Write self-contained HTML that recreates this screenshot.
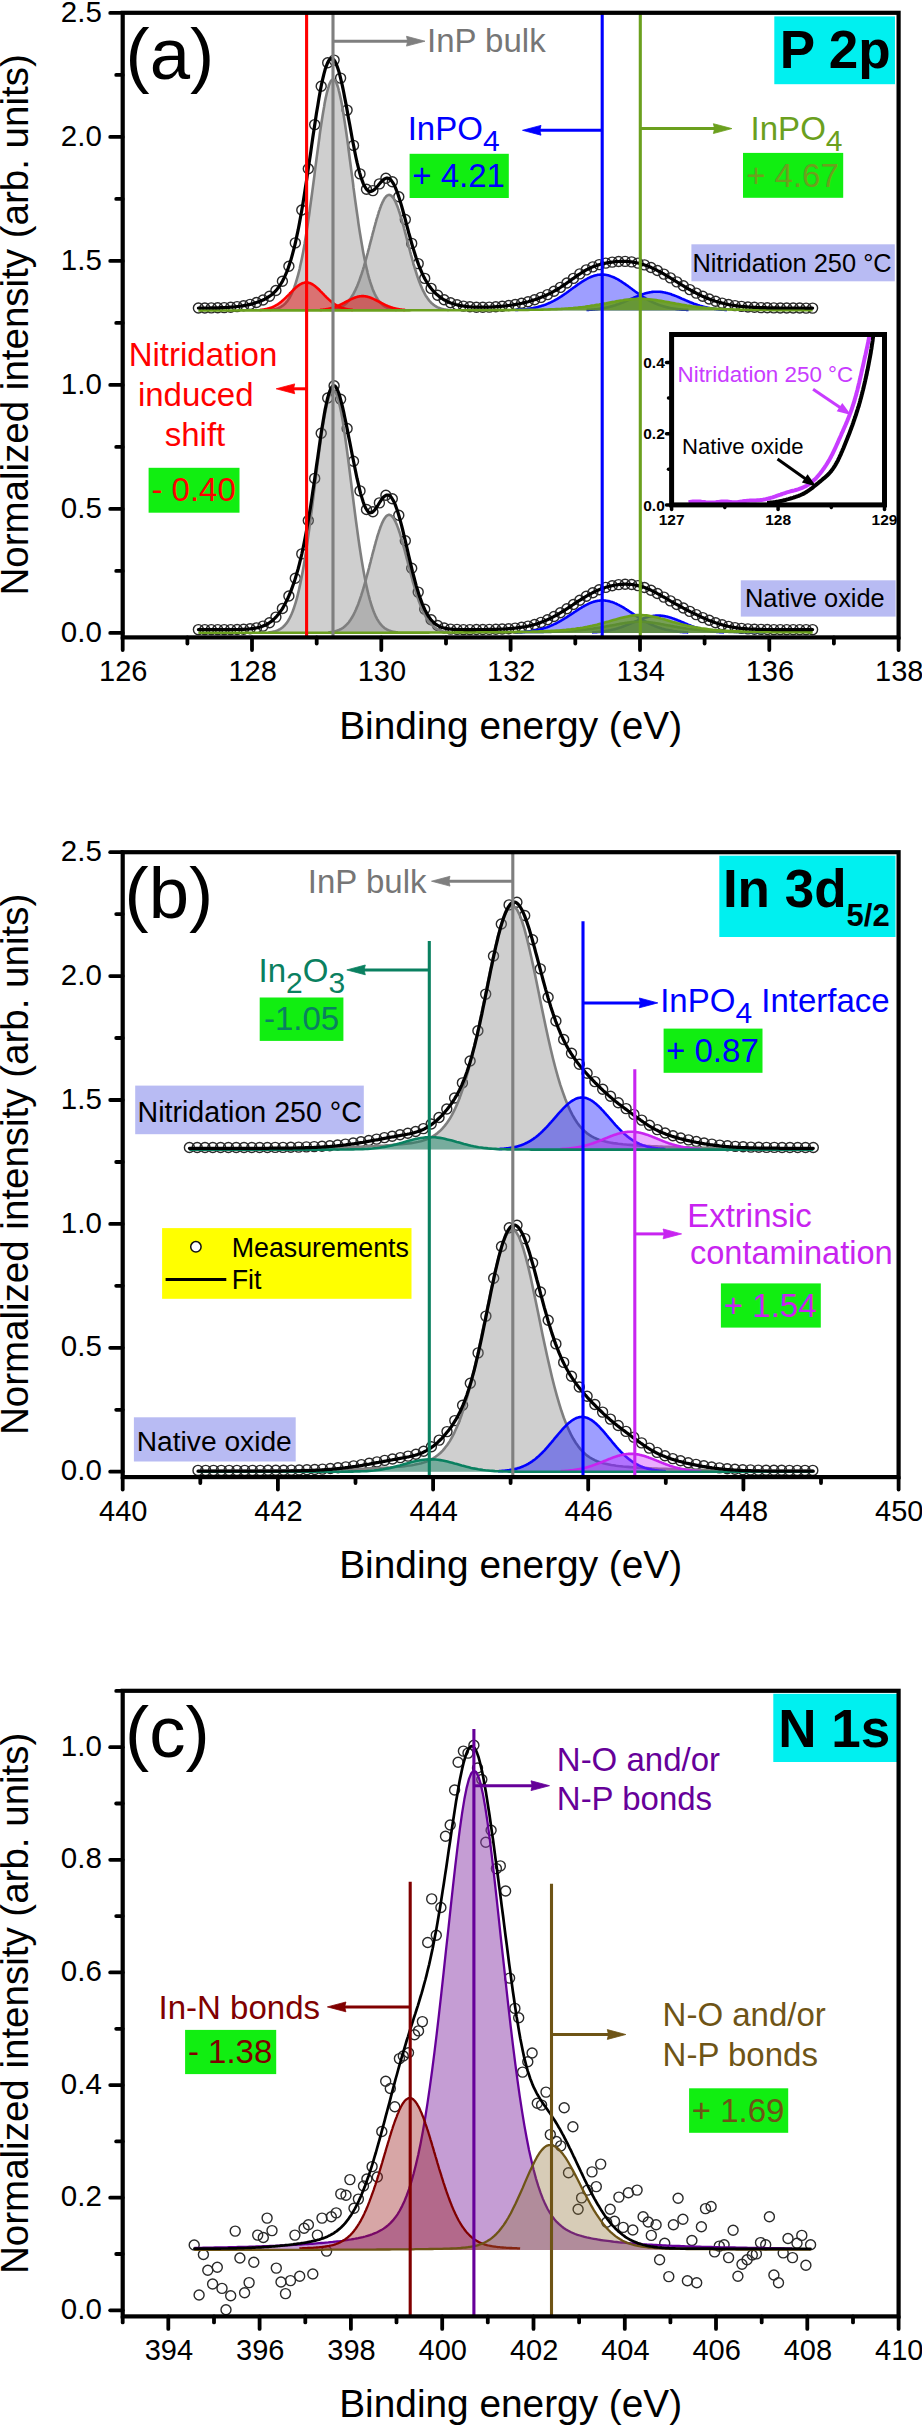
<!DOCTYPE html>
<html><head><meta charset="utf-8"><style>
html,body{margin:0;padding:0;background:#fff;}
svg{display:block;}
text{font-family:"Liberation Sans",sans-serif;}
.tk{stroke:#000;stroke-width:3.8;stroke-linecap:round;}
.fr{fill:none;stroke:#000;stroke-width:4.2;}
.tl{font-size:29px;fill:#000;}
.at{font-size:38.8px;fill:#000;}
.dp{fill:none;stroke:#2a2a2a;stroke-width:1.4;}
</style></head><body>
<svg width="922" height="2425" viewBox="0 0 922 2425">
<rect width="922" height="2425" fill="#fff"/>

<circle cx="198.4" cy="308.0" r="5.0" class="dp"/>
<circle cx="204.8" cy="308.0" r="5.0" class="dp"/>
<circle cx="211.3" cy="307.9" r="5.0" class="dp"/>
<circle cx="217.7" cy="307.8" r="5.0" class="dp"/>
<circle cx="224.2" cy="307.6" r="5.0" class="dp"/>
<circle cx="230.7" cy="307.2" r="5.0" class="dp"/>
<circle cx="237.1" cy="306.6" r="5.0" class="dp"/>
<circle cx="243.6" cy="305.7" r="5.0" class="dp"/>
<circle cx="250.1" cy="304.4" r="5.0" class="dp"/>
<circle cx="256.5" cy="302.5" r="5.0" class="dp"/>
<circle cx="263.0" cy="300.0" r="5.0" class="dp"/>
<circle cx="269.5" cy="296.3" r="5.0" class="dp"/>
<circle cx="275.9" cy="290.5" r="5.0" class="dp"/>
<circle cx="282.4" cy="281.3" r="5.0" class="dp"/>
<circle cx="288.9" cy="266.2" r="5.0" class="dp"/>
<circle cx="295.3" cy="242.9" r="5.0" class="dp"/>
<circle cx="301.8" cy="210.0" r="5.0" class="dp"/>
<circle cx="308.3" cy="168.8" r="5.0" class="dp"/>
<circle cx="314.7" cy="124.6" r="5.0" class="dp"/>
<circle cx="321.2" cy="86.2" r="5.0" class="dp"/>
<circle cx="327.7" cy="62.7" r="5.0" class="dp"/>
<circle cx="334.1" cy="60.1" r="5.0" class="dp"/>
<circle cx="340.6" cy="78.1" r="5.0" class="dp"/>
<circle cx="347.1" cy="110.1" r="5.0" class="dp"/>
<circle cx="353.5" cy="145.4" r="5.0" class="dp"/>
<circle cx="360.0" cy="173.9" r="5.0" class="dp"/>
<circle cx="366.5" cy="189.2" r="5.0" class="dp"/>
<circle cx="372.9" cy="190.6" r="5.0" class="dp"/>
<circle cx="379.4" cy="183.9" r="5.0" class="dp"/>
<circle cx="385.9" cy="178.3" r="5.0" class="dp"/>
<circle cx="392.3" cy="181.8" r="5.0" class="dp"/>
<circle cx="398.8" cy="196.8" r="5.0" class="dp"/>
<circle cx="405.3" cy="219.5" r="5.0" class="dp"/>
<circle cx="411.7" cy="243.4" r="5.0" class="dp"/>
<circle cx="418.2" cy="263.6" r="5.0" class="dp"/>
<circle cx="424.7" cy="278.4" r="5.0" class="dp"/>
<circle cx="431.1" cy="288.4" r="5.0" class="dp"/>
<circle cx="437.6" cy="295.2" r="5.0" class="dp"/>
<circle cx="444.1" cy="299.7" r="5.0" class="dp"/>
<circle cx="450.5" cy="302.8" r="5.0" class="dp"/>
<circle cx="457.0" cy="304.8" r="5.0" class="dp"/>
<circle cx="463.4" cy="306.1" r="5.0" class="dp"/>
<circle cx="469.9" cy="306.8" r="5.0" class="dp"/>
<circle cx="476.4" cy="307.2" r="5.0" class="dp"/>
<circle cx="482.8" cy="307.2" r="5.0" class="dp"/>
<circle cx="489.3" cy="307.1" r="5.0" class="dp"/>
<circle cx="495.8" cy="306.7" r="5.0" class="dp"/>
<circle cx="502.2" cy="306.2" r="5.0" class="dp"/>
<circle cx="508.7" cy="305.5" r="5.0" class="dp"/>
<circle cx="515.2" cy="304.5" r="5.0" class="dp"/>
<circle cx="521.6" cy="303.3" r="5.0" class="dp"/>
<circle cx="528.1" cy="301.7" r="5.0" class="dp"/>
<circle cx="534.6" cy="299.8" r="5.0" class="dp"/>
<circle cx="541.0" cy="297.4" r="5.0" class="dp"/>
<circle cx="547.5" cy="294.6" r="5.0" class="dp"/>
<circle cx="554.0" cy="291.3" r="5.0" class="dp"/>
<circle cx="560.4" cy="287.4" r="5.0" class="dp"/>
<circle cx="566.9" cy="283.0" r="5.0" class="dp"/>
<circle cx="573.4" cy="278.4" r="5.0" class="dp"/>
<circle cx="579.8" cy="273.9" r="5.0" class="dp"/>
<circle cx="586.3" cy="269.9" r="5.0" class="dp"/>
<circle cx="592.8" cy="266.9" r="5.0" class="dp"/>
<circle cx="599.2" cy="264.6" r="5.0" class="dp"/>
<circle cx="605.7" cy="263.1" r="5.0" class="dp"/>
<circle cx="612.2" cy="262.1" r="5.0" class="dp"/>
<circle cx="618.6" cy="261.5" r="5.0" class="dp"/>
<circle cx="625.1" cy="261.4" r="5.0" class="dp"/>
<circle cx="631.6" cy="261.9" r="5.0" class="dp"/>
<circle cx="638.0" cy="263.1" r="5.0" class="dp"/>
<circle cx="644.5" cy="264.9" r="5.0" class="dp"/>
<circle cx="651.0" cy="267.5" r="5.0" class="dp"/>
<circle cx="657.4" cy="270.5" r="5.0" class="dp"/>
<circle cx="663.9" cy="274.1" r="5.0" class="dp"/>
<circle cx="670.4" cy="277.9" r="5.0" class="dp"/>
<circle cx="676.8" cy="281.9" r="5.0" class="dp"/>
<circle cx="683.3" cy="285.8" r="5.0" class="dp"/>
<circle cx="689.8" cy="289.6" r="5.0" class="dp"/>
<circle cx="696.2" cy="293.1" r="5.0" class="dp"/>
<circle cx="702.7" cy="296.3" r="5.0" class="dp"/>
<circle cx="709.2" cy="299.0" r="5.0" class="dp"/>
<circle cx="715.6" cy="301.2" r="5.0" class="dp"/>
<circle cx="722.1" cy="303.1" r="5.0" class="dp"/>
<circle cx="728.5" cy="304.5" r="5.0" class="dp"/>
<circle cx="735.0" cy="305.6" r="5.0" class="dp"/>
<circle cx="741.5" cy="306.4" r="5.0" class="dp"/>
<circle cx="747.9" cy="307.0" r="5.0" class="dp"/>
<circle cx="754.4" cy="307.3" r="5.0" class="dp"/>
<circle cx="760.9" cy="307.6" r="5.0" class="dp"/>
<circle cx="767.3" cy="307.8" r="5.0" class="dp"/>
<circle cx="773.8" cy="307.9" r="5.0" class="dp"/>
<circle cx="780.3" cy="308.0" r="5.0" class="dp"/>
<circle cx="786.7" cy="308.0" r="5.0" class="dp"/>
<circle cx="793.2" cy="308.0" r="5.0" class="dp"/>
<circle cx="799.7" cy="308.0" r="5.0" class="dp"/>
<circle cx="806.1" cy="308.1" r="5.0" class="dp"/>
<circle cx="812.6" cy="308.1" r="5.0" class="dp"/>
<circle cx="198.4" cy="629.6" r="5.0" class="dp"/>
<circle cx="204.8" cy="629.6" r="5.0" class="dp"/>
<circle cx="211.3" cy="629.6" r="5.0" class="dp"/>
<circle cx="217.7" cy="629.6" r="5.0" class="dp"/>
<circle cx="224.2" cy="629.6" r="5.0" class="dp"/>
<circle cx="230.7" cy="629.6" r="5.0" class="dp"/>
<circle cx="237.1" cy="629.5" r="5.0" class="dp"/>
<circle cx="243.6" cy="629.3" r="5.0" class="dp"/>
<circle cx="250.1" cy="628.8" r="5.0" class="dp"/>
<circle cx="256.5" cy="627.9" r="5.0" class="dp"/>
<circle cx="263.0" cy="626.1" r="5.0" class="dp"/>
<circle cx="269.5" cy="622.7" r="5.0" class="dp"/>
<circle cx="275.9" cy="617.1" r="5.0" class="dp"/>
<circle cx="282.4" cy="608.5" r="5.0" class="dp"/>
<circle cx="288.9" cy="596.0" r="5.0" class="dp"/>
<circle cx="295.3" cy="578.3" r="5.0" class="dp"/>
<circle cx="301.8" cy="553.9" r="5.0" class="dp"/>
<circle cx="308.3" cy="520.5" r="5.0" class="dp"/>
<circle cx="314.7" cy="478.4" r="5.0" class="dp"/>
<circle cx="321.2" cy="433.3" r="5.0" class="dp"/>
<circle cx="327.7" cy="398.0" r="5.0" class="dp"/>
<circle cx="334.1" cy="385.7" r="5.0" class="dp"/>
<circle cx="340.6" cy="399.3" r="5.0" class="dp"/>
<circle cx="347.1" cy="428.5" r="5.0" class="dp"/>
<circle cx="353.5" cy="461.3" r="5.0" class="dp"/>
<circle cx="360.0" cy="490.9" r="5.0" class="dp"/>
<circle cx="366.5" cy="509.5" r="5.0" class="dp"/>
<circle cx="372.9" cy="511.8" r="5.0" class="dp"/>
<circle cx="379.4" cy="502.9" r="5.0" class="dp"/>
<circle cx="385.9" cy="495.3" r="5.0" class="dp"/>
<circle cx="392.3" cy="498.8" r="5.0" class="dp"/>
<circle cx="398.8" cy="515.3" r="5.0" class="dp"/>
<circle cx="405.3" cy="540.8" r="5.0" class="dp"/>
<circle cx="411.7" cy="568.3" r="5.0" class="dp"/>
<circle cx="418.2" cy="592.1" r="5.0" class="dp"/>
<circle cx="424.7" cy="609.3" r="5.0" class="dp"/>
<circle cx="431.1" cy="619.8" r="5.0" class="dp"/>
<circle cx="437.6" cy="625.5" r="5.0" class="dp"/>
<circle cx="444.1" cy="628.0" r="5.0" class="dp"/>
<circle cx="450.5" cy="629.1" r="5.0" class="dp"/>
<circle cx="457.0" cy="629.4" r="5.0" class="dp"/>
<circle cx="463.4" cy="629.6" r="5.0" class="dp"/>
<circle cx="469.9" cy="629.6" r="5.0" class="dp"/>
<circle cx="476.4" cy="629.5" r="5.0" class="dp"/>
<circle cx="482.8" cy="629.5" r="5.0" class="dp"/>
<circle cx="489.3" cy="629.4" r="5.0" class="dp"/>
<circle cx="495.8" cy="629.3" r="5.0" class="dp"/>
<circle cx="502.2" cy="629.0" r="5.0" class="dp"/>
<circle cx="508.7" cy="628.7" r="5.0" class="dp"/>
<circle cx="515.2" cy="628.1" r="5.0" class="dp"/>
<circle cx="521.6" cy="627.3" r="5.0" class="dp"/>
<circle cx="528.1" cy="626.1" r="5.0" class="dp"/>
<circle cx="534.6" cy="624.5" r="5.0" class="dp"/>
<circle cx="541.0" cy="622.4" r="5.0" class="dp"/>
<circle cx="547.5" cy="619.7" r="5.0" class="dp"/>
<circle cx="554.0" cy="616.5" r="5.0" class="dp"/>
<circle cx="560.4" cy="612.8" r="5.0" class="dp"/>
<circle cx="566.9" cy="608.7" r="5.0" class="dp"/>
<circle cx="573.4" cy="604.5" r="5.0" class="dp"/>
<circle cx="579.8" cy="600.2" r="5.0" class="dp"/>
<circle cx="586.3" cy="596.2" r="5.0" class="dp"/>
<circle cx="592.8" cy="592.7" r="5.0" class="dp"/>
<circle cx="599.2" cy="589.7" r="5.0" class="dp"/>
<circle cx="605.7" cy="587.4" r="5.0" class="dp"/>
<circle cx="612.2" cy="585.7" r="5.0" class="dp"/>
<circle cx="618.6" cy="584.6" r="5.0" class="dp"/>
<circle cx="625.1" cy="584.2" r="5.0" class="dp"/>
<circle cx="631.6" cy="584.5" r="5.0" class="dp"/>
<circle cx="638.0" cy="585.6" r="5.0" class="dp"/>
<circle cx="644.5" cy="587.5" r="5.0" class="dp"/>
<circle cx="651.0" cy="590.2" r="5.0" class="dp"/>
<circle cx="657.4" cy="593.5" r="5.0" class="dp"/>
<circle cx="663.9" cy="597.1" r="5.0" class="dp"/>
<circle cx="670.4" cy="600.9" r="5.0" class="dp"/>
<circle cx="676.8" cy="604.5" r="5.0" class="dp"/>
<circle cx="683.3" cy="608.0" r="5.0" class="dp"/>
<circle cx="689.8" cy="611.4" r="5.0" class="dp"/>
<circle cx="696.2" cy="614.6" r="5.0" class="dp"/>
<circle cx="702.7" cy="617.6" r="5.0" class="dp"/>
<circle cx="709.2" cy="620.3" r="5.0" class="dp"/>
<circle cx="715.6" cy="622.8" r="5.0" class="dp"/>
<circle cx="722.1" cy="624.8" r="5.0" class="dp"/>
<circle cx="728.5" cy="626.4" r="5.0" class="dp"/>
<circle cx="735.0" cy="627.6" r="5.0" class="dp"/>
<circle cx="741.5" cy="628.4" r="5.0" class="dp"/>
<circle cx="747.9" cy="628.9" r="5.0" class="dp"/>
<circle cx="754.4" cy="629.2" r="5.0" class="dp"/>
<circle cx="760.9" cy="629.4" r="5.0" class="dp"/>
<circle cx="767.3" cy="629.5" r="5.0" class="dp"/>
<circle cx="773.8" cy="629.6" r="5.0" class="dp"/>
<circle cx="780.3" cy="629.6" r="5.0" class="dp"/>
<circle cx="786.7" cy="629.6" r="5.0" class="dp"/>
<circle cx="793.2" cy="629.6" r="5.0" class="dp"/>
<circle cx="799.7" cy="629.6" r="5.0" class="dp"/>
<circle cx="806.1" cy="629.6" r="5.0" class="dp"/>
<circle cx="812.6" cy="629.6" r="5.0" class="dp"/>
<path d="M269.8,310.5 L269.8,310.0 270.3,309.9 270.8,309.9 271.2,309.8 271.7,309.8 272.2,309.7 272.7,309.6 273.2,309.5 273.7,309.4 274.2,309.3 274.7,309.2 275.2,309.1 275.7,309.0 276.1,308.9 276.6,308.7 277.1,308.6 277.6,308.4 278.1,308.2 278.6,308.0 279.1,307.8 279.6,307.6 280.1,307.3 280.6,307.1 281.0,306.8 281.5,306.5 282.0,306.2 282.5,305.8 283.0,305.5 283.5,305.1 284.0,304.7 284.5,304.2 285.0,303.8 285.5,303.3 285.9,302.7 286.4,302.2 286.9,301.6 287.4,301.0 287.9,300.3 288.4,299.6 288.9,298.8 289.4,298.0 289.9,297.2 290.3,296.3 290.8,295.4 291.3,294.4 291.8,293.4 292.3,292.3 292.8,291.2 293.3,290.0 293.8,288.7 294.3,287.4 294.8,286.0 295.2,284.6 295.7,283.1 296.2,281.5 296.7,279.9 297.2,278.2 297.7,276.4 298.2,274.6 298.7,272.7 299.2,270.7 299.7,268.7 300.1,266.5 300.6,264.3 301.1,262.1 301.6,259.7 302.1,257.3 302.6,254.8 303.1,252.2 303.6,249.5 304.1,246.8 304.6,244.0 305.0,241.1 305.5,238.2 306.0,235.2 306.5,232.1 307.0,228.9 307.5,225.7 308.0,222.5 308.5,219.1 309.0,215.7 309.5,212.3 309.9,208.8 310.4,205.2 310.9,201.6 311.4,198.0 311.9,194.3 312.4,190.6 312.9,186.9 313.4,183.2 313.9,179.4 314.4,175.6 314.8,171.8 315.3,168.1 315.8,164.3 316.3,160.5 316.8,156.7 317.3,153.0 317.8,149.3 318.3,145.6 318.8,141.9 319.3,138.3 319.7,134.8 320.2,131.3 320.7,127.9 321.2,124.5 321.7,121.3 322.2,118.1 322.7,115.0 323.2,112.0 323.7,109.1 324.2,106.3 324.6,103.6 325.1,101.0 325.6,98.5 326.1,96.2 326.6,94.0 327.1,92.0 327.6,90.1 328.1,88.3 328.6,86.7 329.0,85.2 329.5,83.9 330.0,82.8 330.5,81.8 331.0,81.0 331.5,80.3 332.0,79.8 332.5,79.5 333.0,79.4 333.5,79.4 333.9,79.6 334.4,79.9 334.9,80.5 335.4,81.1 335.9,82.0 336.4,83.0 336.9,84.2 337.4,85.5 337.9,87.0 338.4,88.7 338.8,90.5 339.3,92.4 339.8,94.5 340.3,96.7 340.8,99.0 341.3,101.5 341.8,104.1 342.3,106.8 342.8,109.6 343.3,112.6 343.7,115.6 344.2,118.7 344.7,121.9 345.2,125.2 345.7,128.6 346.2,132.0 346.7,135.5 347.2,139.1 347.7,142.7 348.2,146.3 348.6,150.0 349.1,153.7 349.6,157.5 350.1,161.3 350.6,165.0 351.1,168.8 351.6,172.6 352.1,176.4 352.6,180.2 353.1,183.9 353.5,187.7 354.0,191.4 354.5,195.1 355.0,198.8 355.5,202.4 356.0,206.0 356.5,209.5 357.0,213.0 357.5,216.4 358.0,219.8 358.4,223.1 358.9,226.4 359.4,229.6 359.9,232.7 360.4,235.8 360.9,238.8 361.4,241.7 361.9,244.6 362.4,247.4 362.8,250.1 363.3,252.7 363.8,255.3 364.3,257.8 364.8,260.2 365.3,262.5 365.8,264.8 366.3,267.0 366.8,269.1 367.3,271.1 367.7,273.1 368.2,275.0 368.7,276.8 369.2,278.6 369.7,280.2 370.2,281.9 370.7,283.4 371.2,284.9 371.7,286.3 372.2,287.7 372.6,289.0 373.1,290.2 373.6,291.4 374.1,292.5 374.6,293.6 375.1,294.6 375.6,295.6 376.1,296.5 376.6,297.4 377.1,298.2 377.5,299.0 378.0,299.7 378.5,300.4 379.0,301.1 379.5,301.7 380.0,302.3 380.5,302.9 381.0,303.4 381.5,303.9 382.0,304.3 382.4,304.8 382.9,305.2 383.4,305.6 383.9,305.9 384.4,306.3 384.9,306.6 385.4,306.9 385.9,307.1 386.4,307.4 386.9,307.6 387.3,307.9 387.8,308.1 388.3,308.3 388.8,308.4 389.3,308.6 389.8,308.7 390.3,308.9 390.8,309.0 391.3,309.1 391.8,309.3 392.2,309.4 392.7,309.5 393.2,309.5 393.7,309.6 394.2,309.7 394.7,309.8 395.2,309.8 395.7,309.9 396.2,310.0 396.7,310.0 L396.7,310.5 Z" fill="rgba(128,128,128,0.38)" stroke="none"/>
<polyline points="269.8,310.0 270.3,309.9 270.8,309.9 271.2,309.8 271.7,309.8 272.2,309.7 272.7,309.6 273.2,309.5 273.7,309.4 274.2,309.3 274.7,309.2 275.2,309.1 275.7,309.0 276.1,308.9 276.6,308.7 277.1,308.6 277.6,308.4 278.1,308.2 278.6,308.0 279.1,307.8 279.6,307.6 280.1,307.3 280.6,307.1 281.0,306.8 281.5,306.5 282.0,306.2 282.5,305.8 283.0,305.5 283.5,305.1 284.0,304.7 284.5,304.2 285.0,303.8 285.5,303.3 285.9,302.7 286.4,302.2 286.9,301.6 287.4,301.0 287.9,300.3 288.4,299.6 288.9,298.8 289.4,298.0 289.9,297.2 290.3,296.3 290.8,295.4 291.3,294.4 291.8,293.4 292.3,292.3 292.8,291.2 293.3,290.0 293.8,288.7 294.3,287.4 294.8,286.0 295.2,284.6 295.7,283.1 296.2,281.5 296.7,279.9 297.2,278.2 297.7,276.4 298.2,274.6 298.7,272.7 299.2,270.7 299.7,268.7 300.1,266.5 300.6,264.3 301.1,262.1 301.6,259.7 302.1,257.3 302.6,254.8 303.1,252.2 303.6,249.5 304.1,246.8 304.6,244.0 305.0,241.1 305.5,238.2 306.0,235.2 306.5,232.1 307.0,228.9 307.5,225.7 308.0,222.5 308.5,219.1 309.0,215.7 309.5,212.3 309.9,208.8 310.4,205.2 310.9,201.6 311.4,198.0 311.9,194.3 312.4,190.6 312.9,186.9 313.4,183.2 313.9,179.4 314.4,175.6 314.8,171.8 315.3,168.1 315.8,164.3 316.3,160.5 316.8,156.7 317.3,153.0 317.8,149.3 318.3,145.6 318.8,141.9 319.3,138.3 319.7,134.8 320.2,131.3 320.7,127.9 321.2,124.5 321.7,121.3 322.2,118.1 322.7,115.0 323.2,112.0 323.7,109.1 324.2,106.3 324.6,103.6 325.1,101.0 325.6,98.5 326.1,96.2 326.6,94.0 327.1,92.0 327.6,90.1 328.1,88.3 328.6,86.7 329.0,85.2 329.5,83.9 330.0,82.8 330.5,81.8 331.0,81.0 331.5,80.3 332.0,79.8 332.5,79.5 333.0,79.4 333.5,79.4 333.9,79.6 334.4,79.9 334.9,80.5 335.4,81.1 335.9,82.0 336.4,83.0 336.9,84.2 337.4,85.5 337.9,87.0 338.4,88.7 338.8,90.5 339.3,92.4 339.8,94.5 340.3,96.7 340.8,99.0 341.3,101.5 341.8,104.1 342.3,106.8 342.8,109.6 343.3,112.6 343.7,115.6 344.2,118.7 344.7,121.9 345.2,125.2 345.7,128.6 346.2,132.0 346.7,135.5 347.2,139.1 347.7,142.7 348.2,146.3 348.6,150.0 349.1,153.7 349.6,157.5 350.1,161.3 350.6,165.0 351.1,168.8 351.6,172.6 352.1,176.4 352.6,180.2 353.1,183.9 353.5,187.7 354.0,191.4 354.5,195.1 355.0,198.8 355.5,202.4 356.0,206.0 356.5,209.5 357.0,213.0 357.5,216.4 358.0,219.8 358.4,223.1 358.9,226.4 359.4,229.6 359.9,232.7 360.4,235.8 360.9,238.8 361.4,241.7 361.9,244.6 362.4,247.4 362.8,250.1 363.3,252.7 363.8,255.3 364.3,257.8 364.8,260.2 365.3,262.5 365.8,264.8 366.3,267.0 366.8,269.1 367.3,271.1 367.7,273.1 368.2,275.0 368.7,276.8 369.2,278.6 369.7,280.2 370.2,281.9 370.7,283.4 371.2,284.9 371.7,286.3 372.2,287.7 372.6,289.0 373.1,290.2 373.6,291.4 374.1,292.5 374.6,293.6 375.1,294.6 375.6,295.6 376.1,296.5 376.6,297.4 377.1,298.2 377.5,299.0 378.0,299.7 378.5,300.4 379.0,301.1 379.5,301.7 380.0,302.3 380.5,302.9 381.0,303.4 381.5,303.9 382.0,304.3 382.4,304.8 382.9,305.2 383.4,305.6 383.9,305.9 384.4,306.3 384.9,306.6 385.4,306.9 385.9,307.1 386.4,307.4 386.9,307.6 387.3,307.9 387.8,308.1 388.3,308.3 388.8,308.4 389.3,308.6 389.8,308.7 390.3,308.9 390.8,309.0 391.3,309.1 391.8,309.3 392.2,309.4 392.7,309.5 393.2,309.5 393.7,309.6 394.2,309.7 394.7,309.8 395.2,309.8 395.7,309.9 396.2,310.0 396.7,310.0" fill="none" stroke="#7f7f7f" stroke-width="2.6" stroke-linejoin="round"/>
<path d="M329.4,310.5 L329.4,310.0 329.8,309.9 330.3,309.9 330.8,309.9 331.2,309.8 331.7,309.7 332.1,309.7 332.6,309.6 333.1,309.5 333.5,309.4 334.0,309.4 334.4,309.3 334.9,309.2 335.4,309.1 335.8,309.0 336.3,308.8 336.8,308.7 337.2,308.6 337.7,308.4 338.1,308.3 338.6,308.1 339.1,307.9 339.5,307.8 340.0,307.6 340.4,307.4 340.9,307.1 341.4,306.9 341.8,306.6 342.3,306.4 342.8,306.1 343.2,305.8 343.7,305.5 344.1,305.2 344.6,304.8 345.1,304.5 345.5,304.1 346.0,303.7 346.4,303.3 346.9,302.8 347.4,302.3 347.8,301.8 348.3,301.3 348.8,300.8 349.2,300.2 349.7,299.6 350.1,299.0 350.6,298.4 351.1,297.7 351.5,297.0 352.0,296.3 352.4,295.5 352.9,294.8 353.4,293.9 353.8,293.1 354.3,292.2 354.7,291.3 355.2,290.4 355.7,289.4 356.1,288.4 356.6,287.3 357.1,286.3 357.5,285.2 358.0,284.0 358.4,282.9 358.9,281.6 359.4,280.4 359.8,279.1 360.3,277.8 360.7,276.5 361.2,275.1 361.7,273.7 362.1,272.3 362.6,270.8 363.1,269.3 363.5,267.8 364.0,266.3 364.4,264.7 364.9,263.1 365.4,261.5 365.8,259.8 366.3,258.2 366.7,256.5 367.2,254.8 367.7,253.0 368.1,251.3 368.6,249.6 369.1,247.8 369.5,246.0 370.0,244.2 370.4,242.5 370.9,240.7 371.4,238.9 371.8,237.1 372.3,235.3 372.7,233.6 373.2,231.8 373.7,230.1 374.1,228.3 374.6,226.6 375.1,224.9 375.5,223.2 376.0,221.6 376.4,219.9 376.9,218.3 377.4,216.8 377.8,215.3 378.3,213.8 378.7,212.3 379.2,210.9 379.7,209.6 380.1,208.2 380.6,207.0 381.0,205.8 381.5,204.6 382.0,203.5 382.4,202.5 382.9,201.5 383.4,200.6 383.8,199.7 384.3,198.9 384.7,198.2 385.2,197.6 385.7,197.0 386.1,196.5 386.6,196.0 387.0,195.7 387.5,195.4 388.0,195.2 388.4,195.0 388.9,194.9 389.4,194.9 389.8,195.0 390.3,195.2 390.7,195.4 391.2,195.7 391.7,196.1 392.1,196.5 392.6,197.1 393.0,197.6 393.5,198.3 394.0,199.0 394.4,199.8 394.9,200.7 395.4,201.6 395.8,202.6 396.3,203.7 396.7,204.8 397.2,205.9 397.7,207.2 398.1,208.4 398.6,209.7 399.0,211.1 399.5,212.5 400.0,214.0 400.4,215.5 400.9,217.0 401.4,218.6 401.8,220.2 402.3,221.8 402.7,223.4 403.2,225.1 403.7,226.8 404.1,228.6 404.6,230.3 405.0,232.0 405.5,233.8 406.0,235.6 406.4,237.4 406.9,239.1 407.3,240.9 407.8,242.7 408.3,244.5 408.7,246.3 409.2,248.0 409.7,249.8 410.1,251.5 410.6,253.3 411.0,255.0 411.5,256.7 412.0,258.4 412.4,260.0 412.9,261.7 413.3,263.3 413.8,264.9 414.3,266.5 414.7,268.0 415.2,269.5 415.7,271.0 416.1,272.5 416.6,273.9 417.0,275.3 417.5,276.7 418.0,278.0 418.4,279.3 418.9,280.6 419.3,281.8 419.8,283.0 420.3,284.2 420.7,285.3 421.2,286.4 421.7,287.5 422.1,288.5 422.6,289.5 423.0,290.5 423.5,291.4 424.0,292.3 424.4,293.2 424.9,294.1 425.3,294.9 425.8,295.7 426.3,296.4 426.7,297.1 427.2,297.8 427.7,298.5 428.1,299.1 428.6,299.7 429.0,300.3 429.5,300.9 430.0,301.4 430.4,301.9 430.9,302.4 431.3,302.9 431.8,303.3 432.3,303.7 432.7,304.1 433.2,304.5 433.6,304.9 434.1,305.2 434.6,305.5 435.0,305.9 435.5,306.1 436.0,306.4 436.4,306.7 436.9,306.9 437.3,307.2 437.8,307.4 438.3,307.6 438.7,307.8 439.2,308.0 439.6,308.1 440.1,308.3 440.6,308.5 441.0,308.6 441.5,308.7 442.0,308.9 442.4,309.0 442.9,309.1 443.3,309.2 443.8,309.3 444.3,309.4 444.7,309.5 445.2,309.5 445.6,309.6 446.1,309.7 446.6,309.7 447.0,309.8 447.5,309.9 448.0,309.9 448.4,310.0 448.9,310.0 L448.9,310.5 Z" fill="rgba(128,128,128,0.38)" stroke="none"/>
<polyline points="329.4,310.0 329.8,309.9 330.3,309.9 330.8,309.9 331.2,309.8 331.7,309.7 332.1,309.7 332.6,309.6 333.1,309.5 333.5,309.4 334.0,309.4 334.4,309.3 334.9,309.2 335.4,309.1 335.8,309.0 336.3,308.8 336.8,308.7 337.2,308.6 337.7,308.4 338.1,308.3 338.6,308.1 339.1,307.9 339.5,307.8 340.0,307.6 340.4,307.4 340.9,307.1 341.4,306.9 341.8,306.6 342.3,306.4 342.8,306.1 343.2,305.8 343.7,305.5 344.1,305.2 344.6,304.8 345.1,304.5 345.5,304.1 346.0,303.7 346.4,303.3 346.9,302.8 347.4,302.3 347.8,301.8 348.3,301.3 348.8,300.8 349.2,300.2 349.7,299.6 350.1,299.0 350.6,298.4 351.1,297.7 351.5,297.0 352.0,296.3 352.4,295.5 352.9,294.8 353.4,293.9 353.8,293.1 354.3,292.2 354.7,291.3 355.2,290.4 355.7,289.4 356.1,288.4 356.6,287.3 357.1,286.3 357.5,285.2 358.0,284.0 358.4,282.9 358.9,281.6 359.4,280.4 359.8,279.1 360.3,277.8 360.7,276.5 361.2,275.1 361.7,273.7 362.1,272.3 362.6,270.8 363.1,269.3 363.5,267.8 364.0,266.3 364.4,264.7 364.9,263.1 365.4,261.5 365.8,259.8 366.3,258.2 366.7,256.5 367.2,254.8 367.7,253.0 368.1,251.3 368.6,249.6 369.1,247.8 369.5,246.0 370.0,244.2 370.4,242.5 370.9,240.7 371.4,238.9 371.8,237.1 372.3,235.3 372.7,233.6 373.2,231.8 373.7,230.1 374.1,228.3 374.6,226.6 375.1,224.9 375.5,223.2 376.0,221.6 376.4,219.9 376.9,218.3 377.4,216.8 377.8,215.3 378.3,213.8 378.7,212.3 379.2,210.9 379.7,209.6 380.1,208.2 380.6,207.0 381.0,205.8 381.5,204.6 382.0,203.5 382.4,202.5 382.9,201.5 383.4,200.6 383.8,199.7 384.3,198.9 384.7,198.2 385.2,197.6 385.7,197.0 386.1,196.5 386.6,196.0 387.0,195.7 387.5,195.4 388.0,195.2 388.4,195.0 388.9,194.9 389.4,194.9 389.8,195.0 390.3,195.2 390.7,195.4 391.2,195.7 391.7,196.1 392.1,196.5 392.6,197.1 393.0,197.6 393.5,198.3 394.0,199.0 394.4,199.8 394.9,200.7 395.4,201.6 395.8,202.6 396.3,203.7 396.7,204.8 397.2,205.9 397.7,207.2 398.1,208.4 398.6,209.7 399.0,211.1 399.5,212.5 400.0,214.0 400.4,215.5 400.9,217.0 401.4,218.6 401.8,220.2 402.3,221.8 402.7,223.4 403.2,225.1 403.7,226.8 404.1,228.6 404.6,230.3 405.0,232.0 405.5,233.8 406.0,235.6 406.4,237.4 406.9,239.1 407.3,240.9 407.8,242.7 408.3,244.5 408.7,246.3 409.2,248.0 409.7,249.8 410.1,251.5 410.6,253.3 411.0,255.0 411.5,256.7 412.0,258.4 412.4,260.0 412.9,261.7 413.3,263.3 413.8,264.9 414.3,266.5 414.7,268.0 415.2,269.5 415.7,271.0 416.1,272.5 416.6,273.9 417.0,275.3 417.5,276.7 418.0,278.0 418.4,279.3 418.9,280.6 419.3,281.8 419.8,283.0 420.3,284.2 420.7,285.3 421.2,286.4 421.7,287.5 422.1,288.5 422.6,289.5 423.0,290.5 423.5,291.4 424.0,292.3 424.4,293.2 424.9,294.1 425.3,294.9 425.8,295.7 426.3,296.4 426.7,297.1 427.2,297.8 427.7,298.5 428.1,299.1 428.6,299.7 429.0,300.3 429.5,300.9 430.0,301.4 430.4,301.9 430.9,302.4 431.3,302.9 431.8,303.3 432.3,303.7 432.7,304.1 433.2,304.5 433.6,304.9 434.1,305.2 434.6,305.5 435.0,305.9 435.5,306.1 436.0,306.4 436.4,306.7 436.9,306.9 437.3,307.2 437.8,307.4 438.3,307.6 438.7,307.8 439.2,308.0 439.6,308.1 440.1,308.3 440.6,308.5 441.0,308.6 441.5,308.7 442.0,308.9 442.4,309.0 442.9,309.1 443.3,309.2 443.8,309.3 444.3,309.4 444.7,309.5 445.2,309.5 445.6,309.6 446.1,309.7 446.6,309.7 447.0,309.8 447.5,309.9 448.0,309.9 448.4,310.0 448.9,310.0" fill="none" stroke="#7f7f7f" stroke-width="2.6" stroke-linejoin="round"/>
<path d="M259.6,310.5 L259.6,310.0 260.0,310.0 260.4,309.9 260.7,309.9 261.1,309.9 261.4,309.8 261.8,309.8 262.2,309.7 262.5,309.7 262.9,309.6 263.2,309.6 263.6,309.5 264.0,309.5 264.3,309.4 264.7,309.4 265.0,309.3 265.4,309.2 265.8,309.1 266.1,309.1 266.5,309.0 266.8,308.9 267.2,308.8 267.6,308.7 267.9,308.6 268.3,308.6 268.7,308.4 269.0,308.3 269.4,308.2 269.7,308.1 270.1,308.0 270.5,307.9 270.8,307.8 271.2,307.6 271.5,307.5 271.9,307.3 272.3,307.2 272.6,307.0 273.0,306.9 273.3,306.7 273.7,306.6 274.1,306.4 274.4,306.2 274.8,306.0 275.1,305.8 275.5,305.6 275.9,305.4 276.2,305.2 276.6,305.0 276.9,304.8 277.3,304.6 277.7,304.3 278.0,304.1 278.4,303.8 278.7,303.6 279.1,303.3 279.5,303.1 279.8,302.8 280.2,302.5 280.6,302.3 280.9,302.0 281.3,301.7 281.6,301.4 282.0,301.1 282.4,300.8 282.7,300.5 283.1,300.2 283.4,299.8 283.8,299.5 284.2,299.2 284.5,298.8 284.9,298.5 285.2,298.2 285.6,297.8 286.0,297.5 286.3,297.1 286.7,296.7 287.0,296.4 287.4,296.0 287.8,295.7 288.1,295.3 288.5,294.9 288.8,294.5 289.2,294.2 289.6,293.8 289.9,293.4 290.3,293.1 290.6,292.7 291.0,292.3 291.4,291.9 291.7,291.6 292.1,291.2 292.5,290.8 292.8,290.5 293.2,290.1 293.5,289.8 293.9,289.4 294.3,289.1 294.6,288.7 295.0,288.4 295.3,288.1 295.7,287.7 296.1,287.4 296.4,287.1 296.8,286.8 297.1,286.5 297.5,286.2 297.9,285.9 298.2,285.7 298.6,285.4 298.9,285.2 299.3,284.9 299.7,284.7 300.0,284.5 300.4,284.2 300.7,284.0 301.1,283.9 301.5,283.7 301.8,283.5 302.2,283.3 302.5,283.2 302.9,283.1 303.3,283.0 303.6,282.9 304.0,282.8 304.3,282.7 304.7,282.6 305.1,282.6 305.4,282.5 305.8,282.5 306.2,282.5 306.5,282.5 306.9,282.5 307.2,282.5 307.6,282.6 308.0,282.6 308.3,282.7 308.7,282.8 309.0,282.9 309.4,283.0 309.8,283.1 310.1,283.2 310.5,283.4 310.8,283.5 311.2,283.7 311.6,283.9 311.9,284.0 312.3,284.2 312.6,284.5 313.0,284.7 313.4,284.9 313.7,285.2 314.1,285.4 314.4,285.7 314.8,286.0 315.2,286.2 315.5,286.5 315.9,286.8 316.2,287.1 316.6,287.4 317.0,287.8 317.3,288.1 317.7,288.4 318.1,288.7 318.4,289.1 318.8,289.4 319.1,289.8 319.5,290.1 319.9,290.5 320.2,290.9 320.6,291.2 320.9,291.6 321.3,292.0 321.7,292.3 322.0,292.7 322.4,293.1 322.7,293.4 323.1,293.8 323.5,294.2 323.8,294.5 324.2,294.9 324.5,295.3 324.9,295.7 325.3,296.0 325.6,296.4 326.0,296.7 326.3,297.1 326.7,297.5 327.1,297.8 327.4,298.2 327.8,298.5 328.1,298.8 328.5,299.2 328.9,299.5 329.2,299.8 329.6,300.2 330.0,300.5 330.3,300.8 330.7,301.1 331.0,301.4 331.4,301.7 331.8,302.0 332.1,302.3 332.5,302.5 332.8,302.8 333.2,303.1 333.6,303.3 333.9,303.6 334.3,303.9 334.6,304.1 335.0,304.3 335.4,304.6 335.7,304.8 336.1,305.0 336.4,305.2 336.8,305.4 337.2,305.6 337.5,305.8 337.9,306.0 338.2,306.2 338.6,306.4 339.0,306.6 339.3,306.7 339.7,306.9 340.0,307.0 340.4,307.2 340.8,307.3 341.1,307.5 341.5,307.6 341.8,307.8 342.2,307.9 342.6,308.0 342.9,308.1 343.3,308.2 343.7,308.3 344.0,308.5 344.4,308.6 344.7,308.6 345.1,308.7 345.5,308.8 345.8,308.9 346.2,309.0 346.5,309.1 346.9,309.1 347.3,309.2 347.6,309.3 348.0,309.4 348.3,309.4 348.7,309.5 349.1,309.5 349.4,309.6 349.8,309.6 350.1,309.7 350.5,309.7 350.9,309.8 351.2,309.8 351.6,309.9 351.9,309.9 352.3,309.9 352.7,310.0 353.0,310.0 L353.0,310.5 Z" fill="rgba(230,0,0,0.45)" stroke="none"/>
<polyline points="259.6,310.0 260.0,310.0 260.4,309.9 260.7,309.9 261.1,309.9 261.4,309.8 261.8,309.8 262.2,309.7 262.5,309.7 262.9,309.6 263.2,309.6 263.6,309.5 264.0,309.5 264.3,309.4 264.7,309.4 265.0,309.3 265.4,309.2 265.8,309.1 266.1,309.1 266.5,309.0 266.8,308.9 267.2,308.8 267.6,308.7 267.9,308.6 268.3,308.6 268.7,308.4 269.0,308.3 269.4,308.2 269.7,308.1 270.1,308.0 270.5,307.9 270.8,307.8 271.2,307.6 271.5,307.5 271.9,307.3 272.3,307.2 272.6,307.0 273.0,306.9 273.3,306.7 273.7,306.6 274.1,306.4 274.4,306.2 274.8,306.0 275.1,305.8 275.5,305.6 275.9,305.4 276.2,305.2 276.6,305.0 276.9,304.8 277.3,304.6 277.7,304.3 278.0,304.1 278.4,303.8 278.7,303.6 279.1,303.3 279.5,303.1 279.8,302.8 280.2,302.5 280.6,302.3 280.9,302.0 281.3,301.7 281.6,301.4 282.0,301.1 282.4,300.8 282.7,300.5 283.1,300.2 283.4,299.8 283.8,299.5 284.2,299.2 284.5,298.8 284.9,298.5 285.2,298.2 285.6,297.8 286.0,297.5 286.3,297.1 286.7,296.7 287.0,296.4 287.4,296.0 287.8,295.7 288.1,295.3 288.5,294.9 288.8,294.5 289.2,294.2 289.6,293.8 289.9,293.4 290.3,293.1 290.6,292.7 291.0,292.3 291.4,291.9 291.7,291.6 292.1,291.2 292.5,290.8 292.8,290.5 293.2,290.1 293.5,289.8 293.9,289.4 294.3,289.1 294.6,288.7 295.0,288.4 295.3,288.1 295.7,287.7 296.1,287.4 296.4,287.1 296.8,286.8 297.1,286.5 297.5,286.2 297.9,285.9 298.2,285.7 298.6,285.4 298.9,285.2 299.3,284.9 299.7,284.7 300.0,284.5 300.4,284.2 300.7,284.0 301.1,283.9 301.5,283.7 301.8,283.5 302.2,283.3 302.5,283.2 302.9,283.1 303.3,283.0 303.6,282.9 304.0,282.8 304.3,282.7 304.7,282.6 305.1,282.6 305.4,282.5 305.8,282.5 306.2,282.5 306.5,282.5 306.9,282.5 307.2,282.5 307.6,282.6 308.0,282.6 308.3,282.7 308.7,282.8 309.0,282.9 309.4,283.0 309.8,283.1 310.1,283.2 310.5,283.4 310.8,283.5 311.2,283.7 311.6,283.9 311.9,284.0 312.3,284.2 312.6,284.5 313.0,284.7 313.4,284.9 313.7,285.2 314.1,285.4 314.4,285.7 314.8,286.0 315.2,286.2 315.5,286.5 315.9,286.8 316.2,287.1 316.6,287.4 317.0,287.8 317.3,288.1 317.7,288.4 318.1,288.7 318.4,289.1 318.8,289.4 319.1,289.8 319.5,290.1 319.9,290.5 320.2,290.9 320.6,291.2 320.9,291.6 321.3,292.0 321.7,292.3 322.0,292.7 322.4,293.1 322.7,293.4 323.1,293.8 323.5,294.2 323.8,294.5 324.2,294.9 324.5,295.3 324.9,295.7 325.3,296.0 325.6,296.4 326.0,296.7 326.3,297.1 326.7,297.5 327.1,297.8 327.4,298.2 327.8,298.5 328.1,298.8 328.5,299.2 328.9,299.5 329.2,299.8 329.6,300.2 330.0,300.5 330.3,300.8 330.7,301.1 331.0,301.4 331.4,301.7 331.8,302.0 332.1,302.3 332.5,302.5 332.8,302.8 333.2,303.1 333.6,303.3 333.9,303.6 334.3,303.9 334.6,304.1 335.0,304.3 335.4,304.6 335.7,304.8 336.1,305.0 336.4,305.2 336.8,305.4 337.2,305.6 337.5,305.8 337.9,306.0 338.2,306.2 338.6,306.4 339.0,306.6 339.3,306.7 339.7,306.9 340.0,307.0 340.4,307.2 340.8,307.3 341.1,307.5 341.5,307.6 341.8,307.8 342.2,307.9 342.6,308.0 342.9,308.1 343.3,308.2 343.7,308.3 344.0,308.5 344.4,308.6 344.7,308.6 345.1,308.7 345.5,308.8 345.8,308.9 346.2,309.0 346.5,309.1 346.9,309.1 347.3,309.2 347.6,309.3 348.0,309.4 348.3,309.4 348.7,309.5 349.1,309.5 349.4,309.6 349.8,309.6 350.1,309.7 350.5,309.7 350.9,309.8 351.2,309.8 351.6,309.9 351.9,309.9 352.3,309.9 352.7,310.0 353.0,310.0" fill="none" stroke="#ff0000" stroke-width="2.6" stroke-linejoin="round"/>
<path d="M319.8,310.5 L319.8,310.0 320.2,310.0 320.5,309.9 320.8,309.9 321.2,309.9 321.5,309.9 321.8,309.8 322.2,309.8 322.5,309.8 322.8,309.7 323.1,309.7 323.5,309.6 323.8,309.6 324.1,309.6 324.5,309.5 324.8,309.5 325.1,309.4 325.5,309.4 325.8,309.3 326.1,309.3 326.4,309.2 326.8,309.1 327.1,309.1 327.4,309.0 327.8,309.0 328.1,308.9 328.4,308.8 328.8,308.8 329.1,308.7 329.4,308.6 329.7,308.5 330.1,308.4 330.4,308.4 330.7,308.3 331.1,308.2 331.4,308.1 331.7,308.0 332.0,307.9 332.4,307.8 332.7,307.7 333.0,307.6 333.4,307.5 333.7,307.4 334.0,307.3 334.4,307.2 334.7,307.1 335.0,307.0 335.3,306.8 335.7,306.7 336.0,306.6 336.3,306.5 336.7,306.3 337.0,306.2 337.3,306.1 337.7,305.9 338.0,305.8 338.3,305.6 338.6,305.5 339.0,305.3 339.3,305.2 339.6,305.0 340.0,304.9 340.3,304.7 340.6,304.6 341.0,304.4 341.3,304.3 341.6,304.1 341.9,303.9 342.3,303.8 342.6,303.6 342.9,303.4 343.3,303.3 343.6,303.1 343.9,302.9 344.3,302.8 344.6,302.6 344.9,302.4 345.2,302.2 345.6,302.1 345.9,301.9 346.2,301.7 346.6,301.5 346.9,301.4 347.2,301.2 347.5,301.0 347.9,300.8 348.2,300.7 348.5,300.5 348.9,300.3 349.2,300.2 349.5,300.0 349.9,299.8 350.2,299.7 350.5,299.5 350.8,299.3 351.2,299.2 351.5,299.0 351.8,298.9 352.2,298.7 352.5,298.6 352.8,298.4 353.2,298.3 353.5,298.2 353.8,298.0 354.1,297.9 354.5,297.8 354.8,297.6 355.1,297.5 355.5,297.4 355.8,297.3 356.1,297.2 356.5,297.1 356.8,297.0 357.1,296.9 357.4,296.8 357.8,296.7 358.1,296.6 358.4,296.6 358.8,296.5 359.1,296.4 359.4,296.4 359.7,296.3 360.1,296.3 360.4,296.2 360.7,296.2 361.1,296.2 361.4,296.2 361.7,296.1 362.1,296.1 362.4,296.1 362.7,296.1 363.0,296.1 363.4,296.1 363.7,296.1 364.0,296.2 364.4,296.2 364.7,296.2 365.0,296.3 365.4,296.3 365.7,296.4 366.0,296.4 366.3,296.5 366.7,296.6 367.0,296.6 367.3,296.7 367.7,296.8 368.0,296.9 368.3,297.0 368.7,297.1 369.0,297.2 369.3,297.3 369.6,297.4 370.0,297.5 370.3,297.6 370.6,297.7 371.0,297.9 371.3,298.0 371.6,298.1 371.9,298.3 372.3,298.4 372.6,298.5 372.9,298.7 373.3,298.8 373.6,299.0 373.9,299.2 374.3,299.3 374.6,299.5 374.9,299.6 375.2,299.8 375.6,300.0 375.9,300.1 376.2,300.3 376.6,300.5 376.9,300.6 377.2,300.8 377.6,301.0 377.9,301.2 378.2,301.3 378.5,301.5 378.9,301.7 379.2,301.9 379.5,302.0 379.9,302.2 380.2,302.4 380.5,302.5 380.9,302.7 381.2,302.9 381.5,303.1 381.8,303.2 382.2,303.4 382.5,303.6 382.8,303.7 383.2,303.9 383.5,304.1 383.8,304.2 384.1,304.4 384.5,304.6 384.8,304.7 385.1,304.9 385.5,305.0 385.8,305.2 386.1,305.3 386.5,305.5 386.8,305.6 387.1,305.8 387.4,305.9 387.8,306.0 388.1,306.2 388.4,306.3 388.8,306.4 389.1,306.6 389.4,306.7 389.8,306.8 390.1,306.9 390.4,307.0 390.7,307.2 391.1,307.3 391.4,307.4 391.7,307.5 392.1,307.6 392.4,307.7 392.7,307.8 393.1,307.9 393.4,308.0 393.7,308.1 394.0,308.2 394.4,308.3 394.7,308.3 395.0,308.4 395.4,308.5 395.7,308.6 396.0,308.7 396.3,308.7 396.7,308.8 397.0,308.9 397.3,308.9 397.7,309.0 398.0,309.1 398.3,309.1 398.7,309.2 399.0,309.2 399.3,309.3 399.6,309.4 400.0,309.4 400.3,309.5 400.6,309.5 401.0,309.5 401.3,309.6 401.6,309.6 402.0,309.7 402.3,309.7 402.6,309.7 402.9,309.8 403.3,309.8 403.6,309.9 403.9,309.9 404.3,309.9 404.6,309.9 404.9,310.0 405.3,310.0 L405.3,310.5 Z" fill="rgba(230,0,0,0.45)" stroke="none"/>
<polyline points="319.8,310.0 320.2,310.0 320.5,309.9 320.8,309.9 321.2,309.9 321.5,309.9 321.8,309.8 322.2,309.8 322.5,309.8 322.8,309.7 323.1,309.7 323.5,309.6 323.8,309.6 324.1,309.6 324.5,309.5 324.8,309.5 325.1,309.4 325.5,309.4 325.8,309.3 326.1,309.3 326.4,309.2 326.8,309.1 327.1,309.1 327.4,309.0 327.8,309.0 328.1,308.9 328.4,308.8 328.8,308.8 329.1,308.7 329.4,308.6 329.7,308.5 330.1,308.4 330.4,308.4 330.7,308.3 331.1,308.2 331.4,308.1 331.7,308.0 332.0,307.9 332.4,307.8 332.7,307.7 333.0,307.6 333.4,307.5 333.7,307.4 334.0,307.3 334.4,307.2 334.7,307.1 335.0,307.0 335.3,306.8 335.7,306.7 336.0,306.6 336.3,306.5 336.7,306.3 337.0,306.2 337.3,306.1 337.7,305.9 338.0,305.8 338.3,305.6 338.6,305.5 339.0,305.3 339.3,305.2 339.6,305.0 340.0,304.9 340.3,304.7 340.6,304.6 341.0,304.4 341.3,304.3 341.6,304.1 341.9,303.9 342.3,303.8 342.6,303.6 342.9,303.4 343.3,303.3 343.6,303.1 343.9,302.9 344.3,302.8 344.6,302.6 344.9,302.4 345.2,302.2 345.6,302.1 345.9,301.9 346.2,301.7 346.6,301.5 346.9,301.4 347.2,301.2 347.5,301.0 347.9,300.8 348.2,300.7 348.5,300.5 348.9,300.3 349.2,300.2 349.5,300.0 349.9,299.8 350.2,299.7 350.5,299.5 350.8,299.3 351.2,299.2 351.5,299.0 351.8,298.9 352.2,298.7 352.5,298.6 352.8,298.4 353.2,298.3 353.5,298.2 353.8,298.0 354.1,297.9 354.5,297.8 354.8,297.6 355.1,297.5 355.5,297.4 355.8,297.3 356.1,297.2 356.5,297.1 356.8,297.0 357.1,296.9 357.4,296.8 357.8,296.7 358.1,296.6 358.4,296.6 358.8,296.5 359.1,296.4 359.4,296.4 359.7,296.3 360.1,296.3 360.4,296.2 360.7,296.2 361.1,296.2 361.4,296.2 361.7,296.1 362.1,296.1 362.4,296.1 362.7,296.1 363.0,296.1 363.4,296.1 363.7,296.1 364.0,296.2 364.4,296.2 364.7,296.2 365.0,296.3 365.4,296.3 365.7,296.4 366.0,296.4 366.3,296.5 366.7,296.6 367.0,296.6 367.3,296.7 367.7,296.8 368.0,296.9 368.3,297.0 368.7,297.1 369.0,297.2 369.3,297.3 369.6,297.4 370.0,297.5 370.3,297.6 370.6,297.7 371.0,297.9 371.3,298.0 371.6,298.1 371.9,298.3 372.3,298.4 372.6,298.5 372.9,298.7 373.3,298.8 373.6,299.0 373.9,299.2 374.3,299.3 374.6,299.5 374.9,299.6 375.2,299.8 375.6,300.0 375.9,300.1 376.2,300.3 376.6,300.5 376.9,300.6 377.2,300.8 377.6,301.0 377.9,301.2 378.2,301.3 378.5,301.5 378.9,301.7 379.2,301.9 379.5,302.0 379.9,302.2 380.2,302.4 380.5,302.5 380.9,302.7 381.2,302.9 381.5,303.1 381.8,303.2 382.2,303.4 382.5,303.6 382.8,303.7 383.2,303.9 383.5,304.1 383.8,304.2 384.1,304.4 384.5,304.6 384.8,304.7 385.1,304.9 385.5,305.0 385.8,305.2 386.1,305.3 386.5,305.5 386.8,305.6 387.1,305.8 387.4,305.9 387.8,306.0 388.1,306.2 388.4,306.3 388.8,306.4 389.1,306.6 389.4,306.7 389.8,306.8 390.1,306.9 390.4,307.0 390.7,307.2 391.1,307.3 391.4,307.4 391.7,307.5 392.1,307.6 392.4,307.7 392.7,307.8 393.1,307.9 393.4,308.0 393.7,308.1 394.0,308.2 394.4,308.3 394.7,308.3 395.0,308.4 395.4,308.5 395.7,308.6 396.0,308.7 396.3,308.7 396.7,308.8 397.0,308.9 397.3,308.9 397.7,309.0 398.0,309.1 398.3,309.1 398.7,309.2 399.0,309.2 399.3,309.3 399.6,309.4 400.0,309.4 400.3,309.5 400.6,309.5 401.0,309.5 401.3,309.6 401.6,309.6 402.0,309.7 402.3,309.7 402.6,309.7 402.9,309.8 403.3,309.8 403.6,309.9 403.9,309.9 404.3,309.9 404.6,309.9 404.9,310.0 405.3,310.0" fill="none" stroke="#ff0000" stroke-width="2.6" stroke-linejoin="round"/>
<path d="M515.1,310.5 L515.1,310.0 515.7,310.0 516.4,309.9 517.1,309.9 517.8,309.9 518.4,309.8 519.1,309.8 519.8,309.7 520.4,309.7 521.1,309.6 521.8,309.6 522.4,309.5 523.1,309.4 523.8,309.4 524.5,309.3 525.1,309.2 525.8,309.2 526.5,309.1 527.1,309.0 527.8,308.9 528.5,308.8 529.1,308.7 529.8,308.6 530.5,308.5 531.1,308.4 531.8,308.3 532.5,308.2 533.2,308.0 533.8,307.9 534.5,307.8 535.2,307.6 535.8,307.5 536.5,307.3 537.2,307.2 537.8,307.0 538.5,306.8 539.2,306.6 539.9,306.4 540.5,306.3 541.2,306.1 541.9,305.8 542.5,305.6 543.2,305.4 543.9,305.2 544.5,304.9 545.2,304.7 545.9,304.4 546.5,304.2 547.2,303.9 547.9,303.6 548.6,303.3 549.2,303.0 549.9,302.7 550.6,302.4 551.2,302.1 551.9,301.8 552.6,301.4 553.2,301.1 553.9,300.7 554.6,300.4 555.3,300.0 555.9,299.6 556.6,299.3 557.3,298.9 557.9,298.5 558.6,298.1 559.3,297.7 559.9,297.2 560.6,296.8 561.3,296.4 561.9,295.9 562.6,295.5 563.3,295.0 564.0,294.6 564.6,294.1 565.3,293.7 566.0,293.2 566.6,292.7 567.3,292.2 568.0,291.8 568.6,291.3 569.3,290.8 570.0,290.3 570.7,289.8 571.3,289.3 572.0,288.8 572.7,288.3 573.3,287.8 574.0,287.3 574.7,286.9 575.3,286.4 576.0,285.9 576.7,285.4 577.3,284.9 578.0,284.4 578.7,284.0 579.4,283.5 580.0,283.1 580.7,282.6 581.4,282.2 582.0,281.7 582.7,281.3 583.4,280.9 584.0,280.5 584.7,280.1 585.4,279.7 586.1,279.3 586.7,278.9 587.4,278.6 588.1,278.2 588.7,277.9 589.4,277.6 590.1,277.3 590.7,277.0 591.4,276.7 592.1,276.4 592.7,276.2 593.4,276.0 594.1,275.7 594.8,275.5 595.4,275.4 596.1,275.2 596.8,275.1 597.4,274.9 598.1,274.8 598.8,274.7 599.4,274.7 600.1,274.6 600.8,274.6 601.5,274.5 602.1,274.5 602.8,274.6 603.5,274.6 604.1,274.6 604.8,274.7 605.5,274.8 606.1,274.9 606.8,275.0 607.5,275.2 608.1,275.3 608.8,275.5 609.5,275.7 610.2,275.9 610.8,276.2 611.5,276.4 612.2,276.7 612.8,276.9 613.5,277.2 614.2,277.5 614.8,277.8 615.5,278.2 616.2,278.5 616.9,278.9 617.5,279.2 618.2,279.6 618.9,280.0 619.5,280.4 620.2,280.8 620.9,281.2 621.5,281.7 622.2,282.1 622.9,282.6 623.5,283.0 624.2,283.5 624.9,283.9 625.6,284.4 626.2,284.9 626.9,285.3 627.6,285.8 628.2,286.3 628.9,286.8 629.6,287.3 630.2,287.8 630.9,288.3 631.6,288.8 632.3,289.3 632.9,289.8 633.6,290.2 634.3,290.7 634.9,291.2 635.6,291.7 636.3,292.2 636.9,292.7 637.6,293.1 638.3,293.6 638.9,294.1 639.6,294.5 640.3,295.0 641.0,295.4 641.6,295.9 642.3,296.3 643.0,296.8 643.6,297.2 644.3,297.6 645.0,298.0 645.6,298.4 646.3,298.8 647.0,299.2 647.7,299.6 648.3,300.0 649.0,300.4 649.7,300.7 650.3,301.1 651.0,301.4 651.7,301.7 652.3,302.1 653.0,302.4 653.7,302.7 654.3,303.0 655.0,303.3 655.7,303.6 656.4,303.9 657.0,304.1 657.7,304.4 658.4,304.7 659.0,304.9 659.7,305.1 660.4,305.4 661.0,305.6 661.7,305.8 662.4,306.0 663.1,306.2 663.7,306.4 664.4,306.6 665.1,306.8 665.7,307.0 666.4,307.1 667.1,307.3 667.7,307.5 668.4,307.6 669.1,307.8 669.7,307.9 670.4,308.0 671.1,308.2 671.8,308.3 672.4,308.4 673.1,308.5 673.8,308.6 674.4,308.7 675.1,308.8 675.8,308.9 676.4,309.0 677.1,309.1 677.8,309.1 678.5,309.2 679.1,309.3 679.8,309.4 680.5,309.4 681.1,309.5 681.8,309.6 682.5,309.6 683.1,309.7 683.8,309.7 684.5,309.8 685.1,309.8 685.8,309.8 686.5,309.9 687.2,309.9 687.8,310.0 688.5,310.0 L688.5,310.5 Z" fill="rgba(0,0,255,0.38)" stroke="none"/>
<polyline points="515.1,310.0 515.7,310.0 516.4,309.9 517.1,309.9 517.8,309.9 518.4,309.8 519.1,309.8 519.8,309.7 520.4,309.7 521.1,309.6 521.8,309.6 522.4,309.5 523.1,309.4 523.8,309.4 524.5,309.3 525.1,309.2 525.8,309.2 526.5,309.1 527.1,309.0 527.8,308.9 528.5,308.8 529.1,308.7 529.8,308.6 530.5,308.5 531.1,308.4 531.8,308.3 532.5,308.2 533.2,308.0 533.8,307.9 534.5,307.8 535.2,307.6 535.8,307.5 536.5,307.3 537.2,307.2 537.8,307.0 538.5,306.8 539.2,306.6 539.9,306.4 540.5,306.3 541.2,306.1 541.9,305.8 542.5,305.6 543.2,305.4 543.9,305.2 544.5,304.9 545.2,304.7 545.9,304.4 546.5,304.2 547.2,303.9 547.9,303.6 548.6,303.3 549.2,303.0 549.9,302.7 550.6,302.4 551.2,302.1 551.9,301.8 552.6,301.4 553.2,301.1 553.9,300.7 554.6,300.4 555.3,300.0 555.9,299.6 556.6,299.3 557.3,298.9 557.9,298.5 558.6,298.1 559.3,297.7 559.9,297.2 560.6,296.8 561.3,296.4 561.9,295.9 562.6,295.5 563.3,295.0 564.0,294.6 564.6,294.1 565.3,293.7 566.0,293.2 566.6,292.7 567.3,292.2 568.0,291.8 568.6,291.3 569.3,290.8 570.0,290.3 570.7,289.8 571.3,289.3 572.0,288.8 572.7,288.3 573.3,287.8 574.0,287.3 574.7,286.9 575.3,286.4 576.0,285.9 576.7,285.4 577.3,284.9 578.0,284.4 578.7,284.0 579.4,283.5 580.0,283.1 580.7,282.6 581.4,282.2 582.0,281.7 582.7,281.3 583.4,280.9 584.0,280.5 584.7,280.1 585.4,279.7 586.1,279.3 586.7,278.9 587.4,278.6 588.1,278.2 588.7,277.9 589.4,277.6 590.1,277.3 590.7,277.0 591.4,276.7 592.1,276.4 592.7,276.2 593.4,276.0 594.1,275.7 594.8,275.5 595.4,275.4 596.1,275.2 596.8,275.1 597.4,274.9 598.1,274.8 598.8,274.7 599.4,274.7 600.1,274.6 600.8,274.6 601.5,274.5 602.1,274.5 602.8,274.6 603.5,274.6 604.1,274.6 604.8,274.7 605.5,274.8 606.1,274.9 606.8,275.0 607.5,275.2 608.1,275.3 608.8,275.5 609.5,275.7 610.2,275.9 610.8,276.2 611.5,276.4 612.2,276.7 612.8,276.9 613.5,277.2 614.2,277.5 614.8,277.8 615.5,278.2 616.2,278.5 616.9,278.9 617.5,279.2 618.2,279.6 618.9,280.0 619.5,280.4 620.2,280.8 620.9,281.2 621.5,281.7 622.2,282.1 622.9,282.6 623.5,283.0 624.2,283.5 624.9,283.9 625.6,284.4 626.2,284.9 626.9,285.3 627.6,285.8 628.2,286.3 628.9,286.8 629.6,287.3 630.2,287.8 630.9,288.3 631.6,288.8 632.3,289.3 632.9,289.8 633.6,290.2 634.3,290.7 634.9,291.2 635.6,291.7 636.3,292.2 636.9,292.7 637.6,293.1 638.3,293.6 638.9,294.1 639.6,294.5 640.3,295.0 641.0,295.4 641.6,295.9 642.3,296.3 643.0,296.8 643.6,297.2 644.3,297.6 645.0,298.0 645.6,298.4 646.3,298.8 647.0,299.2 647.7,299.6 648.3,300.0 649.0,300.4 649.7,300.7 650.3,301.1 651.0,301.4 651.7,301.7 652.3,302.1 653.0,302.4 653.7,302.7 654.3,303.0 655.0,303.3 655.7,303.6 656.4,303.9 657.0,304.1 657.7,304.4 658.4,304.7 659.0,304.9 659.7,305.1 660.4,305.4 661.0,305.6 661.7,305.8 662.4,306.0 663.1,306.2 663.7,306.4 664.4,306.6 665.1,306.8 665.7,307.0 666.4,307.1 667.1,307.3 667.7,307.5 668.4,307.6 669.1,307.8 669.7,307.9 670.4,308.0 671.1,308.2 671.8,308.3 672.4,308.4 673.1,308.5 673.8,308.6 674.4,308.7 675.1,308.8 675.8,308.9 676.4,309.0 677.1,309.1 677.8,309.1 678.5,309.2 679.1,309.3 679.8,309.4 680.5,309.4 681.1,309.5 681.8,309.6 682.5,309.6 683.1,309.7 683.8,309.7 684.5,309.8 685.1,309.8 685.8,309.8 686.5,309.9 687.2,309.9 687.8,310.0 688.5,310.0" fill="none" stroke="#0000ff" stroke-width="2.6" stroke-linejoin="round"/>
<path d="M586.5,310.5 L586.5,310.0 587.0,310.0 587.6,309.9 588.1,309.9 588.7,309.9 589.2,309.8 589.8,309.8 590.3,309.8 590.8,309.7 591.4,309.7 591.9,309.6 592.5,309.6 593.0,309.5 593.6,309.5 594.1,309.4 594.6,309.4 595.2,309.3 595.7,309.3 596.3,309.2 596.8,309.2 597.4,309.1 597.9,309.0 598.4,309.0 599.0,308.9 599.5,308.8 600.1,308.7 600.6,308.6 601.2,308.6 601.7,308.5 602.2,308.4 602.8,308.3 603.3,308.2 603.9,308.1 604.4,308.0 605.0,307.9 605.5,307.8 606.0,307.7 606.6,307.5 607.1,307.4 607.7,307.3 608.2,307.2 608.8,307.0 609.3,306.9 609.8,306.8 610.4,306.6 610.9,306.5 611.5,306.3 612.0,306.2 612.5,306.0 613.1,305.9 613.6,305.7 614.2,305.5 614.7,305.4 615.3,305.2 615.8,305.0 616.3,304.8 616.9,304.6 617.4,304.5 618.0,304.3 618.5,304.1 619.1,303.9 619.6,303.7 620.1,303.5 620.7,303.3 621.2,303.1 621.8,302.8 622.3,302.6 622.9,302.4 623.4,302.2 623.9,302.0 624.5,301.7 625.0,301.5 625.6,301.3 626.1,301.1 626.7,300.8 627.2,300.6 627.7,300.4 628.3,300.1 628.8,299.9 629.4,299.6 629.9,299.4 630.5,299.2 631.0,298.9 631.5,298.7 632.1,298.5 632.6,298.2 633.2,298.0 633.7,297.8 634.3,297.5 634.8,297.3 635.3,297.1 635.9,296.8 636.4,296.6 637.0,296.4 637.5,296.2 638.1,295.9 638.6,295.7 639.1,295.5 639.7,295.3 640.2,295.1 640.8,294.9 641.3,294.7 641.9,294.5 642.4,294.3 642.9,294.1 643.5,293.9 644.0,293.8 644.6,293.6 645.1,293.4 645.7,293.3 646.2,293.1 646.7,293.0 647.3,292.9 647.8,292.7 648.4,292.6 648.9,292.5 649.4,292.4 650.0,292.3 650.5,292.2 651.1,292.1 651.6,292.0 652.2,291.9 652.7,291.9 653.2,291.8 653.8,291.8 654.3,291.7 654.9,291.7 655.4,291.7 656.0,291.7 656.5,291.7 657.0,291.7 657.6,291.7 658.1,291.7 658.7,291.7 659.2,291.7 659.8,291.8 660.3,291.8 660.8,291.9 661.4,291.9 661.9,292.0 662.5,292.1 663.0,292.2 663.6,292.3 664.1,292.4 664.6,292.5 665.2,292.6 665.7,292.7 666.3,292.9 666.8,293.0 667.4,293.1 667.9,293.3 668.4,293.4 669.0,293.6 669.5,293.8 670.1,293.9 670.6,294.1 671.2,294.3 671.7,294.5 672.2,294.7 672.8,294.9 673.3,295.1 673.9,295.3 674.4,295.5 675.0,295.7 675.5,295.9 676.0,296.1 676.6,296.4 677.1,296.6 677.7,296.8 678.2,297.1 678.8,297.3 679.3,297.5 679.8,297.7 680.4,298.0 680.9,298.2 681.5,298.5 682.0,298.7 682.6,298.9 683.1,299.2 683.6,299.4 684.2,299.6 684.7,299.9 685.3,300.1 685.8,300.4 686.3,300.6 686.9,300.8 687.4,301.1 688.0,301.3 688.5,301.5 689.1,301.7 689.6,302.0 690.1,302.2 690.7,302.4 691.2,302.6 691.8,302.8 692.3,303.1 692.9,303.3 693.4,303.5 693.9,303.7 694.5,303.9 695.0,304.1 695.6,304.3 696.1,304.5 696.7,304.6 697.2,304.8 697.7,305.0 698.3,305.2 698.8,305.4 699.4,305.5 699.9,305.7 700.5,305.9 701.0,306.0 701.5,306.2 702.1,306.3 702.6,306.5 703.2,306.6 703.7,306.8 704.3,306.9 704.8,307.0 705.3,307.2 705.9,307.3 706.4,307.4 707.0,307.5 707.5,307.7 708.1,307.8 708.6,307.9 709.1,308.0 709.7,308.1 710.2,308.2 710.8,308.3 711.3,308.4 711.9,308.5 712.4,308.6 712.9,308.6 713.5,308.7 714.0,308.8 714.6,308.9 715.1,309.0 715.7,309.0 716.2,309.1 716.7,309.2 717.3,309.2 717.8,309.3 718.4,309.3 718.9,309.4 719.5,309.4 720.0,309.5 720.5,309.5 721.1,309.6 721.6,309.6 722.2,309.7 722.7,309.7 723.2,309.8 723.8,309.8 724.3,309.8 724.9,309.9 725.4,309.9 726.0,309.9 726.5,310.0 727.0,310.0 L727.0,310.5 Z" fill="rgba(0,0,255,0.38)" stroke="none"/>
<polyline points="586.5,310.0 587.0,310.0 587.6,309.9 588.1,309.9 588.7,309.9 589.2,309.8 589.8,309.8 590.3,309.8 590.8,309.7 591.4,309.7 591.9,309.6 592.5,309.6 593.0,309.5 593.6,309.5 594.1,309.4 594.6,309.4 595.2,309.3 595.7,309.3 596.3,309.2 596.8,309.2 597.4,309.1 597.9,309.0 598.4,309.0 599.0,308.9 599.5,308.8 600.1,308.7 600.6,308.6 601.2,308.6 601.7,308.5 602.2,308.4 602.8,308.3 603.3,308.2 603.9,308.1 604.4,308.0 605.0,307.9 605.5,307.8 606.0,307.7 606.6,307.5 607.1,307.4 607.7,307.3 608.2,307.2 608.8,307.0 609.3,306.9 609.8,306.8 610.4,306.6 610.9,306.5 611.5,306.3 612.0,306.2 612.5,306.0 613.1,305.9 613.6,305.7 614.2,305.5 614.7,305.4 615.3,305.2 615.8,305.0 616.3,304.8 616.9,304.6 617.4,304.5 618.0,304.3 618.5,304.1 619.1,303.9 619.6,303.7 620.1,303.5 620.7,303.3 621.2,303.1 621.8,302.8 622.3,302.6 622.9,302.4 623.4,302.2 623.9,302.0 624.5,301.7 625.0,301.5 625.6,301.3 626.1,301.1 626.7,300.8 627.2,300.6 627.7,300.4 628.3,300.1 628.8,299.9 629.4,299.6 629.9,299.4 630.5,299.2 631.0,298.9 631.5,298.7 632.1,298.5 632.6,298.2 633.2,298.0 633.7,297.8 634.3,297.5 634.8,297.3 635.3,297.1 635.9,296.8 636.4,296.6 637.0,296.4 637.5,296.2 638.1,295.9 638.6,295.7 639.1,295.5 639.7,295.3 640.2,295.1 640.8,294.9 641.3,294.7 641.9,294.5 642.4,294.3 642.9,294.1 643.5,293.9 644.0,293.8 644.6,293.6 645.1,293.4 645.7,293.3 646.2,293.1 646.7,293.0 647.3,292.9 647.8,292.7 648.4,292.6 648.9,292.5 649.4,292.4 650.0,292.3 650.5,292.2 651.1,292.1 651.6,292.0 652.2,291.9 652.7,291.9 653.2,291.8 653.8,291.8 654.3,291.7 654.9,291.7 655.4,291.7 656.0,291.7 656.5,291.7 657.0,291.7 657.6,291.7 658.1,291.7 658.7,291.7 659.2,291.7 659.8,291.8 660.3,291.8 660.8,291.9 661.4,291.9 661.9,292.0 662.5,292.1 663.0,292.2 663.6,292.3 664.1,292.4 664.6,292.5 665.2,292.6 665.7,292.7 666.3,292.9 666.8,293.0 667.4,293.1 667.9,293.3 668.4,293.4 669.0,293.6 669.5,293.8 670.1,293.9 670.6,294.1 671.2,294.3 671.7,294.5 672.2,294.7 672.8,294.9 673.3,295.1 673.9,295.3 674.4,295.5 675.0,295.7 675.5,295.9 676.0,296.1 676.6,296.4 677.1,296.6 677.7,296.8 678.2,297.1 678.8,297.3 679.3,297.5 679.8,297.7 680.4,298.0 680.9,298.2 681.5,298.5 682.0,298.7 682.6,298.9 683.1,299.2 683.6,299.4 684.2,299.6 684.7,299.9 685.3,300.1 685.8,300.4 686.3,300.6 686.9,300.8 687.4,301.1 688.0,301.3 688.5,301.5 689.1,301.7 689.6,302.0 690.1,302.2 690.7,302.4 691.2,302.6 691.8,302.8 692.3,303.1 692.9,303.3 693.4,303.5 693.9,303.7 694.5,303.9 695.0,304.1 695.6,304.3 696.1,304.5 696.7,304.6 697.2,304.8 697.7,305.0 698.3,305.2 698.8,305.4 699.4,305.5 699.9,305.7 700.5,305.9 701.0,306.0 701.5,306.2 702.1,306.3 702.6,306.5 703.2,306.6 703.7,306.8 704.3,306.9 704.8,307.0 705.3,307.2 705.9,307.3 706.4,307.4 707.0,307.5 707.5,307.7 708.1,307.8 708.6,307.9 709.1,308.0 709.7,308.1 710.2,308.2 710.8,308.3 711.3,308.4 711.9,308.5 712.4,308.6 712.9,308.6 713.5,308.7 714.0,308.8 714.6,308.9 715.1,309.0 715.7,309.0 716.2,309.1 716.7,309.2 717.3,309.2 717.8,309.3 718.4,309.3 718.9,309.4 719.5,309.4 720.0,309.5 720.5,309.5 721.1,309.6 721.6,309.6 722.2,309.7 722.7,309.7 723.2,309.8 723.8,309.8 724.3,309.8 724.9,309.9 725.4,309.9 726.0,309.9 726.5,310.0 727.0,310.0" fill="none" stroke="#0000ff" stroke-width="2.6" stroke-linejoin="round"/>
<path d="M198.4,310.5 L198.4,310.5 200.7,310.5 203.1,310.5 205.5,310.5 207.8,310.5 210.2,310.5 212.6,310.5 215.0,310.5 217.3,310.5 219.7,310.5 222.1,310.5 224.4,310.5 226.8,310.5 229.2,310.5 231.6,310.5 233.9,310.5 236.3,310.5 238.7,310.4 241.0,310.4 243.4,310.4 245.8,310.4 248.2,310.4 250.5,310.4 252.9,310.4 255.3,310.4 257.6,310.4 260.0,310.4 262.4,310.4 264.8,310.4 267.1,310.4 269.5,310.4 271.9,310.4 274.2,310.4 276.6,310.4 279.0,310.4 281.4,310.4 283.7,310.4 286.1,310.4 288.5,310.4 290.8,310.4 293.2,310.4 295.6,310.4 298.0,310.4 300.3,310.4 302.7,310.4 305.1,310.4 307.4,310.4 309.8,310.4 312.2,310.4 314.6,310.4 316.9,310.4 319.3,310.4 321.7,310.4 324.0,310.4 326.4,310.4 328.8,310.4 331.2,310.4 333.5,310.4 335.9,310.4 338.3,310.4 340.6,310.4 343.0,310.4 345.4,310.4 347.8,310.4 350.1,310.4 352.5,310.4 354.9,310.4 357.2,310.4 359.6,310.4 362.0,310.4 364.4,310.4 366.7,310.4 369.1,310.4 371.5,310.4 373.9,310.4 376.2,310.4 378.6,310.4 381.0,310.4 383.3,310.4 385.7,310.4 388.1,310.4 390.5,310.4 392.8,310.4 395.2,310.4 397.6,310.4 399.9,310.4 402.3,310.4 404.7,310.4 407.1,310.4 409.4,310.4 411.8,310.3 414.2,310.3 416.5,310.3 418.9,310.3 421.3,310.3 423.7,310.3 426.0,310.3 428.4,310.3 430.8,310.3 433.1,310.3 435.5,310.3 437.9,310.3 440.3,310.3 442.6,310.3 445.0,310.3 447.4,310.3 449.7,310.3 452.1,310.3 454.5,310.3 456.9,310.3 459.2,310.3 461.6,310.3 464.0,310.2 466.3,310.2 468.7,310.2 471.1,310.2 473.5,310.2 475.8,310.2 478.2,310.2 480.6,310.2 482.9,310.2 485.3,310.2 487.7,310.2 490.1,310.2 492.4,310.1 494.8,310.1 497.2,310.1 499.5,310.1 501.9,310.1 504.3,310.1 506.7,310.1 509.0,310.1 511.4,310.0 513.8,310.0 516.1,310.0 518.5,310.0 520.9,310.0 523.3,309.9 525.6,309.9 528.0,309.9 530.4,309.8 532.8,309.8 535.1,309.8 537.5,309.7 539.9,309.7 542.2,309.6 544.6,309.5 547.0,309.5 549.4,309.4 551.7,309.3 554.1,309.2 556.5,309.1 558.8,309.0 561.2,308.9 563.6,308.7 566.0,308.5 568.3,308.4 570.7,308.2 573.1,308.0 575.4,307.7 577.8,307.5 580.2,307.2 582.6,307.0 584.9,306.7 587.3,306.3 589.7,306.0 592.0,305.6 594.4,305.3 596.8,304.9 599.2,304.5 601.5,304.0 603.9,303.6 606.3,303.2 608.6,302.7 611.0,302.3 613.4,301.9 615.8,301.4 618.1,301.0 620.5,300.6 622.9,300.3 625.2,299.9 627.6,299.6 630.0,299.4 632.4,299.1 634.7,299.0 637.1,298.9 639.5,298.8 641.8,298.9 644.2,298.9 646.6,299.1 649.0,299.3 651.3,299.5 653.7,299.8 656.1,300.1 658.4,300.5 660.8,300.9 663.2,301.3 665.6,301.7 667.9,302.1 670.3,302.6 672.7,303.0 675.0,303.4 677.4,303.9 679.8,304.3 682.2,304.7 684.5,305.1 686.9,305.5 689.3,305.8 691.7,306.2 694.0,306.5 696.4,306.8 698.8,307.1 701.1,307.4 703.5,307.6 705.9,307.9 708.3,308.1 710.6,308.3 713.0,308.5 715.4,308.6 717.7,308.8 720.1,308.9 722.5,309.1 724.9,309.2 727.2,309.3 729.6,309.4 732.0,309.4 734.3,309.5 736.7,309.6 739.1,309.6 741.5,309.7 743.8,309.7 746.2,309.8 748.6,309.8 750.9,309.9 753.3,309.9 755.7,309.9 758.1,309.9 760.4,310.0 762.8,310.0 765.2,310.0 767.5,310.0 769.9,310.0 772.3,310.1 774.7,310.1 777.0,310.1 779.4,310.1 781.8,310.1 784.1,310.1 786.5,310.1 788.9,310.2 791.3,310.2 793.6,310.2 796.0,310.2 798.4,310.2 800.7,310.2 803.1,310.2 805.5,310.2 807.9,310.2 810.2,310.2 812.6,310.2 L812.6,310.5 Z" fill="rgba(104,160,22,0.86)" stroke="none"/>
<polyline points="198.4,310.5 200.7,310.5 203.1,310.5 205.5,310.5 207.8,310.5 210.2,310.5 212.6,310.5 215.0,310.5 217.3,310.5 219.7,310.5 222.1,310.5 224.4,310.5 226.8,310.5 229.2,310.5 231.6,310.5 233.9,310.5 236.3,310.5 238.7,310.4 241.0,310.4 243.4,310.4 245.8,310.4 248.2,310.4 250.5,310.4 252.9,310.4 255.3,310.4 257.6,310.4 260.0,310.4 262.4,310.4 264.8,310.4 267.1,310.4 269.5,310.4 271.9,310.4 274.2,310.4 276.6,310.4 279.0,310.4 281.4,310.4 283.7,310.4 286.1,310.4 288.5,310.4 290.8,310.4 293.2,310.4 295.6,310.4 298.0,310.4 300.3,310.4 302.7,310.4 305.1,310.4 307.4,310.4 309.8,310.4 312.2,310.4 314.6,310.4 316.9,310.4 319.3,310.4 321.7,310.4 324.0,310.4 326.4,310.4 328.8,310.4 331.2,310.4 333.5,310.4 335.9,310.4 338.3,310.4 340.6,310.4 343.0,310.4 345.4,310.4 347.8,310.4 350.1,310.4 352.5,310.4 354.9,310.4 357.2,310.4 359.6,310.4 362.0,310.4 364.4,310.4 366.7,310.4 369.1,310.4 371.5,310.4 373.9,310.4 376.2,310.4 378.6,310.4 381.0,310.4 383.3,310.4 385.7,310.4 388.1,310.4 390.5,310.4 392.8,310.4 395.2,310.4 397.6,310.4 399.9,310.4 402.3,310.4 404.7,310.4 407.1,310.4 409.4,310.4 411.8,310.3 414.2,310.3 416.5,310.3 418.9,310.3 421.3,310.3 423.7,310.3 426.0,310.3 428.4,310.3 430.8,310.3 433.1,310.3 435.5,310.3 437.9,310.3 440.3,310.3 442.6,310.3 445.0,310.3 447.4,310.3 449.7,310.3 452.1,310.3 454.5,310.3 456.9,310.3 459.2,310.3 461.6,310.3 464.0,310.2 466.3,310.2 468.7,310.2 471.1,310.2 473.5,310.2 475.8,310.2 478.2,310.2 480.6,310.2 482.9,310.2 485.3,310.2 487.7,310.2 490.1,310.2 492.4,310.1 494.8,310.1 497.2,310.1 499.5,310.1 501.9,310.1 504.3,310.1 506.7,310.1 509.0,310.1 511.4,310.0 513.8,310.0 516.1,310.0 518.5,310.0 520.9,310.0 523.3,309.9 525.6,309.9 528.0,309.9 530.4,309.8 532.8,309.8 535.1,309.8 537.5,309.7 539.9,309.7 542.2,309.6 544.6,309.5 547.0,309.5 549.4,309.4 551.7,309.3 554.1,309.2 556.5,309.1 558.8,309.0 561.2,308.9 563.6,308.7 566.0,308.5 568.3,308.4 570.7,308.2 573.1,308.0 575.4,307.7 577.8,307.5 580.2,307.2 582.6,307.0 584.9,306.7 587.3,306.3 589.7,306.0 592.0,305.6 594.4,305.3 596.8,304.9 599.2,304.5 601.5,304.0 603.9,303.6 606.3,303.2 608.6,302.7 611.0,302.3 613.4,301.9 615.8,301.4 618.1,301.0 620.5,300.6 622.9,300.3 625.2,299.9 627.6,299.6 630.0,299.4 632.4,299.1 634.7,299.0 637.1,298.9 639.5,298.8 641.8,298.9 644.2,298.9 646.6,299.1 649.0,299.3 651.3,299.5 653.7,299.8 656.1,300.1 658.4,300.5 660.8,300.9 663.2,301.3 665.6,301.7 667.9,302.1 670.3,302.6 672.7,303.0 675.0,303.4 677.4,303.9 679.8,304.3 682.2,304.7 684.5,305.1 686.9,305.5 689.3,305.8 691.7,306.2 694.0,306.5 696.4,306.8 698.8,307.1 701.1,307.4 703.5,307.6 705.9,307.9 708.3,308.1 710.6,308.3 713.0,308.5 715.4,308.6 717.7,308.8 720.1,308.9 722.5,309.1 724.9,309.2 727.2,309.3 729.6,309.4 732.0,309.4 734.3,309.5 736.7,309.6 739.1,309.6 741.5,309.7 743.8,309.7 746.2,309.8 748.6,309.8 750.9,309.9 753.3,309.9 755.7,309.9 758.1,309.9 760.4,310.0 762.8,310.0 765.2,310.0 767.5,310.0 769.9,310.0 772.3,310.1 774.7,310.1 777.0,310.1 779.4,310.1 781.8,310.1 784.1,310.1 786.5,310.1 788.9,310.2 791.3,310.2 793.6,310.2 796.0,310.2 798.4,310.2 800.7,310.2 803.1,310.2 805.5,310.2 807.9,310.2 810.2,310.2 812.6,310.2" fill="none" stroke="#6ba01e" stroke-width="2.6" stroke-linejoin="round"/>
<path d="M268.5,632.9 L268.5,632.4 269.0,632.3 269.5,632.3 270.0,632.2 270.5,632.2 271.0,632.1 271.5,632.0 272.0,631.9 272.5,631.8 273.0,631.7 273.5,631.6 274.0,631.5 274.5,631.4 275.0,631.3 275.5,631.1 276.0,630.9 276.5,630.8 277.0,630.6 277.5,630.4 278.0,630.2 278.5,630.0 279.0,629.7 279.5,629.4 280.0,629.2 280.5,628.9 281.0,628.5 281.5,628.2 282.0,627.8 282.5,627.4 283.0,627.0 283.5,626.5 284.0,626.1 284.5,625.5 285.0,625.0 285.5,624.4 286.0,623.8 286.5,623.2 287.0,622.5 287.5,621.7 288.0,621.0 288.5,620.1 289.0,619.3 289.5,618.4 290.0,617.4 290.5,616.4 291.0,615.3 291.5,614.2 292.0,613.0 292.5,611.8 293.0,610.5 293.5,609.1 294.0,607.7 294.5,606.2 295.0,604.7 295.5,603.1 296.0,601.4 296.5,599.6 297.0,597.8 297.5,595.9 298.0,593.9 298.5,591.8 299.0,589.7 299.5,587.4 300.0,585.2 300.5,582.8 301.0,580.3 301.5,577.8 302.0,575.2 302.5,572.5 303.0,569.7 303.5,566.9 304.0,563.9 304.5,560.9 305.0,557.8 305.5,554.7 306.0,551.5 306.5,548.2 307.0,544.8 307.5,541.3 308.0,537.9 308.5,534.3 309.0,530.7 309.5,527.0 310.0,523.3 310.5,519.5 311.0,515.7 311.5,511.8 312.0,508.0 312.5,504.0 313.0,500.1 313.5,496.1 314.0,492.2 314.5,488.2 315.0,484.2 315.5,480.2 316.0,476.2 316.5,472.3 317.0,468.3 317.5,464.4 318.0,460.5 318.5,456.7 319.0,452.9 319.5,449.1 320.0,445.5 320.5,441.9 321.0,438.3 321.5,434.9 322.0,431.5 322.5,428.2 323.0,425.0 323.5,422.0 324.0,419.0 324.5,416.2 325.0,413.5 325.5,410.9 326.0,408.4 326.5,406.1 327.0,403.9 327.5,401.9 328.0,400.1 328.5,398.4 329.0,396.8 329.5,395.4 330.0,394.2 330.5,393.2 331.0,392.3 331.5,391.6 332.0,391.1 332.5,390.8 333.0,390.6 333.5,390.6 334.0,390.8 334.5,391.2 335.0,391.8 335.5,392.5 336.0,393.4 336.5,394.5 337.0,395.7 337.5,397.1 338.0,398.7 338.5,400.4 339.0,402.3 339.5,404.4 340.0,406.6 340.5,408.9 341.0,411.4 341.5,414.0 342.0,416.7 342.5,419.6 343.0,422.6 343.4,425.7 343.9,428.9 344.4,432.2 344.9,435.5 345.4,439.0 345.9,442.6 346.4,446.2 346.9,449.9 347.4,453.6 347.9,457.4 348.4,461.3 348.9,465.2 349.4,469.1 349.9,473.0 350.4,477.0 350.9,481.0 351.4,485.0 351.9,489.0 352.4,493.0 352.9,496.9 353.4,500.9 353.9,504.8 354.4,508.7 354.9,512.6 355.4,516.5 355.9,520.3 356.4,524.0 356.9,527.7 357.4,531.4 357.9,535.0 358.4,538.6 358.9,542.0 359.4,545.5 359.9,548.8 360.4,552.1 360.9,555.3 361.4,558.5 361.9,561.5 362.4,564.5 362.9,567.4 363.4,570.3 363.9,573.0 364.4,575.7 364.9,578.3 365.4,580.8 365.9,583.3 366.4,585.6 366.9,587.9 367.4,590.1 367.9,592.2 368.4,594.3 368.9,596.2 369.4,598.1 369.9,600.0 370.4,601.7 370.9,603.4 371.4,605.0 371.9,606.5 372.4,608.0 372.9,609.4 373.4,610.8 373.9,612.1 374.4,613.3 374.9,614.4 375.4,615.6 375.9,616.6 376.4,617.6 376.9,618.6 377.4,619.5 377.9,620.3 378.4,621.1 378.9,621.9 379.4,622.6 379.9,623.3 380.4,623.9 380.9,624.5 381.4,625.1 381.9,625.7 382.4,626.2 382.9,626.6 383.4,627.1 383.9,627.5 384.4,627.9 384.9,628.3 385.4,628.6 385.9,628.9 386.4,629.2 386.9,629.5 387.4,629.8 387.9,630.0 388.4,630.2 388.9,630.4 389.4,630.6 389.9,630.8 390.4,631.0 390.9,631.1 391.4,631.3 391.9,631.4 392.4,631.5 392.9,631.7 393.4,631.8 393.9,631.9 394.4,631.9 394.9,632.0 395.4,632.1 395.9,632.2 396.4,632.2 396.9,632.3 397.4,632.4 397.9,632.4 L397.9,632.9 Z" fill="rgba(128,128,128,0.38)" stroke="none"/>
<polyline points="268.5,632.4 269.0,632.3 269.5,632.3 270.0,632.2 270.5,632.2 271.0,632.1 271.5,632.0 272.0,631.9 272.5,631.8 273.0,631.7 273.5,631.6 274.0,631.5 274.5,631.4 275.0,631.3 275.5,631.1 276.0,630.9 276.5,630.8 277.0,630.6 277.5,630.4 278.0,630.2 278.5,630.0 279.0,629.7 279.5,629.4 280.0,629.2 280.5,628.9 281.0,628.5 281.5,628.2 282.0,627.8 282.5,627.4 283.0,627.0 283.5,626.5 284.0,626.1 284.5,625.5 285.0,625.0 285.5,624.4 286.0,623.8 286.5,623.2 287.0,622.5 287.5,621.7 288.0,621.0 288.5,620.1 289.0,619.3 289.5,618.4 290.0,617.4 290.5,616.4 291.0,615.3 291.5,614.2 292.0,613.0 292.5,611.8 293.0,610.5 293.5,609.1 294.0,607.7 294.5,606.2 295.0,604.7 295.5,603.1 296.0,601.4 296.5,599.6 297.0,597.8 297.5,595.9 298.0,593.9 298.5,591.8 299.0,589.7 299.5,587.4 300.0,585.2 300.5,582.8 301.0,580.3 301.5,577.8 302.0,575.2 302.5,572.5 303.0,569.7 303.5,566.9 304.0,563.9 304.5,560.9 305.0,557.8 305.5,554.7 306.0,551.5 306.5,548.2 307.0,544.8 307.5,541.3 308.0,537.9 308.5,534.3 309.0,530.7 309.5,527.0 310.0,523.3 310.5,519.5 311.0,515.7 311.5,511.8 312.0,508.0 312.5,504.0 313.0,500.1 313.5,496.1 314.0,492.2 314.5,488.2 315.0,484.2 315.5,480.2 316.0,476.2 316.5,472.3 317.0,468.3 317.5,464.4 318.0,460.5 318.5,456.7 319.0,452.9 319.5,449.1 320.0,445.5 320.5,441.9 321.0,438.3 321.5,434.9 322.0,431.5 322.5,428.2 323.0,425.0 323.5,422.0 324.0,419.0 324.5,416.2 325.0,413.5 325.5,410.9 326.0,408.4 326.5,406.1 327.0,403.9 327.5,401.9 328.0,400.1 328.5,398.4 329.0,396.8 329.5,395.4 330.0,394.2 330.5,393.2 331.0,392.3 331.5,391.6 332.0,391.1 332.5,390.8 333.0,390.6 333.5,390.6 334.0,390.8 334.5,391.2 335.0,391.8 335.5,392.5 336.0,393.4 336.5,394.5 337.0,395.7 337.5,397.1 338.0,398.7 338.5,400.4 339.0,402.3 339.5,404.4 340.0,406.6 340.5,408.9 341.0,411.4 341.5,414.0 342.0,416.7 342.5,419.6 343.0,422.6 343.4,425.7 343.9,428.9 344.4,432.2 344.9,435.5 345.4,439.0 345.9,442.6 346.4,446.2 346.9,449.9 347.4,453.6 347.9,457.4 348.4,461.3 348.9,465.2 349.4,469.1 349.9,473.0 350.4,477.0 350.9,481.0 351.4,485.0 351.9,489.0 352.4,493.0 352.9,496.9 353.4,500.9 353.9,504.8 354.4,508.7 354.9,512.6 355.4,516.5 355.9,520.3 356.4,524.0 356.9,527.7 357.4,531.4 357.9,535.0 358.4,538.6 358.9,542.0 359.4,545.5 359.9,548.8 360.4,552.1 360.9,555.3 361.4,558.5 361.9,561.5 362.4,564.5 362.9,567.4 363.4,570.3 363.9,573.0 364.4,575.7 364.9,578.3 365.4,580.8 365.9,583.3 366.4,585.6 366.9,587.9 367.4,590.1 367.9,592.2 368.4,594.3 368.9,596.2 369.4,598.1 369.9,600.0 370.4,601.7 370.9,603.4 371.4,605.0 371.9,606.5 372.4,608.0 372.9,609.4 373.4,610.8 373.9,612.1 374.4,613.3 374.9,614.4 375.4,615.6 375.9,616.6 376.4,617.6 376.9,618.6 377.4,619.5 377.9,620.3 378.4,621.1 378.9,621.9 379.4,622.6 379.9,623.3 380.4,623.9 380.9,624.5 381.4,625.1 381.9,625.7 382.4,626.2 382.9,626.6 383.4,627.1 383.9,627.5 384.4,627.9 384.9,628.3 385.4,628.6 385.9,628.9 386.4,629.2 386.9,629.5 387.4,629.8 387.9,630.0 388.4,630.2 388.9,630.4 389.4,630.6 389.9,630.8 390.4,631.0 390.9,631.1 391.4,631.3 391.9,631.4 392.4,631.5 392.9,631.7 393.4,631.8 393.9,631.9 394.4,631.9 394.9,632.0 395.4,632.1 395.9,632.2 396.4,632.2 396.9,632.3 397.4,632.4 397.9,632.4" fill="none" stroke="#7f7f7f" stroke-width="2.6" stroke-linejoin="round"/>
<path d="M328.3,632.9 L328.3,632.4 328.8,632.4 329.2,632.3 329.7,632.3 330.2,632.2 330.6,632.1 331.1,632.1 331.6,632.0 332.1,631.9 332.5,631.9 333.0,631.8 333.5,631.7 333.9,631.6 334.4,631.5 334.9,631.4 335.3,631.2 335.8,631.1 336.3,631.0 336.8,630.8 337.2,630.7 337.7,630.5 338.2,630.3 338.6,630.2 339.1,630.0 339.6,629.7 340.0,629.5 340.5,629.3 341.0,629.0 341.4,628.8 341.9,628.5 342.4,628.2 342.9,627.9 343.3,627.6 343.8,627.2 344.3,626.8 344.7,626.4 345.2,626.0 345.7,625.6 346.1,625.2 346.6,624.7 347.1,624.2 347.6,623.7 348.0,623.1 348.5,622.6 349.0,622.0 349.4,621.3 349.9,620.7 350.4,620.0 350.8,619.3 351.3,618.6 351.8,617.8 352.3,617.0 352.7,616.2 353.2,615.3 353.7,614.4 354.1,613.5 354.6,612.5 355.1,611.5 355.5,610.5 356.0,609.5 356.5,608.4 356.9,607.2 357.4,606.1 357.9,604.9 358.4,603.7 358.8,602.4 359.3,601.1 359.8,599.8 360.2,598.4 360.7,597.0 361.2,595.6 361.6,594.1 362.1,592.6 362.6,591.1 363.1,589.5 363.5,588.0 364.0,586.4 364.5,584.7 364.9,583.1 365.4,581.4 365.9,579.7 366.3,577.9 366.8,576.2 367.3,574.4 367.8,572.7 368.2,570.9 368.7,569.1 369.2,567.3 369.6,565.4 370.1,563.6 370.6,561.8 371.0,560.0 371.5,558.1 372.0,556.3 372.4,554.5 372.9,552.7 373.4,550.9 373.9,549.1 374.3,547.4 374.8,545.6 375.3,543.9 375.7,542.2 376.2,540.5 376.7,538.9 377.1,537.3 377.6,535.7 378.1,534.2 378.6,532.7 379.0,531.3 379.5,529.9 380.0,528.5 380.4,527.2 380.9,526.0 381.4,524.8 381.8,523.7 382.3,522.6 382.8,521.6 383.3,520.7 383.7,519.8 384.2,519.0 384.7,518.2 385.1,517.6 385.6,517.0 386.1,516.4 386.5,516.0 387.0,515.6 387.5,515.3 387.9,515.1 388.4,514.9 388.9,514.9 389.4,514.9 389.8,514.9 390.3,515.1 390.8,515.3 391.2,515.7 391.7,516.0 392.2,516.5 392.6,517.0 393.1,517.6 393.6,518.3 394.1,519.1 394.5,519.9 395.0,520.8 395.5,521.7 395.9,522.7 396.4,523.8 396.9,525.0 397.3,526.1 397.8,527.4 398.3,528.7 398.8,530.1 399.2,531.5 399.7,532.9 400.2,534.4 400.6,535.9 401.1,537.5 401.6,539.1 402.0,540.8 402.5,542.4 403.0,544.1 403.4,545.8 403.9,547.6 404.4,549.4 404.9,551.1 405.3,552.9 405.8,554.7 406.3,556.6 406.7,558.4 407.2,560.2 407.7,562.0 408.1,563.9 408.6,565.7 409.1,567.5 409.6,569.3 410.0,571.1 410.5,572.9 411.0,574.7 411.4,576.4 411.9,578.2 412.4,579.9 412.8,581.6 413.3,583.3 413.8,584.9 414.3,586.6 414.7,588.2 415.2,589.7 415.7,591.3 416.1,592.8 416.6,594.3 417.1,595.8 417.5,597.2 418.0,598.6 418.5,599.9 418.9,601.3 419.4,602.6 419.9,603.8 420.4,605.1 420.8,606.2 421.3,607.4 421.8,608.5 422.2,609.6 422.7,610.7 423.2,611.7 423.6,612.7 424.1,613.6 424.6,614.5 425.1,615.4 425.5,616.3 426.0,617.1 426.5,617.9 426.9,618.7 427.4,619.4 427.9,620.1 428.3,620.8 428.8,621.4 429.3,622.0 429.8,622.6 430.2,623.2 430.7,623.7 431.2,624.3 431.6,624.8 432.1,625.2 432.6,625.7 433.0,626.1 433.5,626.5 434.0,626.9 434.5,627.2 434.9,627.6 435.4,627.9 435.9,628.2 436.3,628.5 436.8,628.8 437.3,629.1 437.7,629.3 438.2,629.6 438.7,629.8 439.1,630.0 439.6,630.2 440.1,630.4 440.6,630.5 441.0,630.7 441.5,630.9 442.0,631.0 442.4,631.1 442.9,631.3 443.4,631.4 443.8,631.5 444.3,631.6 444.8,631.7 445.3,631.8 445.7,631.9 446.2,631.9 446.7,632.0 447.1,632.1 447.6,632.1 448.1,632.2 448.5,632.3 449.0,632.3 449.5,632.4 450.0,632.4 L450.0,632.9 Z" fill="rgba(128,128,128,0.38)" stroke="none"/>
<polyline points="328.3,632.4 328.8,632.4 329.2,632.3 329.7,632.3 330.2,632.2 330.6,632.1 331.1,632.1 331.6,632.0 332.1,631.9 332.5,631.9 333.0,631.8 333.5,631.7 333.9,631.6 334.4,631.5 334.9,631.4 335.3,631.2 335.8,631.1 336.3,631.0 336.8,630.8 337.2,630.7 337.7,630.5 338.2,630.3 338.6,630.2 339.1,630.0 339.6,629.7 340.0,629.5 340.5,629.3 341.0,629.0 341.4,628.8 341.9,628.5 342.4,628.2 342.9,627.9 343.3,627.6 343.8,627.2 344.3,626.8 344.7,626.4 345.2,626.0 345.7,625.6 346.1,625.2 346.6,624.7 347.1,624.2 347.6,623.7 348.0,623.1 348.5,622.6 349.0,622.0 349.4,621.3 349.9,620.7 350.4,620.0 350.8,619.3 351.3,618.6 351.8,617.8 352.3,617.0 352.7,616.2 353.2,615.3 353.7,614.4 354.1,613.5 354.6,612.5 355.1,611.5 355.5,610.5 356.0,609.5 356.5,608.4 356.9,607.2 357.4,606.1 357.9,604.9 358.4,603.7 358.8,602.4 359.3,601.1 359.8,599.8 360.2,598.4 360.7,597.0 361.2,595.6 361.6,594.1 362.1,592.6 362.6,591.1 363.1,589.5 363.5,588.0 364.0,586.4 364.5,584.7 364.9,583.1 365.4,581.4 365.9,579.7 366.3,577.9 366.8,576.2 367.3,574.4 367.8,572.7 368.2,570.9 368.7,569.1 369.2,567.3 369.6,565.4 370.1,563.6 370.6,561.8 371.0,560.0 371.5,558.1 372.0,556.3 372.4,554.5 372.9,552.7 373.4,550.9 373.9,549.1 374.3,547.4 374.8,545.6 375.3,543.9 375.7,542.2 376.2,540.5 376.7,538.9 377.1,537.3 377.6,535.7 378.1,534.2 378.6,532.7 379.0,531.3 379.5,529.9 380.0,528.5 380.4,527.2 380.9,526.0 381.4,524.8 381.8,523.7 382.3,522.6 382.8,521.6 383.3,520.7 383.7,519.8 384.2,519.0 384.7,518.2 385.1,517.6 385.6,517.0 386.1,516.4 386.5,516.0 387.0,515.6 387.5,515.3 387.9,515.1 388.4,514.9 388.9,514.9 389.4,514.9 389.8,514.9 390.3,515.1 390.8,515.3 391.2,515.7 391.7,516.0 392.2,516.5 392.6,517.0 393.1,517.6 393.6,518.3 394.1,519.1 394.5,519.9 395.0,520.8 395.5,521.7 395.9,522.7 396.4,523.8 396.9,525.0 397.3,526.1 397.8,527.4 398.3,528.7 398.8,530.1 399.2,531.5 399.7,532.9 400.2,534.4 400.6,535.9 401.1,537.5 401.6,539.1 402.0,540.8 402.5,542.4 403.0,544.1 403.4,545.8 403.9,547.6 404.4,549.4 404.9,551.1 405.3,552.9 405.8,554.7 406.3,556.6 406.7,558.4 407.2,560.2 407.7,562.0 408.1,563.9 408.6,565.7 409.1,567.5 409.6,569.3 410.0,571.1 410.5,572.9 411.0,574.7 411.4,576.4 411.9,578.2 412.4,579.9 412.8,581.6 413.3,583.3 413.8,584.9 414.3,586.6 414.7,588.2 415.2,589.7 415.7,591.3 416.1,592.8 416.6,594.3 417.1,595.8 417.5,597.2 418.0,598.6 418.5,599.9 418.9,601.3 419.4,602.6 419.9,603.8 420.4,605.1 420.8,606.2 421.3,607.4 421.8,608.5 422.2,609.6 422.7,610.7 423.2,611.7 423.6,612.7 424.1,613.6 424.6,614.5 425.1,615.4 425.5,616.3 426.0,617.1 426.5,617.9 426.9,618.7 427.4,619.4 427.9,620.1 428.3,620.8 428.8,621.4 429.3,622.0 429.8,622.6 430.2,623.2 430.7,623.7 431.2,624.3 431.6,624.8 432.1,625.2 432.6,625.7 433.0,626.1 433.5,626.5 434.0,626.9 434.5,627.2 434.9,627.6 435.4,627.9 435.9,628.2 436.3,628.5 436.8,628.8 437.3,629.1 437.7,629.3 438.2,629.6 438.7,629.8 439.1,630.0 439.6,630.2 440.1,630.4 440.6,630.5 441.0,630.7 441.5,630.9 442.0,631.0 442.4,631.1 442.9,631.3 443.4,631.4 443.8,631.5 444.3,631.6 444.8,631.7 445.3,631.8 445.7,631.9 446.2,631.9 446.7,632.0 447.1,632.1 447.6,632.1 448.1,632.2 448.5,632.3 449.0,632.3 449.5,632.4 450.0,632.4" fill="none" stroke="#7f7f7f" stroke-width="2.6" stroke-linejoin="round"/>
<path d="M516.8,632.9 L516.8,632.4 517.4,632.4 518.1,632.3 518.8,632.3 519.4,632.3 520.1,632.2 520.7,632.2 521.4,632.1 522.1,632.1 522.7,632.0 523.4,632.0 524.0,631.9 524.7,631.9 525.4,631.8 526.0,631.7 526.7,631.7 527.4,631.6 528.0,631.5 528.7,631.4 529.3,631.3 530.0,631.3 530.7,631.2 531.3,631.1 532.0,631.0 532.7,630.9 533.3,630.8 534.0,630.6 534.6,630.5 535.3,630.4 536.0,630.3 536.6,630.1 537.3,630.0 537.9,629.9 538.6,629.7 539.3,629.5 539.9,629.4 540.6,629.2 541.3,629.0 541.9,628.9 542.6,628.7 543.2,628.5 543.9,628.3 544.6,628.1 545.2,627.9 545.9,627.6 546.6,627.4 547.2,627.2 547.9,626.9 548.5,626.7 549.2,626.4 549.9,626.2 550.5,625.9 551.2,625.6 551.8,625.3 552.5,625.0 553.2,624.7 553.8,624.4 554.5,624.1 555.2,623.8 555.8,623.5 556.5,623.1 557.1,622.8 557.8,622.4 558.5,622.1 559.1,621.7 559.8,621.4 560.4,621.0 561.1,620.6 561.8,620.2 562.4,619.8 563.1,619.4 563.8,619.0 564.4,618.6 565.1,618.2 565.7,617.8 566.4,617.4 567.1,617.0 567.7,616.5 568.4,616.1 569.1,615.7 569.7,615.2 570.4,614.8 571.0,614.4 571.7,613.9 572.4,613.5 573.0,613.1 573.7,612.6 574.3,612.2 575.0,611.7 575.7,611.3 576.3,610.9 577.0,610.4 577.7,610.0 578.3,609.6 579.0,609.2 579.6,608.7 580.3,608.3 581.0,607.9 581.6,607.5 582.3,607.1 583.0,606.7 583.6,606.4 584.3,606.0 584.9,605.6 585.6,605.3 586.3,604.9 586.9,604.6 587.6,604.3 588.2,603.9 588.9,603.6 589.6,603.3 590.2,603.1 590.9,602.8 591.6,602.5 592.2,602.3 592.9,602.1 593.5,601.8 594.2,601.6 594.9,601.5 595.5,601.3 596.2,601.1 596.9,601.0 597.5,600.9 598.2,600.8 598.8,600.7 599.5,600.6 600.2,600.5 600.8,600.5 601.5,600.4 602.1,600.4 602.8,600.4 603.5,600.4 604.1,600.5 604.8,600.5 605.5,600.6 606.1,600.7 606.8,600.8 607.4,600.9 608.1,601.0 608.8,601.1 609.4,601.3 610.1,601.5 610.8,601.7 611.4,601.9 612.1,602.1 612.7,602.3 613.4,602.5 614.1,602.8 614.7,603.1 615.4,603.4 616.0,603.6 616.7,604.0 617.4,604.3 618.0,604.6 618.7,604.9 619.4,605.3 620.0,605.6 620.7,606.0 621.3,606.4 622.0,606.7 622.7,607.1 623.3,607.5 624.0,607.9 624.6,608.3 625.3,608.8 626.0,609.2 626.6,609.6 627.3,610.0 628.0,610.4 628.6,610.9 629.3,611.3 629.9,611.8 630.6,612.2 631.3,612.6 631.9,613.1 632.6,613.5 633.3,613.9 633.9,614.4 634.6,614.8 635.2,615.3 635.9,615.7 636.6,616.1 637.2,616.6 637.9,617.0 638.5,617.4 639.2,617.8 639.9,618.2 640.5,618.6 641.2,619.1 641.9,619.5 642.5,619.9 643.2,620.2 643.8,620.6 644.5,621.0 645.2,621.4 645.8,621.7 646.5,622.1 647.2,622.5 647.8,622.8 648.5,623.2 649.1,623.5 649.8,623.8 650.5,624.1 651.1,624.4 651.8,624.8 652.4,625.1 653.1,625.3 653.8,625.6 654.4,625.9 655.1,626.2 655.8,626.4 656.4,626.7 657.1,626.9 657.7,627.2 658.4,627.4 659.1,627.6 659.7,627.9 660.4,628.1 661.1,628.3 661.7,628.5 662.4,628.7 663.0,628.9 663.7,629.0 664.4,629.2 665.0,629.4 665.7,629.6 666.3,629.7 667.0,629.9 667.7,630.0 668.3,630.1 669.0,630.3 669.7,630.4 670.3,630.5 671.0,630.6 671.6,630.8 672.3,630.9 673.0,631.0 673.6,631.1 674.3,631.2 674.9,631.3 675.6,631.3 676.3,631.4 676.9,631.5 677.6,631.6 678.3,631.7 678.9,631.7 679.6,631.8 680.2,631.9 680.9,631.9 681.6,632.0 682.2,632.0 682.9,632.1 683.6,632.1 684.2,632.2 684.9,632.2 685.5,632.3 686.2,632.3 686.9,632.3 687.5,632.4 688.2,632.4 L688.2,632.9 Z" fill="rgba(0,0,255,0.38)" stroke="none"/>
<polyline points="516.8,632.4 517.4,632.4 518.1,632.3 518.8,632.3 519.4,632.3 520.1,632.2 520.7,632.2 521.4,632.1 522.1,632.1 522.7,632.0 523.4,632.0 524.0,631.9 524.7,631.9 525.4,631.8 526.0,631.7 526.7,631.7 527.4,631.6 528.0,631.5 528.7,631.4 529.3,631.3 530.0,631.3 530.7,631.2 531.3,631.1 532.0,631.0 532.7,630.9 533.3,630.8 534.0,630.6 534.6,630.5 535.3,630.4 536.0,630.3 536.6,630.1 537.3,630.0 537.9,629.9 538.6,629.7 539.3,629.5 539.9,629.4 540.6,629.2 541.3,629.0 541.9,628.9 542.6,628.7 543.2,628.5 543.9,628.3 544.6,628.1 545.2,627.9 545.9,627.6 546.6,627.4 547.2,627.2 547.9,626.9 548.5,626.7 549.2,626.4 549.9,626.2 550.5,625.9 551.2,625.6 551.8,625.3 552.5,625.0 553.2,624.7 553.8,624.4 554.5,624.1 555.2,623.8 555.8,623.5 556.5,623.1 557.1,622.8 557.8,622.4 558.5,622.1 559.1,621.7 559.8,621.4 560.4,621.0 561.1,620.6 561.8,620.2 562.4,619.8 563.1,619.4 563.8,619.0 564.4,618.6 565.1,618.2 565.7,617.8 566.4,617.4 567.1,617.0 567.7,616.5 568.4,616.1 569.1,615.7 569.7,615.2 570.4,614.8 571.0,614.4 571.7,613.9 572.4,613.5 573.0,613.1 573.7,612.6 574.3,612.2 575.0,611.7 575.7,611.3 576.3,610.9 577.0,610.4 577.7,610.0 578.3,609.6 579.0,609.2 579.6,608.7 580.3,608.3 581.0,607.9 581.6,607.5 582.3,607.1 583.0,606.7 583.6,606.4 584.3,606.0 584.9,605.6 585.6,605.3 586.3,604.9 586.9,604.6 587.6,604.3 588.2,603.9 588.9,603.6 589.6,603.3 590.2,603.1 590.9,602.8 591.6,602.5 592.2,602.3 592.9,602.1 593.5,601.8 594.2,601.6 594.9,601.5 595.5,601.3 596.2,601.1 596.9,601.0 597.5,600.9 598.2,600.8 598.8,600.7 599.5,600.6 600.2,600.5 600.8,600.5 601.5,600.4 602.1,600.4 602.8,600.4 603.5,600.4 604.1,600.5 604.8,600.5 605.5,600.6 606.1,600.7 606.8,600.8 607.4,600.9 608.1,601.0 608.8,601.1 609.4,601.3 610.1,601.5 610.8,601.7 611.4,601.9 612.1,602.1 612.7,602.3 613.4,602.5 614.1,602.8 614.7,603.1 615.4,603.4 616.0,603.6 616.7,604.0 617.4,604.3 618.0,604.6 618.7,604.9 619.4,605.3 620.0,605.6 620.7,606.0 621.3,606.4 622.0,606.7 622.7,607.1 623.3,607.5 624.0,607.9 624.6,608.3 625.3,608.8 626.0,609.2 626.6,609.6 627.3,610.0 628.0,610.4 628.6,610.9 629.3,611.3 629.9,611.8 630.6,612.2 631.3,612.6 631.9,613.1 632.6,613.5 633.3,613.9 633.9,614.4 634.6,614.8 635.2,615.3 635.9,615.7 636.6,616.1 637.2,616.6 637.9,617.0 638.5,617.4 639.2,617.8 639.9,618.2 640.5,618.6 641.2,619.1 641.9,619.5 642.5,619.9 643.2,620.2 643.8,620.6 644.5,621.0 645.2,621.4 645.8,621.7 646.5,622.1 647.2,622.5 647.8,622.8 648.5,623.2 649.1,623.5 649.8,623.8 650.5,624.1 651.1,624.4 651.8,624.8 652.4,625.1 653.1,625.3 653.8,625.6 654.4,625.9 655.1,626.2 655.8,626.4 656.4,626.7 657.1,626.9 657.7,627.2 658.4,627.4 659.1,627.6 659.7,627.9 660.4,628.1 661.1,628.3 661.7,628.5 662.4,628.7 663.0,628.9 663.7,629.0 664.4,629.2 665.0,629.4 665.7,629.6 666.3,629.7 667.0,629.9 667.7,630.0 668.3,630.1 669.0,630.3 669.7,630.4 670.3,630.5 671.0,630.6 671.6,630.8 672.3,630.9 673.0,631.0 673.6,631.1 674.3,631.2 674.9,631.3 675.6,631.3 676.3,631.4 676.9,631.5 677.6,631.6 678.3,631.7 678.9,631.7 679.6,631.8 680.2,631.9 680.9,631.9 681.6,632.0 682.2,632.0 682.9,632.1 683.6,632.1 684.2,632.2 684.9,632.2 685.5,632.3 686.2,632.3 686.9,632.3 687.5,632.4 688.2,632.4" fill="none" stroke="#0000ff" stroke-width="2.6" stroke-linejoin="round"/>
<path d="M592.2,632.9 L592.2,632.4 592.7,632.4 593.2,632.3 593.7,632.3 594.2,632.3 594.7,632.3 595.2,632.2 595.7,632.2 596.3,632.1 596.8,632.1 597.3,632.1 597.8,632.0 598.3,632.0 598.8,631.9 599.3,631.9 599.8,631.8 600.3,631.8 600.8,631.7 601.3,631.7 601.8,631.6 602.4,631.5 602.9,631.5 603.4,631.4 603.9,631.3 604.4,631.3 604.9,631.2 605.4,631.1 605.9,631.0 606.4,630.9 606.9,630.9 607.4,630.8 607.9,630.7 608.4,630.6 609.0,630.5 609.5,630.4 610.0,630.3 610.5,630.2 611.0,630.1 611.5,630.0 612.0,629.8 612.5,629.7 613.0,629.6 613.5,629.5 614.0,629.4 614.5,629.2 615.1,629.1 615.6,628.9 616.1,628.8 616.6,628.7 617.1,628.5 617.6,628.4 618.1,628.2 618.6,628.0 619.1,627.9 619.6,627.7 620.1,627.6 620.6,627.4 621.2,627.2 621.7,627.0 622.2,626.9 622.7,626.7 623.2,626.5 623.7,626.3 624.2,626.1 624.7,625.9 625.2,625.7 625.7,625.5 626.2,625.3 626.7,625.1 627.3,624.9 627.8,624.7 628.3,624.5 628.8,624.3 629.3,624.1 629.8,623.9 630.3,623.7 630.8,623.5 631.3,623.2 631.8,623.0 632.3,622.8 632.8,622.6 633.4,622.4 633.9,622.2 634.4,621.9 634.9,621.7 635.4,621.5 635.9,621.3 636.4,621.1 636.9,620.9 637.4,620.7 637.9,620.4 638.4,620.2 638.9,620.0 639.5,619.8 640.0,619.6 640.5,619.4 641.0,619.2 641.5,619.0 642.0,618.9 642.5,618.7 643.0,618.5 643.5,618.3 644.0,618.1 644.5,618.0 645.0,617.8 645.6,617.6 646.1,617.5 646.6,617.3 647.1,617.2 647.6,617.0 648.1,616.9 648.6,616.8 649.1,616.6 649.6,616.5 650.1,616.4 650.6,616.3 651.1,616.2 651.7,616.1 652.2,616.0 652.7,616.0 653.2,615.9 653.7,615.8 654.2,615.8 654.7,615.7 655.2,615.7 655.7,615.6 656.2,615.6 656.7,615.6 657.2,615.5 657.7,615.5 658.3,615.5 658.8,615.5 659.3,615.6 659.8,615.6 660.3,615.6 660.8,615.6 661.3,615.7 661.8,615.7 662.3,615.8 662.8,615.9 663.3,615.9 663.8,616.0 664.4,616.1 664.9,616.2 665.4,616.3 665.9,616.4 666.4,616.5 666.9,616.6 667.4,616.7 667.9,616.9 668.4,617.0 668.9,617.1 669.4,617.3 669.9,617.4 670.5,617.6 671.0,617.7 671.5,617.9 672.0,618.1 672.5,618.3 673.0,618.4 673.5,618.6 674.0,618.8 674.5,619.0 675.0,619.2 675.5,619.4 676.0,619.6 676.6,619.8 677.1,620.0 677.6,620.2 678.1,620.4 678.6,620.6 679.1,620.8 679.6,621.0 680.1,621.2 680.6,621.5 681.1,621.7 681.6,621.9 682.1,622.1 682.7,622.3 683.2,622.5 683.7,622.7 684.2,623.0 684.7,623.2 685.2,623.4 685.7,623.6 686.2,623.8 686.7,624.0 687.2,624.2 687.7,624.5 688.2,624.7 688.8,624.9 689.3,625.1 689.8,625.3 690.3,625.5 690.8,625.7 691.3,625.9 691.8,626.1 692.3,626.3 692.8,626.4 693.3,626.6 693.8,626.8 694.3,627.0 694.9,627.2 695.4,627.3 695.9,627.5 696.4,627.7 696.9,627.8 697.4,628.0 697.9,628.2 698.4,628.3 698.9,628.5 699.4,628.6 699.9,628.8 700.4,628.9 701.0,629.0 701.5,629.2 702.0,629.3 702.5,629.4 703.0,629.6 703.5,629.7 704.0,629.8 704.5,629.9 705.0,630.0 705.5,630.2 706.0,630.3 706.5,630.4 707.1,630.5 707.6,630.6 708.1,630.7 708.6,630.7 709.1,630.8 709.6,630.9 710.1,631.0 710.6,631.1 711.1,631.2 711.6,631.2 712.1,631.3 712.6,631.4 713.1,631.5 713.7,631.5 714.2,631.6 714.7,631.6 715.2,631.7 715.7,631.8 716.2,631.8 716.7,631.9 717.2,631.9 717.7,632.0 718.2,632.0 718.7,632.0 719.2,632.1 719.8,632.1 720.3,632.2 720.8,632.2 721.3,632.2 721.8,632.3 722.3,632.3 722.8,632.3 723.3,632.4 723.8,632.4 L723.8,632.9 Z" fill="rgba(0,0,255,0.38)" stroke="none"/>
<polyline points="592.2,632.4 592.7,632.4 593.2,632.3 593.7,632.3 594.2,632.3 594.7,632.3 595.2,632.2 595.7,632.2 596.3,632.1 596.8,632.1 597.3,632.1 597.8,632.0 598.3,632.0 598.8,631.9 599.3,631.9 599.8,631.8 600.3,631.8 600.8,631.7 601.3,631.7 601.8,631.6 602.4,631.5 602.9,631.5 603.4,631.4 603.9,631.3 604.4,631.3 604.9,631.2 605.4,631.1 605.9,631.0 606.4,630.9 606.9,630.9 607.4,630.8 607.9,630.7 608.4,630.6 609.0,630.5 609.5,630.4 610.0,630.3 610.5,630.2 611.0,630.1 611.5,630.0 612.0,629.8 612.5,629.7 613.0,629.6 613.5,629.5 614.0,629.4 614.5,629.2 615.1,629.1 615.6,628.9 616.1,628.8 616.6,628.7 617.1,628.5 617.6,628.4 618.1,628.2 618.6,628.0 619.1,627.9 619.6,627.7 620.1,627.6 620.6,627.4 621.2,627.2 621.7,627.0 622.2,626.9 622.7,626.7 623.2,626.5 623.7,626.3 624.2,626.1 624.7,625.9 625.2,625.7 625.7,625.5 626.2,625.3 626.7,625.1 627.3,624.9 627.8,624.7 628.3,624.5 628.8,624.3 629.3,624.1 629.8,623.9 630.3,623.7 630.8,623.5 631.3,623.2 631.8,623.0 632.3,622.8 632.8,622.6 633.4,622.4 633.9,622.2 634.4,621.9 634.9,621.7 635.4,621.5 635.9,621.3 636.4,621.1 636.9,620.9 637.4,620.7 637.9,620.4 638.4,620.2 638.9,620.0 639.5,619.8 640.0,619.6 640.5,619.4 641.0,619.2 641.5,619.0 642.0,618.9 642.5,618.7 643.0,618.5 643.5,618.3 644.0,618.1 644.5,618.0 645.0,617.8 645.6,617.6 646.1,617.5 646.6,617.3 647.1,617.2 647.6,617.0 648.1,616.9 648.6,616.8 649.1,616.6 649.6,616.5 650.1,616.4 650.6,616.3 651.1,616.2 651.7,616.1 652.2,616.0 652.7,616.0 653.2,615.9 653.7,615.8 654.2,615.8 654.7,615.7 655.2,615.7 655.7,615.6 656.2,615.6 656.7,615.6 657.2,615.5 657.7,615.5 658.3,615.5 658.8,615.5 659.3,615.6 659.8,615.6 660.3,615.6 660.8,615.6 661.3,615.7 661.8,615.7 662.3,615.8 662.8,615.9 663.3,615.9 663.8,616.0 664.4,616.1 664.9,616.2 665.4,616.3 665.9,616.4 666.4,616.5 666.9,616.6 667.4,616.7 667.9,616.9 668.4,617.0 668.9,617.1 669.4,617.3 669.9,617.4 670.5,617.6 671.0,617.7 671.5,617.9 672.0,618.1 672.5,618.3 673.0,618.4 673.5,618.6 674.0,618.8 674.5,619.0 675.0,619.2 675.5,619.4 676.0,619.6 676.6,619.8 677.1,620.0 677.6,620.2 678.1,620.4 678.6,620.6 679.1,620.8 679.6,621.0 680.1,621.2 680.6,621.5 681.1,621.7 681.6,621.9 682.1,622.1 682.7,622.3 683.2,622.5 683.7,622.7 684.2,623.0 684.7,623.2 685.2,623.4 685.7,623.6 686.2,623.8 686.7,624.0 687.2,624.2 687.7,624.5 688.2,624.7 688.8,624.9 689.3,625.1 689.8,625.3 690.3,625.5 690.8,625.7 691.3,625.9 691.8,626.1 692.3,626.3 692.8,626.4 693.3,626.6 693.8,626.8 694.3,627.0 694.9,627.2 695.4,627.3 695.9,627.5 696.4,627.7 696.9,627.8 697.4,628.0 697.9,628.2 698.4,628.3 698.9,628.5 699.4,628.6 699.9,628.8 700.4,628.9 701.0,629.0 701.5,629.2 702.0,629.3 702.5,629.4 703.0,629.6 703.5,629.7 704.0,629.8 704.5,629.9 705.0,630.0 705.5,630.2 706.0,630.3 706.5,630.4 707.1,630.5 707.6,630.6 708.1,630.7 708.6,630.7 709.1,630.8 709.6,630.9 710.1,631.0 710.6,631.1 711.1,631.2 711.6,631.2 712.1,631.3 712.6,631.4 713.1,631.5 713.7,631.5 714.2,631.6 714.7,631.6 715.2,631.7 715.7,631.8 716.2,631.8 716.7,631.9 717.2,631.9 717.7,632.0 718.2,632.0 718.7,632.0 719.2,632.1 719.8,632.1 720.3,632.2 720.8,632.2 721.3,632.2 721.8,632.3 722.3,632.3 722.8,632.3 723.3,632.4 723.8,632.4" fill="none" stroke="#0000ff" stroke-width="2.6" stroke-linejoin="round"/>
<path d="M515.2,632.9 L515.2,632.4 516.2,632.4 517.2,632.4 518.1,632.4 519.1,632.4 520.0,632.4 521.0,632.4 522.0,632.3 522.9,632.3 523.9,632.3 524.9,632.3 525.8,632.3 526.8,632.3 527.8,632.3 528.7,632.3 529.7,632.3 530.6,632.3 531.6,632.2 532.6,632.2 533.5,632.2 534.5,632.2 535.5,632.2 536.4,632.2 537.4,632.2 538.3,632.1 539.3,632.1 540.3,632.1 541.2,632.1 542.2,632.1 543.2,632.1 544.1,632.0 545.1,632.0 546.1,632.0 547.0,632.0 548.0,631.9 548.9,631.9 549.9,631.9 550.9,631.9 551.8,631.8 552.8,631.8 553.8,631.8 554.7,631.7 555.7,631.7 556.6,631.7 557.6,631.6 558.6,631.6 559.5,631.6 560.5,631.5 561.5,631.5 562.4,631.4 563.4,631.4 564.4,631.3 565.3,631.3 566.3,631.2 567.2,631.2 568.2,631.1 569.2,631.1 570.1,631.0 571.1,630.9 572.1,630.9 573.0,630.8 574.0,630.7 574.9,630.6 575.9,630.6 576.9,630.5 577.8,630.4 578.8,630.3 579.8,630.2 580.7,630.1 581.7,630.0 582.6,629.9 583.6,629.8 584.6,629.7 585.5,629.6 586.5,629.5 587.5,629.4 588.4,629.2 589.4,629.1 590.4,629.0 591.3,628.9 592.3,628.7 593.2,628.6 594.2,628.4 595.2,628.3 596.1,628.1 597.1,628.0 598.1,627.8 599.0,627.7 600.0,627.5 600.9,627.4 601.9,627.2 602.9,627.0 603.8,626.9 604.8,626.7 605.8,626.5 606.7,626.3 607.7,626.1 608.7,626.0 609.6,625.8 610.6,625.6 611.5,625.4 612.5,625.2 613.5,625.1 614.4,624.9 615.4,624.7 616.4,624.5 617.3,624.3 618.3,624.2 619.2,624.0 620.2,623.8 621.2,623.6 622.1,623.5 623.1,623.3 624.1,623.2 625.0,623.0 626.0,622.9 627.0,622.7 627.9,622.6 628.9,622.5 629.8,622.4 630.8,622.2 631.8,622.1 632.7,622.1 633.7,622.0 634.7,621.9 635.6,621.9 636.6,621.8 637.5,621.8 638.5,621.8 639.5,621.7 640.4,621.7 641.4,621.8 642.4,621.8 643.3,621.8 644.3,621.9 645.3,621.9 646.2,622.0 647.2,622.1 648.1,622.1 649.1,622.2 650.1,622.4 651.0,622.5 652.0,622.6 653.0,622.7 653.9,622.9 654.9,623.0 655.8,623.2 656.8,623.3 657.8,623.5 658.7,623.6 659.7,623.8 660.7,624.0 661.6,624.2 662.6,624.3 663.6,624.5 664.5,624.7 665.5,624.9 666.4,625.1 667.4,625.2 668.4,625.4 669.3,625.6 670.3,625.8 671.3,626.0 672.2,626.1 673.2,626.3 674.1,626.5 675.1,626.7 676.1,626.8 677.0,627.0 678.0,627.2 679.0,627.4 679.9,627.5 680.9,627.7 681.9,627.8 682.8,628.0 683.8,628.1 684.7,628.3 685.7,628.4 686.7,628.6 687.6,628.7 688.6,628.9 689.6,629.0 690.5,629.1 691.5,629.2 692.4,629.4 693.4,629.5 694.4,629.6 695.3,629.7 696.3,629.8 697.3,629.9 698.2,630.0 699.2,630.1 700.2,630.2 701.1,630.3 702.1,630.4 703.0,630.5 704.0,630.6 705.0,630.6 705.9,630.7 706.9,630.8 707.9,630.9 708.8,630.9 709.8,631.0 710.7,631.1 711.7,631.1 712.7,631.2 713.6,631.2 714.6,631.3 715.6,631.3 716.5,631.4 717.5,631.4 718.5,631.5 719.4,631.5 720.4,631.6 721.3,631.6 722.3,631.6 723.3,631.7 724.2,631.7 725.2,631.7 726.2,631.8 727.1,631.8 728.1,631.8 729.0,631.9 730.0,631.9 731.0,631.9 731.9,631.9 732.9,632.0 733.9,632.0 734.8,632.0 735.8,632.0 736.7,632.1 737.7,632.1 738.7,632.1 739.6,632.1 740.6,632.1 741.6,632.1 742.5,632.2 743.5,632.2 744.5,632.2 745.4,632.2 746.4,632.2 747.3,632.2 748.3,632.2 749.3,632.3 750.2,632.3 751.2,632.3 752.2,632.3 753.1,632.3 754.1,632.3 755.0,632.3 756.0,632.3 757.0,632.3 757.9,632.3 758.9,632.4 759.9,632.4 760.8,632.4 761.8,632.4 762.8,632.4 763.7,632.4 764.7,632.4 L764.7,632.9 Z" fill="rgba(50,80,120,0.45)" stroke="none"/>
<polyline points="515.2,632.4 516.2,632.4 517.2,632.4 518.1,632.4 519.1,632.4 520.0,632.4 521.0,632.4 522.0,632.3 522.9,632.3 523.9,632.3 524.9,632.3 525.8,632.3 526.8,632.3 527.8,632.3 528.7,632.3 529.7,632.3 530.6,632.3 531.6,632.2 532.6,632.2 533.5,632.2 534.5,632.2 535.5,632.2 536.4,632.2 537.4,632.2 538.3,632.1 539.3,632.1 540.3,632.1 541.2,632.1 542.2,632.1 543.2,632.1 544.1,632.0 545.1,632.0 546.1,632.0 547.0,632.0 548.0,631.9 548.9,631.9 549.9,631.9 550.9,631.9 551.8,631.8 552.8,631.8 553.8,631.8 554.7,631.7 555.7,631.7 556.6,631.7 557.6,631.6 558.6,631.6 559.5,631.6 560.5,631.5 561.5,631.5 562.4,631.4 563.4,631.4 564.4,631.3 565.3,631.3 566.3,631.2 567.2,631.2 568.2,631.1 569.2,631.1 570.1,631.0 571.1,630.9 572.1,630.9 573.0,630.8 574.0,630.7 574.9,630.6 575.9,630.6 576.9,630.5 577.8,630.4 578.8,630.3 579.8,630.2 580.7,630.1 581.7,630.0 582.6,629.9 583.6,629.8 584.6,629.7 585.5,629.6 586.5,629.5 587.5,629.4 588.4,629.2 589.4,629.1 590.4,629.0 591.3,628.9 592.3,628.7 593.2,628.6 594.2,628.4 595.2,628.3 596.1,628.1 597.1,628.0 598.1,627.8 599.0,627.7 600.0,627.5 600.9,627.4 601.9,627.2 602.9,627.0 603.8,626.9 604.8,626.7 605.8,626.5 606.7,626.3 607.7,626.1 608.7,626.0 609.6,625.8 610.6,625.6 611.5,625.4 612.5,625.2 613.5,625.1 614.4,624.9 615.4,624.7 616.4,624.5 617.3,624.3 618.3,624.2 619.2,624.0 620.2,623.8 621.2,623.6 622.1,623.5 623.1,623.3 624.1,623.2 625.0,623.0 626.0,622.9 627.0,622.7 627.9,622.6 628.9,622.5 629.8,622.4 630.8,622.2 631.8,622.1 632.7,622.1 633.7,622.0 634.7,621.9 635.6,621.9 636.6,621.8 637.5,621.8 638.5,621.8 639.5,621.7 640.4,621.7 641.4,621.8 642.4,621.8 643.3,621.8 644.3,621.9 645.3,621.9 646.2,622.0 647.2,622.1 648.1,622.1 649.1,622.2 650.1,622.4 651.0,622.5 652.0,622.6 653.0,622.7 653.9,622.9 654.9,623.0 655.8,623.2 656.8,623.3 657.8,623.5 658.7,623.6 659.7,623.8 660.7,624.0 661.6,624.2 662.6,624.3 663.6,624.5 664.5,624.7 665.5,624.9 666.4,625.1 667.4,625.2 668.4,625.4 669.3,625.6 670.3,625.8 671.3,626.0 672.2,626.1 673.2,626.3 674.1,626.5 675.1,626.7 676.1,626.8 677.0,627.0 678.0,627.2 679.0,627.4 679.9,627.5 680.9,627.7 681.9,627.8 682.8,628.0 683.8,628.1 684.7,628.3 685.7,628.4 686.7,628.6 687.6,628.7 688.6,628.9 689.6,629.0 690.5,629.1 691.5,629.2 692.4,629.4 693.4,629.5 694.4,629.6 695.3,629.7 696.3,629.8 697.3,629.9 698.2,630.0 699.2,630.1 700.2,630.2 701.1,630.3 702.1,630.4 703.0,630.5 704.0,630.6 705.0,630.6 705.9,630.7 706.9,630.8 707.9,630.9 708.8,630.9 709.8,631.0 710.7,631.1 711.7,631.1 712.7,631.2 713.6,631.2 714.6,631.3 715.6,631.3 716.5,631.4 717.5,631.4 718.5,631.5 719.4,631.5 720.4,631.6 721.3,631.6 722.3,631.6 723.3,631.7 724.2,631.7 725.2,631.7 726.2,631.8 727.1,631.8 728.1,631.8 729.0,631.9 730.0,631.9 731.0,631.9 731.9,631.9 732.9,632.0 733.9,632.0 734.8,632.0 735.8,632.0 736.7,632.1 737.7,632.1 738.7,632.1 739.6,632.1 740.6,632.1 741.6,632.1 742.5,632.2 743.5,632.2 744.5,632.2 745.4,632.2 746.4,632.2 747.3,632.2 748.3,632.2 749.3,632.3 750.2,632.3 751.2,632.3 752.2,632.3 753.1,632.3 754.1,632.3 755.0,632.3 756.0,632.3 757.0,632.3 757.9,632.3 758.9,632.4 759.9,632.4 760.8,632.4 761.8,632.4 762.8,632.4 763.7,632.4 764.7,632.4" fill="none" stroke="#3d5f78" stroke-width="2.6" stroke-linejoin="round"/>
<path d="M198.4,632.9 L198.4,632.8 200.7,632.8 203.1,632.8 205.5,632.8 207.8,632.8 210.2,632.8 212.6,632.8 215.0,632.8 217.3,632.8 219.7,632.8 222.1,632.8 224.4,632.8 226.8,632.8 229.2,632.8 231.6,632.8 233.9,632.8 236.3,632.8 238.7,632.8 241.0,632.8 243.4,632.8 245.8,632.8 248.2,632.8 250.5,632.8 252.9,632.8 255.3,632.8 257.6,632.8 260.0,632.8 262.4,632.8 264.8,632.8 267.1,632.8 269.5,632.8 271.9,632.8 274.2,632.8 276.6,632.8 279.0,632.8 281.4,632.8 283.7,632.8 286.1,632.8 288.5,632.8 290.8,632.8 293.2,632.8 295.6,632.8 298.0,632.8 300.3,632.8 302.7,632.8 305.1,632.8 307.4,632.8 309.8,632.8 312.2,632.8 314.6,632.8 316.9,632.7 319.3,632.7 321.7,632.7 324.0,632.7 326.4,632.7 328.8,632.7 331.2,632.7 333.5,632.7 335.9,632.7 338.3,632.7 340.6,632.7 343.0,632.7 345.4,632.7 347.8,632.7 350.1,632.7 352.5,632.7 354.9,632.7 357.2,632.7 359.6,632.7 362.0,632.7 364.4,632.7 366.7,632.7 369.1,632.7 371.5,632.7 373.9,632.7 376.2,632.7 378.6,632.7 381.0,632.7 383.3,632.7 385.7,632.7 388.1,632.7 390.5,632.6 392.8,632.6 395.2,632.6 397.6,632.6 399.9,632.6 402.3,632.6 404.7,632.6 407.1,632.6 409.4,632.6 411.8,632.6 414.2,632.6 416.5,632.6 418.9,632.6 421.3,632.6 423.7,632.6 426.0,632.6 428.4,632.6 430.8,632.5 433.1,632.5 435.5,632.5 437.9,632.5 440.3,632.5 442.6,632.5 445.0,632.5 447.4,632.5 449.7,632.5 452.1,632.5 454.5,632.5 456.9,632.4 459.2,632.4 461.6,632.4 464.0,632.4 466.3,632.4 468.7,632.4 471.1,632.4 473.5,632.4 475.8,632.3 478.2,632.3 480.6,632.3 482.9,632.3 485.3,632.3 487.7,632.3 490.1,632.2 492.4,632.2 494.8,632.2 497.2,632.2 499.5,632.1 501.9,632.1 504.3,632.1 506.7,632.1 509.0,632.0 511.4,632.0 513.8,632.0 516.1,631.9 518.5,631.9 520.9,631.9 523.3,631.8 525.6,631.8 528.0,631.7 530.4,631.7 532.8,631.6 535.1,631.6 537.5,631.5 539.9,631.4 542.2,631.3 544.6,631.2 547.0,631.1 549.4,631.0 551.7,630.9 554.1,630.8 556.5,630.6 558.8,630.5 561.2,630.3 563.6,630.1 566.0,629.9 568.3,629.6 570.7,629.4 573.1,629.1 575.4,628.8 577.8,628.4 580.2,628.1 582.6,627.7 584.9,627.2 587.3,626.8 589.7,626.3 592.0,625.8 594.4,625.2 596.8,624.7 599.2,624.1 601.5,623.5 603.9,622.8 606.3,622.1 608.6,621.5 611.0,620.8 613.4,620.1 615.8,619.4 618.1,618.7 620.5,618.1 622.9,617.5 625.2,616.9 627.6,616.4 630.0,615.9 632.4,615.6 634.7,615.3 637.1,615.1 639.5,615.0 641.8,615.1 644.2,615.2 646.6,615.4 649.0,615.8 651.3,616.2 653.7,616.7 656.1,617.2 658.4,617.8 660.8,618.5 663.2,619.1 665.6,619.8 667.9,620.5 670.3,621.2 672.7,621.9 675.0,622.5 677.4,623.2 679.8,623.8 682.2,624.4 684.5,625.0 686.9,625.6 689.3,626.1 691.7,626.6 694.0,627.1 696.4,627.5 698.8,627.9 701.1,628.3 703.5,628.6 705.9,628.9 708.3,629.2 710.6,629.5 713.0,629.8 715.4,630.0 717.7,630.2 720.1,630.4 722.5,630.6 724.9,630.7 727.2,630.8 729.6,631.0 732.0,631.1 734.3,631.2 736.7,631.3 739.1,631.4 741.5,631.5 743.8,631.5 746.2,631.6 748.6,631.7 750.9,631.7 753.3,631.8 755.7,631.8 758.1,631.8 760.4,631.9 762.8,631.9 765.2,632.0 767.5,632.0 769.9,632.0 772.3,632.1 774.7,632.1 777.0,632.1 779.4,632.1 781.8,632.2 784.1,632.2 786.5,632.2 788.9,632.2 791.3,632.2 793.6,632.3 796.0,632.3 798.4,632.3 800.7,632.3 803.1,632.3 805.5,632.3 807.9,632.4 810.2,632.4 812.6,632.4 L812.6,632.9 Z" fill="rgba(104,160,22,0.72)" stroke="none"/>
<polyline points="198.4,632.8 200.7,632.8 203.1,632.8 205.5,632.8 207.8,632.8 210.2,632.8 212.6,632.8 215.0,632.8 217.3,632.8 219.7,632.8 222.1,632.8 224.4,632.8 226.8,632.8 229.2,632.8 231.6,632.8 233.9,632.8 236.3,632.8 238.7,632.8 241.0,632.8 243.4,632.8 245.8,632.8 248.2,632.8 250.5,632.8 252.9,632.8 255.3,632.8 257.6,632.8 260.0,632.8 262.4,632.8 264.8,632.8 267.1,632.8 269.5,632.8 271.9,632.8 274.2,632.8 276.6,632.8 279.0,632.8 281.4,632.8 283.7,632.8 286.1,632.8 288.5,632.8 290.8,632.8 293.2,632.8 295.6,632.8 298.0,632.8 300.3,632.8 302.7,632.8 305.1,632.8 307.4,632.8 309.8,632.8 312.2,632.8 314.6,632.8 316.9,632.7 319.3,632.7 321.7,632.7 324.0,632.7 326.4,632.7 328.8,632.7 331.2,632.7 333.5,632.7 335.9,632.7 338.3,632.7 340.6,632.7 343.0,632.7 345.4,632.7 347.8,632.7 350.1,632.7 352.5,632.7 354.9,632.7 357.2,632.7 359.6,632.7 362.0,632.7 364.4,632.7 366.7,632.7 369.1,632.7 371.5,632.7 373.9,632.7 376.2,632.7 378.6,632.7 381.0,632.7 383.3,632.7 385.7,632.7 388.1,632.7 390.5,632.6 392.8,632.6 395.2,632.6 397.6,632.6 399.9,632.6 402.3,632.6 404.7,632.6 407.1,632.6 409.4,632.6 411.8,632.6 414.2,632.6 416.5,632.6 418.9,632.6 421.3,632.6 423.7,632.6 426.0,632.6 428.4,632.6 430.8,632.5 433.1,632.5 435.5,632.5 437.9,632.5 440.3,632.5 442.6,632.5 445.0,632.5 447.4,632.5 449.7,632.5 452.1,632.5 454.5,632.5 456.9,632.4 459.2,632.4 461.6,632.4 464.0,632.4 466.3,632.4 468.7,632.4 471.1,632.4 473.5,632.4 475.8,632.3 478.2,632.3 480.6,632.3 482.9,632.3 485.3,632.3 487.7,632.3 490.1,632.2 492.4,632.2 494.8,632.2 497.2,632.2 499.5,632.1 501.9,632.1 504.3,632.1 506.7,632.1 509.0,632.0 511.4,632.0 513.8,632.0 516.1,631.9 518.5,631.9 520.9,631.9 523.3,631.8 525.6,631.8 528.0,631.7 530.4,631.7 532.8,631.6 535.1,631.6 537.5,631.5 539.9,631.4 542.2,631.3 544.6,631.2 547.0,631.1 549.4,631.0 551.7,630.9 554.1,630.8 556.5,630.6 558.8,630.5 561.2,630.3 563.6,630.1 566.0,629.9 568.3,629.6 570.7,629.4 573.1,629.1 575.4,628.8 577.8,628.4 580.2,628.1 582.6,627.7 584.9,627.2 587.3,626.8 589.7,626.3 592.0,625.8 594.4,625.2 596.8,624.7 599.2,624.1 601.5,623.5 603.9,622.8 606.3,622.1 608.6,621.5 611.0,620.8 613.4,620.1 615.8,619.4 618.1,618.7 620.5,618.1 622.9,617.5 625.2,616.9 627.6,616.4 630.0,615.9 632.4,615.6 634.7,615.3 637.1,615.1 639.5,615.0 641.8,615.1 644.2,615.2 646.6,615.4 649.0,615.8 651.3,616.2 653.7,616.7 656.1,617.2 658.4,617.8 660.8,618.5 663.2,619.1 665.6,619.8 667.9,620.5 670.3,621.2 672.7,621.9 675.0,622.5 677.4,623.2 679.8,623.8 682.2,624.4 684.5,625.0 686.9,625.6 689.3,626.1 691.7,626.6 694.0,627.1 696.4,627.5 698.8,627.9 701.1,628.3 703.5,628.6 705.9,628.9 708.3,629.2 710.6,629.5 713.0,629.8 715.4,630.0 717.7,630.2 720.1,630.4 722.5,630.6 724.9,630.7 727.2,630.8 729.6,631.0 732.0,631.1 734.3,631.2 736.7,631.3 739.1,631.4 741.5,631.5 743.8,631.5 746.2,631.6 748.6,631.7 750.9,631.7 753.3,631.8 755.7,631.8 758.1,631.8 760.4,631.9 762.8,631.9 765.2,632.0 767.5,632.0 769.9,632.0 772.3,632.1 774.7,632.1 777.0,632.1 779.4,632.1 781.8,632.2 784.1,632.2 786.5,632.2 788.9,632.2 791.3,632.2 793.6,632.3 796.0,632.3 798.4,632.3 800.7,632.3 803.1,632.3 805.5,632.3 807.9,632.4 810.2,632.4 812.6,632.4" fill="none" stroke="#6ba01e" stroke-width="2.6" stroke-linejoin="round"/>
<polyline points="198.4,308.0 199.6,308.0 200.8,308.0 202.0,308.0 203.3,308.0 204.5,308.0 205.7,308.0 207.0,308.0 208.2,308.0 209.4,308.0 210.7,307.9 211.9,307.9 213.1,307.9 214.4,307.9 215.6,307.9 216.8,307.8 218.0,307.8 219.3,307.8 220.5,307.7 221.7,307.7 223.0,307.6 224.2,307.6 225.4,307.5 226.7,307.5 227.9,307.4 229.1,307.3 230.4,307.2 231.6,307.1 232.8,307.0 234.0,306.9 235.3,306.8 236.5,306.7 237.7,306.5 239.0,306.4 240.2,306.2 241.4,306.0 242.7,305.8 243.9,305.6 245.1,305.4 246.4,305.2 247.6,304.9 248.8,304.7 250.1,304.4 251.3,304.1 252.5,303.8 253.7,303.4 255.0,303.0 256.2,302.6 257.4,302.2 258.7,301.8 259.9,301.3 261.1,300.8 262.4,300.3 263.6,299.7 264.8,299.1 266.1,298.4 267.3,297.7 268.5,296.9 269.7,296.1 271.0,295.2 272.2,294.2 273.4,293.1 274.7,291.9 275.9,290.6 277.1,289.2 278.4,287.6 279.6,285.9 280.8,284.0 282.1,281.9 283.3,279.6 284.5,277.1 285.7,274.4 287.0,271.4 288.2,268.1 289.4,264.5 290.7,260.6 291.9,256.4 293.1,251.9 294.4,247.0 295.6,241.8 296.8,236.2 298.1,230.2 299.3,223.9 300.5,217.3 301.8,210.3 303.0,203.0 304.2,195.4 305.4,187.6 306.7,179.5 307.9,171.2 309.1,162.9 310.4,154.4 311.6,145.9 312.8,137.5 314.1,129.1 315.3,121.0 316.5,113.0 317.8,105.4 319.0,98.1 320.2,91.3 321.4,85.0 322.7,79.2 323.9,74.1 325.1,69.6 326.4,65.8 327.6,62.8 328.8,60.6 330.1,59.1 331.3,58.5 332.5,58.7 333.8,59.7 335.0,61.4 336.2,63.9 337.4,67.1 338.7,70.9 339.9,75.4 341.1,80.4 342.4,85.9 343.6,91.8 344.8,98.1 346.1,104.6 347.3,111.4 348.5,118.2 349.8,125.0 351.0,131.8 352.2,138.5 353.5,145.0 354.7,151.3 355.9,157.2 357.1,162.7 358.4,167.9 359.6,172.6 360.8,176.7 362.1,180.4 363.3,183.6 364.5,186.2 365.8,188.2 367.0,189.8 368.2,190.8 369.5,191.3 370.7,191.4 371.9,191.1 373.1,190.5 374.4,189.5 375.6,188.3 376.8,187.0 378.1,185.5 379.3,184.0 380.5,182.6 381.8,181.2 383.0,180.0 384.2,179.1 385.5,178.5 386.7,178.1 387.9,178.2 389.2,178.6 390.4,179.5 391.6,180.9 392.8,182.6 394.1,184.8 395.3,187.4 396.5,190.4 397.8,193.8 399.0,197.4 400.2,201.4 401.5,205.6 402.7,210.0 403.9,214.5 405.2,219.1 406.4,223.8 407.6,228.4 408.8,233.0 410.1,237.5 411.3,242.0 412.5,246.2 413.8,250.4 415.0,254.3 416.2,258.1 417.5,261.6 418.7,265.0 419.9,268.1 421.2,271.1 422.4,273.8 423.6,276.4 424.8,278.8 426.1,281.0 427.3,283.0 428.5,284.9 429.8,286.7 431.0,288.3 432.2,289.8 433.5,291.2 434.7,292.5 435.9,293.7 437.2,294.8 438.4,295.8 439.6,296.8 440.9,297.7 442.1,298.5 443.3,299.3 444.5,300.0 445.8,300.7 447.0,301.3 448.2,301.9 449.5,302.4 450.7,302.9 451.9,303.3 453.2,303.7 454.4,304.1 455.6,304.5 456.9,304.8 458.1,305.1 459.3,305.4 460.5,305.6 461.8,305.8 463.0,306.0 464.2,306.2 465.5,306.4 466.7,306.5 467.9,306.7 469.2,306.8 470.4,306.9 471.6,307.0 472.9,307.0 474.1,307.1 475.3,307.1 476.5,307.2 477.8,307.2 479.0,307.2 480.2,307.2 481.5,307.2 482.7,307.2 483.9,307.2 485.2,307.2 486.4,307.2 487.6,307.1 488.9,307.1 490.1,307.0 491.3,307.0 492.6,306.9 493.8,306.9 495.0,306.8 496.2,306.7 497.5,306.6 498.7,306.5 499.9,306.4 501.2,306.3 502.4,306.2 503.6,306.1 504.9,306.0 506.1,305.8 507.3,305.7 508.6,305.5 509.8,305.4 511.0,305.2 512.2,305.0 513.5,304.8 514.7,304.6 515.9,304.4 517.2,304.2 518.4,304.0 519.6,303.7 520.9,303.5 522.1,303.2 523.3,302.9 524.6,302.6 525.8,302.3 527.0,302.0 528.3,301.7 529.5,301.3 530.7,301.0 531.9,300.6 533.2,300.2 534.4,299.8 535.6,299.4 536.9,299.0 538.1,298.6 539.3,298.1 540.6,297.6 541.8,297.1 543.0,296.6 544.3,296.1 545.5,295.6 546.7,295.0 547.9,294.4 549.2,293.8 550.4,293.2 551.6,292.6 552.9,291.9 554.1,291.2 555.3,290.5 556.6,289.8 557.8,289.1 559.0,288.3 560.3,287.5 561.5,286.7 562.7,285.9 563.9,285.1 565.2,284.2 566.4,283.4 567.6,282.5 568.9,281.6 570.1,280.7 571.3,279.8 572.6,278.9 573.8,278.1 575.0,277.2 576.3,276.3 577.5,275.4 578.7,274.6 580.0,273.8 581.2,273.0 582.4,272.2 583.6,271.5 584.9,270.7 586.1,270.0 587.3,269.4 588.6,268.8 589.8,268.2 591.0,267.6 592.3,267.1 593.5,266.6 594.7,266.1 596.0,265.7 597.2,265.3 598.4,264.9 599.6,264.5 600.9,264.2 602.1,263.9 603.3,263.6 604.6,263.3 605.8,263.1 607.0,262.9 608.3,262.6 609.5,262.5 610.7,262.3 612.0,262.1 613.2,262.0 614.4,261.8 615.6,261.7 616.9,261.6 618.1,261.5 619.3,261.5 620.6,261.4 621.8,261.4 623.0,261.4 624.3,261.4 625.5,261.4 626.7,261.5 628.0,261.6 629.2,261.7 630.4,261.8 631.7,261.9 632.9,262.1 634.1,262.3 635.3,262.5 636.6,262.8 637.8,263.0 639.0,263.3 640.3,263.7 641.5,264.0 642.7,264.4 644.0,264.8 645.2,265.2 646.4,265.6 647.7,266.1 648.9,266.6 650.1,267.1 651.3,267.6 652.6,268.2 653.8,268.7 655.0,269.3 656.3,269.9 657.5,270.6 658.7,271.2 660.0,271.9 661.2,272.5 662.4,273.2 663.7,273.9 664.9,274.6 666.1,275.3 667.3,276.1 668.6,276.8 669.8,277.5 671.0,278.3 672.3,279.0 673.5,279.8 674.7,280.6 676.0,281.3 677.2,282.1 678.4,282.8 679.7,283.6 680.9,284.4 682.1,285.1 683.4,285.8 684.6,286.6 685.8,287.3 687.0,288.0 688.3,288.8 689.5,289.5 690.7,290.2 692.0,290.8 693.2,291.5 694.4,292.2 695.7,292.8 696.9,293.5 698.1,294.1 699.4,294.7 700.6,295.3 701.8,295.9 703.0,296.4 704.3,297.0 705.5,297.5 706.7,298.0 708.0,298.5 709.2,299.0 710.4,299.5 711.7,299.9 712.9,300.3 714.1,300.8 715.4,301.2 716.6,301.5 717.8,301.9 719.1,302.3 720.3,302.6 721.5,302.9 722.7,303.2 724.0,303.5 725.2,303.8 726.4,304.1 727.7,304.3 728.9,304.6 730.1,304.8 731.4,305.0 732.6,305.2 733.8,305.4 735.1,305.6 736.3,305.8 737.5,305.9 738.7,306.1 740.0,306.2 741.2,306.4 742.4,306.5 743.7,306.6 744.9,306.7 746.1,306.8 747.4,306.9 748.6,307.0 749.8,307.1 751.1,307.2 752.3,307.2 753.5,307.3 754.7,307.4 756.0,307.4 757.2,307.5 758.4,307.5 759.7,307.6 760.9,307.6 762.1,307.7 763.4,307.7 764.6,307.7 765.8,307.7 767.1,307.8 768.3,307.8 769.5,307.8 770.8,307.8 772.0,307.9 773.2,307.9 774.4,307.9 775.7,307.9 776.9,307.9 778.1,307.9 779.4,308.0 780.6,308.0 781.8,308.0 783.1,308.0 784.3,308.0 785.5,308.0 786.8,308.0 788.0,308.0 789.2,308.0 790.4,308.0 791.7,308.0 792.9,308.0 794.1,308.0 795.4,308.0 796.6,308.0 797.8,308.0 799.1,308.0 800.3,308.0 801.5,308.0 802.8,308.0 804.0,308.0 805.2,308.1 806.4,308.1 807.7,308.1 808.9,308.1 810.1,308.1 811.4,308.1 812.6,308.1" fill="none" stroke="#000" stroke-width="3.2" stroke-linejoin="round" stroke-linecap="round"/>
<polyline points="198.4,629.6 199.6,629.6 200.8,629.6 202.0,629.6 203.3,629.6 204.5,629.6 205.7,629.6 207.0,629.6 208.2,629.6 209.4,629.6 210.7,629.6 211.9,629.6 213.1,629.6 214.4,629.6 215.6,629.6 216.8,629.6 218.0,629.6 219.3,629.6 220.5,629.6 221.7,629.6 223.0,629.6 224.2,629.6 225.4,629.6 226.7,629.6 227.9,629.6 229.1,629.6 230.4,629.6 231.6,629.6 232.8,629.5 234.0,629.5 235.3,629.5 236.5,629.5 237.7,629.5 239.0,629.4 240.2,629.4 241.4,629.4 242.7,629.3 243.9,629.3 245.1,629.2 246.4,629.1 247.6,629.1 248.8,629.0 250.1,628.8 251.3,628.7 252.5,628.6 253.7,628.4 255.0,628.2 256.2,628.0 257.4,627.7 258.7,627.4 259.9,627.1 261.1,626.7 262.4,626.3 263.6,625.8 264.8,625.3 266.1,624.7 267.3,624.1 268.5,623.3 269.7,622.5 271.0,621.6 272.2,620.7 273.4,619.6 274.7,618.4 275.9,617.2 277.1,615.8 278.4,614.3 279.6,612.7 280.8,610.9 282.1,609.1 283.3,607.1 284.5,604.9 285.7,602.6 287.0,600.1 288.2,597.5 289.4,594.6 290.7,591.6 291.9,588.4 293.1,585.0 294.4,581.4 295.6,577.5 296.8,573.4 298.1,569.0 299.3,564.3 300.5,559.4 301.8,554.1 303.0,548.5 304.2,542.5 305.4,536.3 306.7,529.6 307.9,522.7 309.1,515.3 310.4,507.7 311.6,499.7 312.8,491.5 314.1,483.1 315.3,474.5 316.5,465.8 317.8,457.0 319.0,448.4 320.2,439.9 321.4,431.6 322.7,423.8 323.9,416.4 325.1,409.6 326.4,403.5 327.6,398.2 328.8,393.8 330.1,390.3 331.3,387.7 332.5,386.2 333.8,385.7 335.0,386.1 336.2,387.6 337.4,389.9 338.7,393.0 339.9,396.8 341.1,401.3 342.4,406.3 343.6,411.7 344.8,417.5 346.1,423.5 347.3,429.6 348.5,435.9 349.8,442.2 351.0,448.5 352.2,454.8 353.5,461.0 354.7,467.0 355.9,472.9 357.1,478.7 358.4,484.1 359.6,489.3 360.8,494.1 362.1,498.4 363.3,502.3 364.5,505.6 365.8,508.3 367.0,510.3 368.2,511.8 369.5,512.6 370.7,512.8 371.9,512.5 373.1,511.6 374.4,510.4 375.6,508.8 376.8,507.0 378.1,505.0 379.3,503.0 380.5,501.1 381.8,499.3 383.0,497.7 384.2,496.5 385.5,495.6 386.7,495.0 387.9,495.0 389.2,495.4 390.4,496.3 391.6,497.7 392.8,499.7 394.1,502.1 395.3,504.9 396.5,508.2 397.8,512.0 399.0,516.0 400.2,520.4 401.5,525.1 402.7,530.0 403.9,535.1 405.2,540.3 406.4,545.6 407.6,550.9 408.8,556.2 410.1,561.5 411.3,566.6 412.5,571.6 413.8,576.5 415.0,581.1 416.2,585.6 417.5,589.8 418.7,593.7 419.9,597.4 421.2,600.9 422.4,604.1 423.6,607.0 424.8,609.7 426.1,612.1 427.3,614.4 428.5,616.3 429.8,618.1 431.0,619.7 432.2,621.1 433.5,622.3 434.7,623.4 435.9,624.4 437.2,625.2 438.4,625.9 439.6,626.5 440.9,627.0 442.1,627.5 443.3,627.8 444.5,628.2 445.8,628.4 447.0,628.6 448.2,628.8 449.5,629.0 450.7,629.1 451.9,629.2 453.2,629.3 454.4,629.3 455.6,629.4 456.9,629.4 458.1,629.5 459.3,629.5 460.5,629.5 461.8,629.5 463.0,629.5 464.2,629.6 465.5,629.6 466.7,629.6 467.9,629.6 469.2,629.6 470.4,629.6 471.6,629.6 472.9,629.6 474.1,629.6 475.3,629.6 476.5,629.5 477.8,629.5 479.0,629.5 480.2,629.5 481.5,629.5 482.7,629.5 483.9,629.5 485.2,629.5 486.4,629.5 487.6,629.4 488.9,629.4 490.1,629.4 491.3,629.4 492.6,629.4 493.8,629.3 495.0,629.3 496.2,629.3 497.5,629.2 498.7,629.2 499.9,629.1 501.2,629.1 502.4,629.0 503.6,629.0 504.9,628.9 506.1,628.8 507.3,628.8 508.6,628.7 509.8,628.6 511.0,628.5 512.2,628.4 513.5,628.3 514.7,628.2 515.9,628.0 517.2,627.9 518.4,627.7 519.6,627.6 520.9,627.4 522.1,627.2 523.3,627.0 524.6,626.8 525.8,626.6 527.0,626.3 528.3,626.1 529.5,625.8 530.7,625.5 531.9,625.2 533.2,624.9 534.4,624.5 535.6,624.2 536.9,623.8 538.1,623.4 539.3,623.0 540.6,622.6 541.8,622.1 543.0,621.6 544.3,621.1 545.5,620.6 546.7,620.1 547.9,619.5 549.2,618.9 550.4,618.4 551.6,617.7 552.9,617.1 554.1,616.4 555.3,615.8 556.6,615.1 557.8,614.4 559.0,613.7 560.3,612.9 561.5,612.2 562.7,611.4 563.9,610.6 565.2,609.9 566.4,609.1 567.6,608.3 568.9,607.4 570.1,606.6 571.3,605.8 572.6,605.0 573.8,604.2 575.0,603.4 576.3,602.5 577.5,601.7 578.7,600.9 580.0,600.1 581.2,599.3 582.4,598.6 583.6,597.8 584.9,597.1 586.1,596.3 587.3,595.6 588.6,594.9 589.8,594.2 591.0,593.6 592.3,592.9 593.5,592.3 594.7,591.7 596.0,591.1 597.2,590.6 598.4,590.0 599.6,589.5 600.9,589.0 602.1,588.6 603.3,588.1 604.6,587.7 605.8,587.3 607.0,587.0 608.3,586.6 609.5,586.3 610.7,586.0 612.0,585.7 613.2,585.5 614.4,585.2 615.6,585.0 616.9,584.8 618.1,584.7 619.3,584.5 620.6,584.4 621.8,584.3 623.0,584.3 624.3,584.2 625.5,584.2 626.7,584.2 628.0,584.3 629.2,584.3 630.4,584.4 631.7,584.5 632.9,584.7 634.1,584.8 635.3,585.1 636.6,585.3 637.8,585.6 639.0,585.9 640.3,586.2 641.5,586.5 642.7,586.9 644.0,587.3 645.2,587.8 646.4,588.3 647.7,588.8 648.9,589.3 650.1,589.8 651.3,590.4 652.6,591.0 653.8,591.6 655.0,592.2 656.3,592.9 657.5,593.6 658.7,594.2 660.0,594.9 661.2,595.6 662.4,596.3 663.7,597.0 664.9,597.7 666.1,598.4 667.3,599.1 668.6,599.9 669.8,600.6 671.0,601.3 672.3,602.0 673.5,602.7 674.7,603.4 676.0,604.1 677.2,604.7 678.4,605.4 679.7,606.1 680.9,606.8 682.1,607.4 683.4,608.1 684.6,608.7 685.8,609.4 687.0,610.0 688.3,610.6 689.5,611.3 690.7,611.9 692.0,612.5 693.2,613.1 694.4,613.7 695.7,614.3 696.9,614.9 698.1,615.5 699.4,616.1 700.6,616.6 701.8,617.2 703.0,617.7 704.3,618.3 705.5,618.8 706.7,619.3 708.0,619.9 709.2,620.4 710.4,620.8 711.7,621.3 712.9,621.8 714.1,622.2 715.4,622.7 716.6,623.1 717.8,623.5 719.1,623.9 720.3,624.3 721.5,624.6 722.7,625.0 724.0,625.3 725.2,625.6 726.4,625.9 727.7,626.2 728.9,626.5 730.1,626.7 731.4,626.9 732.6,627.2 733.8,627.4 735.1,627.6 736.3,627.8 737.5,627.9 738.7,628.1 740.0,628.2 741.2,628.4 742.4,628.5 743.7,628.6 744.9,628.7 746.1,628.8 747.4,628.9 748.6,629.0 749.8,629.0 751.1,629.1 752.3,629.1 753.5,629.2 754.7,629.2 756.0,629.3 757.2,629.3 758.4,629.4 759.7,629.4 760.9,629.4 762.1,629.4 763.4,629.5 764.6,629.5 765.8,629.5 767.1,629.5 768.3,629.5 769.5,629.5 770.8,629.5 772.0,629.6 773.2,629.6 774.4,629.6 775.7,629.6 776.9,629.6 778.1,629.6 779.4,629.6 780.6,629.6 781.8,629.6 783.1,629.6 784.3,629.6 785.5,629.6 786.8,629.6 788.0,629.6 789.2,629.6 790.4,629.6 791.7,629.6 792.9,629.6 794.1,629.6 795.4,629.6 796.6,629.6 797.8,629.6 799.1,629.6 800.3,629.6 801.5,629.6 802.8,629.6 804.0,629.6 805.2,629.6 806.4,629.6 807.7,629.6 808.9,629.6 810.1,629.6 811.4,629.6 812.6,629.6" fill="none" stroke="#000" stroke-width="3.2" stroke-linejoin="round" stroke-linecap="round"/>
<line x1="306.6" y1="12.8" x2="306.6" y2="637.5" stroke="#ff0000" stroke-width="3.1"/>
<line x1="333.0" y1="12.8" x2="333.0" y2="637.5" stroke="#7f7f7f" stroke-width="3.1"/>
<line x1="602.2" y1="12.8" x2="602.2" y2="637.5" stroke="#0000ff" stroke-width="3.1"/>
<line x1="640.3" y1="12.8" x2="640.3" y2="637.5" stroke="#6ba01e" stroke-width="3.1"/>
<line x1="333.0" y1="41.2" x2="408.5" y2="41.2" stroke="#7f7f7f" stroke-width="3.0"/>
<path d="M425.0,41.2 L406.5,36.3 L407.7,41.2 L406.5,46.1 Z" fill="#7f7f7f" stroke="#7f7f7f" stroke-width="0.8" stroke-linejoin="round"/>
<line x1="602.0" y1="130.3" x2="539.0" y2="130.3" stroke="#0000ff" stroke-width="3.0"/>
<path d="M522.5,130.3 L541.0,125.4 L539.8,130.3 L541.0,135.2 Z" fill="#0000ff" stroke="#0000ff" stroke-width="0.8" stroke-linejoin="round"/>
<line x1="640.3" y1="128.6" x2="715.4" y2="128.6" stroke="#6ba01e" stroke-width="3.0"/>
<path d="M731.9,128.6 L713.4,123.7 L714.6,128.6 L713.4,133.5 Z" fill="#6ba01e" stroke="#6ba01e" stroke-width="0.8" stroke-linejoin="round"/>
<line x1="306.6" y1="388.8" x2="292.7" y2="388.8" stroke="#ff0000" stroke-width="3.0"/>
<path d="M276.2,388.8 L294.7,383.9 L293.5,388.8 L294.7,393.7 Z" fill="#ff0000" stroke="#ff0000" stroke-width="0.8" stroke-linejoin="round"/>
<text x="125.6" y="78.5" font-size="72.5" fill="#000" text-anchor="start">(a)</text>
<rect x="774.3" y="16.4" width="120.7" height="67.8" fill="#00f0f0"/>
<text x="779.7" y="68.4" font-size="53" fill="#000" text-anchor="start" font-weight="bold">P 2p</text>
<text x="427.0" y="52.2" font-size="33" fill="#767676" text-anchor="start">InP bulk</text>
<text x="407.7" y="139.5" font-size="33" fill="#0000ff" text-anchor="start">InPO<tspan font-size="30" dy="11">4</tspan></text>
<rect x="409.6" y="153.8" width="99.2" height="44.2" fill="#11ee11"/>
<text x="458.6" y="187.1" font-size="33" fill="#0000ff" text-anchor="middle">+ 4.21</text>
<text x="750.6" y="140.1" font-size="33" fill="#6ba01e" text-anchor="start">InPO<tspan font-size="30" dy="11">4</tspan></text>
<rect x="743.0" y="152.9" width="100.2" height="44.9" fill="#11ee11"/>
<text x="792.5" y="186.6" font-size="33" fill="#6ba01e" text-anchor="middle">+ 4.67</text>
<rect x="691.4" y="244.3" width="203.4" height="37.0" fill="#b8bbf3"/>
<text x="692.4" y="271.6" font-size="25.4" fill="#000" text-anchor="start">Nitridation 250 °C</text>
<text x="203.0" y="366.2" font-size="33" fill="#ff0000" text-anchor="middle">Nitridation</text>
<text x="195.7" y="405.7" font-size="33" fill="#ff0000" text-anchor="middle">induced</text>
<text x="195.0" y="446.0" font-size="33" fill="#ff0000" text-anchor="middle">shift</text>
<rect x="148.6" y="467.8" width="90.9" height="44.9" fill="#11ee11"/>
<text x="193.6" y="501.4" font-size="33" fill="#ff0000" text-anchor="middle">- 0.40</text>
<rect x="740.8" y="580.3" width="154.8" height="36.3" fill="#b8bbf3"/>
<text x="745.0" y="607.3" font-size="25.4" fill="#000" text-anchor="start">Native oxide</text>
<rect x="671.6" y="334.5" width="212.9" height="170.4" fill="#fff" stroke="none"/>
<polyline points="767.0,502.8 768.1,502.8 769.2,502.7 770.3,502.6 771.4,502.5 772.4,502.4 773.5,502.3 774.6,502.2 775.7,502.0 776.7,501.8 777.8,501.6 778.8,501.4 779.9,501.2 781.0,501.0 782.0,500.8 783.1,500.5 784.1,500.2 785.1,500.0 786.2,499.7 787.2,499.4 788.3,499.1 789.3,498.8 790.4,498.5 791.4,498.2 792.5,497.9 793.5,497.6 794.5,497.2 795.6,496.9 796.6,496.5 797.6,496.2 798.7,495.8 799.7,495.4 800.7,495.0 801.7,494.5 802.6,494.1 803.6,493.6 804.6,493.1 805.5,492.6 806.4,492.0 807.3,491.4 808.2,490.8 809.1,490.2 810.0,489.6 810.8,488.9 811.7,488.3 812.6,487.6 813.4,486.9 814.2,486.2 815.1,485.6 815.9,484.9 816.8,484.2 817.6,483.5 818.5,482.8 819.3,482.1 820.2,481.4 821.0,480.7 821.9,480.0 822.7,479.3 823.5,478.6 824.4,477.9 825.2,477.2 826.0,476.5 826.8,475.8 827.6,475.0 828.3,474.3 829.1,473.5 829.8,472.7 830.5,471.9 831.2,471.1 831.8,470.2 832.5,469.4 833.1,468.5 833.7,467.6 834.3,466.7 834.9,465.8 835.4,464.9 836.0,463.9 836.5,463.0 837.0,462.0 837.6,461.1 838.1,460.1 838.5,459.1 839.0,458.1 839.5,457.1 839.9,456.1 840.4,455.1 840.9,454.1 841.3,453.1 841.7,452.1 842.2,451.1 842.6,450.1 843.0,449.1 843.5,448.1 843.9,447.1 844.3,446.1 844.7,445.1 845.1,444.1 845.5,443.1 845.9,442.1 846.3,441.1 846.7,440.1 847.1,439.1 847.5,438.1 847.9,437.1 848.3,436.1 848.7,435.0 849.1,434.0 849.5,433.0 849.9,432.0 850.2,431.0 850.6,430.0 851.0,429.0 851.4,428.0 851.7,427.0 852.1,425.9 852.5,424.9 852.8,423.9 853.2,422.9 853.5,421.9 853.9,420.8 854.3,419.8 854.6,418.8 854.9,417.8 855.3,416.7 855.6,415.7 856.0,414.7 856.3,413.6 856.6,412.6 857.0,411.6 857.3,410.5 857.6,409.5 857.9,408.5 858.2,407.4 858.6,406.4 858.9,405.4 859.2,404.3 859.5,403.3 859.8,402.2 860.1,401.2 860.3,400.2 860.6,399.1 860.9,398.1 861.2,397.0 861.5,396.0 861.7,394.9 862.0,393.9 862.3,392.8 862.5,391.8 862.8,390.7 863.1,389.7 863.3,388.6 863.6,387.6 863.8,386.5 864.1,385.5 864.3,384.4 864.6,383.4 864.8,382.3 865.1,381.2 865.3,380.2 865.5,379.1 865.8,378.1 866.0,377.0 866.2,376.0 866.5,374.9 866.7,373.8 866.9,372.8 867.1,371.7 867.3,370.7 867.6,369.6 867.8,368.5 868.0,367.5 868.2,366.4 868.4,365.4 868.6,364.3 868.8,363.2 869.0,362.2 869.2,361.1 869.4,360.0 869.6,359.0 869.8,357.9 870.0,356.8 870.2,355.8 870.4,354.7 870.6,353.6 870.8,352.6 870.9,351.5 871.1,350.4 871.3,349.4 871.5,348.3 871.6,347.2 871.8,346.2 871.9,345.1 872.1,344.0 872.3,342.9 872.4,341.9 872.6,340.8 872.7,339.7 872.8,338.7 873.0,337.6 873.1,336.5" fill="none" stroke="#000" stroke-width="4" stroke-linejoin="round"/>
<polyline points="688.6,502.4 690.0,502.0 691.5,501.7 692.9,501.5 694.3,501.4 695.8,501.4 697.2,501.4 698.6,501.5 700.0,501.6 701.5,501.8 702.9,501.9 704.3,502.1 705.8,502.3 707.2,502.4 708.6,502.5 710.1,502.6 711.5,502.6 712.9,502.6 714.3,502.4 715.8,502.3 717.2,502.1 718.6,501.9 720.1,501.7 721.5,501.5 722.9,501.4 724.3,501.4 725.8,501.4 727.2,501.5 728.6,501.7 730.1,501.9 731.5,502.1 732.9,502.2 734.3,502.3 735.8,502.3 737.2,502.2 738.6,502.0 740.0,501.8 741.4,501.6 742.9,501.3 744.3,501.1 745.7,500.9 747.2,500.8 748.6,500.7 750.0,500.6 751.5,500.5 752.9,500.5 754.3,500.4 755.8,500.4 757.2,500.3 758.6,500.2 760.0,500.1 761.5,499.9 762.9,499.7 764.3,499.4 765.7,499.2 767.1,498.8 768.5,498.5 769.9,498.1 771.3,497.7 772.6,497.3 774.0,496.8 775.4,496.4 776.7,495.9 778.1,495.4 779.5,495.0 780.8,494.5 782.2,494.0 783.5,493.5 784.9,493.1 786.2,492.6 787.6,492.2 789.0,491.8 790.4,491.4 791.7,491.0 793.1,490.7 794.5,490.4 795.9,490.0 797.3,489.6 798.7,489.2 800.0,488.7 801.4,488.2 802.7,487.6 804.0,487.0 805.3,486.4 806.6,485.7 807.8,484.9 809.0,484.2 810.2,483.3 811.3,482.5 812.4,481.6 813.5,480.6 814.6,479.6 815.6,478.6 816.6,477.6 817.5,476.5 818.5,475.4 819.4,474.3 820.3,473.2 821.2,472.0 822.1,470.9 822.9,469.7 823.8,468.6 824.6,467.4 825.4,466.2 826.2,465.0 826.9,463.8 827.7,462.6 828.4,461.3 829.2,460.1 829.9,458.8 830.6,457.6 831.2,456.3 831.9,455.1 832.5,453.8 833.2,452.5 833.8,451.2 834.4,449.9 835.0,448.6 835.6,447.3 836.2,446.0 836.8,444.7 837.4,443.4 838.0,442.1 838.5,440.8 839.1,439.4 839.7,438.1 840.3,436.8 840.9,435.5 841.4,434.2 842.0,432.9 842.6,431.6 843.2,430.2 843.8,428.9 844.3,427.6 844.9,426.3 845.5,425.0 846.1,423.7 846.6,422.4 847.2,421.0 847.7,419.7 848.3,418.4 848.8,417.0 849.3,415.7 849.8,414.4 850.3,413.0 850.8,411.7 851.3,410.3 851.8,409.0 852.2,407.6 852.7,406.3 853.1,404.9 853.6,403.5 854.0,402.1 854.4,400.8 854.8,399.4 855.2,398.0 855.6,396.6 856.0,395.3 856.4,393.9 856.7,392.5 857.1,391.1 857.5,389.7 857.8,388.3 858.2,386.9 858.5,385.5 858.8,384.1 859.2,382.7 859.5,381.3 859.8,379.9 860.1,378.5 860.5,377.1 860.8,375.7 861.1,374.3 861.4,372.9 861.7,371.5 862.0,370.1 862.3,368.7 862.7,367.3 863.0,365.9 863.3,364.5 863.6,363.1 863.9,361.7 864.2,360.3 864.5,358.9 864.8,357.5 865.1,356.1 865.5,354.7 865.8,353.3 866.1,351.9 866.4,350.5 866.7,349.1 867.0,347.7 867.3,346.3 867.6,344.9 867.9,343.5 868.2,342.1 868.5,340.7 868.7,339.3 869.0,337.9 869.3,336.5" fill="none" stroke="#c83cff" stroke-width="4" stroke-linejoin="round"/>
<text x="677.5" y="381.7" font-size="22.4" fill="#c83cff" text-anchor="start">Nitridation 250 °C</text>
<text x="682.0" y="453.6" font-size="22.1" fill="#000" text-anchor="start">Native oxide</text>
<line x1="813.1" y1="389.2" x2="841.2" y2="408.3" stroke="#c83cff" stroke-width="3"/>
<path d="M851.1,415.0 L836.7,411.3 L842.3,403.0 Z" fill="#c83cff"/>
<line x1="777.5" y1="459.1" x2="806.4" y2="479.5" stroke="#000" stroke-width="3"/>
<path d="M816.2,486.4 L801.9,482.4 L807.6,474.2 Z" fill="#000"/>
<rect x="671.6" y="334.5" width="212.9" height="170.4" fill="none" stroke="#000" stroke-width="5"/>
<line x1="666.5" y1="504.9" x2="671.6" y2="504.9" stroke="#000" stroke-width="3.5" stroke-linecap="round"/>
<text x="664.8" y="510.5" font-size="15.5" fill="#000" text-anchor="end" font-weight="bold">0.0</text>
<line x1="666.5" y1="433.7" x2="671.6" y2="433.7" stroke="#000" stroke-width="3.5" stroke-linecap="round"/>
<text x="664.8" y="439.3" font-size="15.5" fill="#000" text-anchor="end" font-weight="bold">0.2</text>
<line x1="666.5" y1="362.5" x2="671.6" y2="362.5" stroke="#000" stroke-width="3.5" stroke-linecap="round"/>
<text x="664.8" y="368.1" font-size="15.5" fill="#000" text-anchor="end" font-weight="bold">0.4</text>
<line x1="668.5" y1="469.3" x2="671.6" y2="469.3" stroke="#000" stroke-width="3.5" stroke-linecap="round"/>
<line x1="668.5" y1="398.1" x2="671.6" y2="398.1" stroke="#000" stroke-width="3.5" stroke-linecap="round"/>
<line x1="671.6" y1="504.9" x2="671.6" y2="509.5" stroke="#000" stroke-width="3.5" stroke-linecap="round"/>
<text x="671.6" y="525.0" font-size="15.5" fill="#000" text-anchor="middle" font-weight="bold">127</text>
<line x1="778.1" y1="504.9" x2="778.1" y2="509.5" stroke="#000" stroke-width="3.5" stroke-linecap="round"/>
<text x="778.1" y="525.0" font-size="15.5" fill="#000" text-anchor="middle" font-weight="bold">128</text>
<line x1="884.5" y1="504.9" x2="884.5" y2="509.5" stroke="#000" stroke-width="3.5" stroke-linecap="round"/>
<text x="884.5" y="525.0" font-size="15.5" fill="#000" text-anchor="middle" font-weight="bold">129</text>
<line x1="724.8" y1="504.9" x2="724.8" y2="507.5" stroke="#000" stroke-width="3.5" stroke-linecap="round"/>
<line x1="831.3" y1="504.9" x2="831.3" y2="507.5" stroke="#000" stroke-width="3.5" stroke-linecap="round"/>
<line x1="116.2" y1="570.9" x2="122.7" y2="570.9" class="tk"/>
<line x1="116.2" y1="446.9" x2="122.7" y2="446.9" class="tk"/>
<line x1="116.2" y1="322.9" x2="122.7" y2="322.9" class="tk"/>
<line x1="116.2" y1="198.9" x2="122.7" y2="198.9" class="tk"/>
<line x1="116.2" y1="74.9" x2="122.7" y2="74.9" class="tk"/>
<line x1="110.2" y1="632.9" x2="122.7" y2="632.9" class="tk"/>
<text x="101.8" y="641.5" text-anchor="end" class="tl" style="font-size:29.5px">0.0</text>
<line x1="110.2" y1="508.9" x2="122.7" y2="508.9" class="tk"/>
<text x="101.8" y="517.5" text-anchor="end" class="tl" style="font-size:29.5px">0.5</text>
<line x1="110.2" y1="384.9" x2="122.7" y2="384.9" class="tk"/>
<text x="101.8" y="393.5" text-anchor="end" class="tl" style="font-size:29.5px">1.0</text>
<line x1="110.2" y1="260.9" x2="122.7" y2="260.9" class="tk"/>
<text x="101.8" y="269.5" text-anchor="end" class="tl" style="font-size:29.5px">1.5</text>
<line x1="110.2" y1="136.9" x2="122.7" y2="136.9" class="tk"/>
<text x="101.8" y="145.5" text-anchor="end" class="tl" style="font-size:29.5px">2.0</text>
<line x1="110.2" y1="12.9" x2="122.7" y2="12.9" class="tk"/>
<text x="101.8" y="21.5" text-anchor="end" class="tl" style="font-size:29.5px">2.5</text>
<line x1="187.4" y1="637.5" x2="187.4" y2="643.5" class="tk"/>
<line x1="316.7" y1="637.5" x2="316.7" y2="643.5" class="tk"/>
<line x1="446.0" y1="637.5" x2="446.0" y2="643.5" class="tk"/>
<line x1="575.3" y1="637.5" x2="575.3" y2="643.5" class="tk"/>
<line x1="704.6" y1="637.5" x2="704.6" y2="643.5" class="tk"/>
<line x1="833.9" y1="637.5" x2="833.9" y2="643.5" class="tk"/>
<line x1="122.7" y1="637.5" x2="122.7" y2="650.0" class="tk"/>
<text x="123.3" y="681.0" text-anchor="middle" class="tl">126</text>
<line x1="252.0" y1="637.5" x2="252.0" y2="650.0" class="tk"/>
<text x="252.6" y="681.0" text-anchor="middle" class="tl">128</text>
<line x1="381.3" y1="637.5" x2="381.3" y2="650.0" class="tk"/>
<text x="381.9" y="681.0" text-anchor="middle" class="tl">130</text>
<line x1="510.6" y1="637.5" x2="510.6" y2="650.0" class="tk"/>
<text x="511.2" y="681.0" text-anchor="middle" class="tl">132</text>
<line x1="640.0" y1="637.5" x2="640.0" y2="650.0" class="tk"/>
<text x="640.6" y="681.0" text-anchor="middle" class="tl">134</text>
<line x1="769.3" y1="637.5" x2="769.3" y2="650.0" class="tk"/>
<text x="769.9" y="681.0" text-anchor="middle" class="tl">136</text>
<line x1="898.6" y1="637.5" x2="898.6" y2="650.0" class="tk"/>
<text x="899.2" y="681.0" text-anchor="middle" class="tl">138</text>
<rect x="122.7" y="12.8" width="775.9" height="624.6" class="fr"/>
<text x="510.7" y="738.5" text-anchor="middle" class="at">Binding energy (eV)</text>
<text transform="translate(28.2,324.9) rotate(-90)" text-anchor="middle" class="at" font-size="38.5" style="font-size:38.5px">Normalized intensity (arb. units)</text>
<circle cx="189.4" cy="1147.5" r="5.0" class="dp"/>
<circle cx="197.2" cy="1147.5" r="5.0" class="dp"/>
<circle cx="205.0" cy="1147.5" r="5.0" class="dp"/>
<circle cx="212.8" cy="1147.5" r="5.0" class="dp"/>
<circle cx="220.6" cy="1147.5" r="5.0" class="dp"/>
<circle cx="228.4" cy="1147.5" r="5.0" class="dp"/>
<circle cx="236.2" cy="1147.5" r="5.0" class="dp"/>
<circle cx="244.0" cy="1147.5" r="5.0" class="dp"/>
<circle cx="251.8" cy="1147.5" r="5.0" class="dp"/>
<circle cx="259.6" cy="1147.5" r="5.0" class="dp"/>
<circle cx="267.4" cy="1147.5" r="5.0" class="dp"/>
<circle cx="275.2" cy="1147.4" r="5.0" class="dp"/>
<circle cx="283.0" cy="1147.4" r="5.0" class="dp"/>
<circle cx="290.8" cy="1147.3" r="5.0" class="dp"/>
<circle cx="298.6" cy="1147.1" r="5.0" class="dp"/>
<circle cx="306.4" cy="1146.9" r="5.0" class="dp"/>
<circle cx="314.2" cy="1146.6" r="5.0" class="dp"/>
<circle cx="322.0" cy="1146.2" r="5.0" class="dp"/>
<circle cx="329.8" cy="1145.7" r="5.0" class="dp"/>
<circle cx="337.6" cy="1145.0" r="5.0" class="dp"/>
<circle cx="345.4" cy="1144.1" r="5.0" class="dp"/>
<circle cx="353.2" cy="1143.0" r="5.0" class="dp"/>
<circle cx="361.0" cy="1141.8" r="5.0" class="dp"/>
<circle cx="368.8" cy="1140.5" r="5.0" class="dp"/>
<circle cx="376.6" cy="1139.1" r="5.0" class="dp"/>
<circle cx="384.4" cy="1137.6" r="5.0" class="dp"/>
<circle cx="392.2" cy="1136.2" r="5.0" class="dp"/>
<circle cx="400.0" cy="1134.8" r="5.0" class="dp"/>
<circle cx="407.8" cy="1133.3" r="5.0" class="dp"/>
<circle cx="415.6" cy="1131.5" r="5.0" class="dp"/>
<circle cx="423.4" cy="1128.6" r="5.0" class="dp"/>
<circle cx="431.2" cy="1124.0" r="5.0" class="dp"/>
<circle cx="439.0" cy="1117.5" r="5.0" class="dp"/>
<circle cx="446.8" cy="1109.0" r="5.0" class="dp"/>
<circle cx="454.6" cy="1098.0" r="5.0" class="dp"/>
<circle cx="462.4" cy="1082.9" r="5.0" class="dp"/>
<circle cx="470.1" cy="1061.0" r="5.0" class="dp"/>
<circle cx="477.9" cy="1030.8" r="5.0" class="dp"/>
<circle cx="485.7" cy="994.1" r="5.0" class="dp"/>
<circle cx="493.5" cy="956.0" r="5.0" class="dp"/>
<circle cx="501.3" cy="924.0" r="5.0" class="dp"/>
<circle cx="509.1" cy="904.9" r="5.0" class="dp"/>
<circle cx="516.9" cy="902.3" r="5.0" class="dp"/>
<circle cx="524.7" cy="915.5" r="5.0" class="dp"/>
<circle cx="532.5" cy="939.8" r="5.0" class="dp"/>
<circle cx="540.3" cy="968.9" r="5.0" class="dp"/>
<circle cx="548.1" cy="997.2" r="5.0" class="dp"/>
<circle cx="555.9" cy="1021.0" r="5.0" class="dp"/>
<circle cx="563.7" cy="1039.5" r="5.0" class="dp"/>
<circle cx="571.5" cy="1053.3" r="5.0" class="dp"/>
<circle cx="579.3" cy="1064.2" r="5.0" class="dp"/>
<circle cx="587.1" cy="1073.3" r="5.0" class="dp"/>
<circle cx="594.9" cy="1081.6" r="5.0" class="dp"/>
<circle cx="602.7" cy="1089.3" r="5.0" class="dp"/>
<circle cx="610.5" cy="1096.3" r="5.0" class="dp"/>
<circle cx="618.3" cy="1102.7" r="5.0" class="dp"/>
<circle cx="626.1" cy="1108.6" r="5.0" class="dp"/>
<circle cx="633.9" cy="1114.4" r="5.0" class="dp"/>
<circle cx="641.7" cy="1120.1" r="5.0" class="dp"/>
<circle cx="649.5" cy="1125.3" r="5.0" class="dp"/>
<circle cx="657.3" cy="1129.6" r="5.0" class="dp"/>
<circle cx="665.1" cy="1133.0" r="5.0" class="dp"/>
<circle cx="672.9" cy="1135.7" r="5.0" class="dp"/>
<circle cx="680.7" cy="1138.0" r="5.0" class="dp"/>
<circle cx="688.5" cy="1139.9" r="5.0" class="dp"/>
<circle cx="696.3" cy="1141.5" r="5.0" class="dp"/>
<circle cx="704.1" cy="1143.0" r="5.0" class="dp"/>
<circle cx="711.9" cy="1144.1" r="5.0" class="dp"/>
<circle cx="719.7" cy="1145.1" r="5.0" class="dp"/>
<circle cx="727.5" cy="1145.8" r="5.0" class="dp"/>
<circle cx="735.3" cy="1146.4" r="5.0" class="dp"/>
<circle cx="743.1" cy="1146.8" r="5.0" class="dp"/>
<circle cx="750.9" cy="1147.1" r="5.0" class="dp"/>
<circle cx="758.7" cy="1147.2" r="5.0" class="dp"/>
<circle cx="766.5" cy="1147.4" r="5.0" class="dp"/>
<circle cx="774.3" cy="1147.4" r="5.0" class="dp"/>
<circle cx="782.1" cy="1147.5" r="5.0" class="dp"/>
<circle cx="789.9" cy="1147.5" r="5.0" class="dp"/>
<circle cx="797.7" cy="1147.5" r="5.0" class="dp"/>
<circle cx="805.5" cy="1147.5" r="5.0" class="dp"/>
<circle cx="813.3" cy="1147.5" r="5.0" class="dp"/>
<circle cx="198.0" cy="1470.4" r="5.0" class="dp"/>
<circle cx="205.7" cy="1470.4" r="5.0" class="dp"/>
<circle cx="213.5" cy="1470.4" r="5.0" class="dp"/>
<circle cx="221.3" cy="1470.4" r="5.0" class="dp"/>
<circle cx="229.1" cy="1470.4" r="5.0" class="dp"/>
<circle cx="236.9" cy="1470.4" r="5.0" class="dp"/>
<circle cx="244.7" cy="1470.4" r="5.0" class="dp"/>
<circle cx="252.4" cy="1470.4" r="5.0" class="dp"/>
<circle cx="260.2" cy="1470.4" r="5.0" class="dp"/>
<circle cx="268.0" cy="1470.3" r="5.0" class="dp"/>
<circle cx="275.8" cy="1470.3" r="5.0" class="dp"/>
<circle cx="283.6" cy="1470.2" r="5.0" class="dp"/>
<circle cx="291.3" cy="1470.1" r="5.0" class="dp"/>
<circle cx="299.1" cy="1470.0" r="5.0" class="dp"/>
<circle cx="306.9" cy="1469.8" r="5.0" class="dp"/>
<circle cx="314.7" cy="1469.5" r="5.0" class="dp"/>
<circle cx="322.5" cy="1469.1" r="5.0" class="dp"/>
<circle cx="330.3" cy="1468.5" r="5.0" class="dp"/>
<circle cx="338.0" cy="1467.8" r="5.0" class="dp"/>
<circle cx="345.8" cy="1466.9" r="5.0" class="dp"/>
<circle cx="353.6" cy="1465.9" r="5.0" class="dp"/>
<circle cx="361.4" cy="1464.6" r="5.0" class="dp"/>
<circle cx="369.2" cy="1463.3" r="5.0" class="dp"/>
<circle cx="377.0" cy="1461.9" r="5.0" class="dp"/>
<circle cx="384.7" cy="1460.4" r="5.0" class="dp"/>
<circle cx="392.5" cy="1459.0" r="5.0" class="dp"/>
<circle cx="400.3" cy="1457.6" r="5.0" class="dp"/>
<circle cx="408.1" cy="1456.1" r="5.0" class="dp"/>
<circle cx="415.9" cy="1454.2" r="5.0" class="dp"/>
<circle cx="423.6" cy="1451.3" r="5.0" class="dp"/>
<circle cx="431.4" cy="1446.7" r="5.0" class="dp"/>
<circle cx="439.2" cy="1440.1" r="5.0" class="dp"/>
<circle cx="447.0" cy="1431.6" r="5.0" class="dp"/>
<circle cx="454.8" cy="1420.6" r="5.0" class="dp"/>
<circle cx="462.6" cy="1405.3" r="5.0" class="dp"/>
<circle cx="470.3" cy="1383.3" r="5.0" class="dp"/>
<circle cx="478.1" cy="1352.9" r="5.0" class="dp"/>
<circle cx="485.9" cy="1316.1" r="5.0" class="dp"/>
<circle cx="493.7" cy="1278.2" r="5.0" class="dp"/>
<circle cx="501.5" cy="1246.5" r="5.0" class="dp"/>
<circle cx="509.3" cy="1227.7" r="5.0" class="dp"/>
<circle cx="517.0" cy="1225.3" r="5.0" class="dp"/>
<circle cx="524.8" cy="1238.6" r="5.0" class="dp"/>
<circle cx="532.6" cy="1262.9" r="5.0" class="dp"/>
<circle cx="540.4" cy="1292.0" r="5.0" class="dp"/>
<circle cx="548.2" cy="1320.2" r="5.0" class="dp"/>
<circle cx="555.9" cy="1343.9" r="5.0" class="dp"/>
<circle cx="563.7" cy="1362.4" r="5.0" class="dp"/>
<circle cx="571.5" cy="1376.2" r="5.0" class="dp"/>
<circle cx="579.3" cy="1387.0" r="5.0" class="dp"/>
<circle cx="587.1" cy="1396.2" r="5.0" class="dp"/>
<circle cx="594.9" cy="1404.5" r="5.0" class="dp"/>
<circle cx="602.6" cy="1412.1" r="5.0" class="dp"/>
<circle cx="610.4" cy="1419.1" r="5.0" class="dp"/>
<circle cx="618.2" cy="1425.5" r="5.0" class="dp"/>
<circle cx="626.0" cy="1431.4" r="5.0" class="dp"/>
<circle cx="633.8" cy="1437.2" r="5.0" class="dp"/>
<circle cx="641.6" cy="1442.9" r="5.0" class="dp"/>
<circle cx="649.3" cy="1448.1" r="5.0" class="dp"/>
<circle cx="657.1" cy="1452.4" r="5.0" class="dp"/>
<circle cx="664.9" cy="1455.8" r="5.0" class="dp"/>
<circle cx="672.7" cy="1458.6" r="5.0" class="dp"/>
<circle cx="680.5" cy="1460.8" r="5.0" class="dp"/>
<circle cx="688.2" cy="1462.7" r="5.0" class="dp"/>
<circle cx="696.0" cy="1464.4" r="5.0" class="dp"/>
<circle cx="703.8" cy="1465.8" r="5.0" class="dp"/>
<circle cx="711.6" cy="1467.0" r="5.0" class="dp"/>
<circle cx="719.4" cy="1467.9" r="5.0" class="dp"/>
<circle cx="727.2" cy="1468.7" r="5.0" class="dp"/>
<circle cx="734.9" cy="1469.3" r="5.0" class="dp"/>
<circle cx="742.7" cy="1469.7" r="5.0" class="dp"/>
<circle cx="750.5" cy="1469.9" r="5.0" class="dp"/>
<circle cx="758.3" cy="1470.1" r="5.0" class="dp"/>
<circle cx="766.1" cy="1470.2" r="5.0" class="dp"/>
<circle cx="773.9" cy="1470.3" r="5.0" class="dp"/>
<circle cx="781.6" cy="1470.3" r="5.0" class="dp"/>
<circle cx="789.4" cy="1470.4" r="5.0" class="dp"/>
<circle cx="797.2" cy="1470.4" r="5.0" class="dp"/>
<circle cx="805.0" cy="1470.4" r="5.0" class="dp"/>
<circle cx="812.8" cy="1470.4" r="5.0" class="dp"/>
<path d="M189.4,1149.6 L189.4,1148.9 191.8,1148.9 194.2,1148.9 196.7,1148.9 199.1,1148.9 201.5,1148.8 203.9,1148.8 206.3,1148.8 208.7,1148.8 211.1,1148.8 213.5,1148.8 215.9,1148.8 218.3,1148.8 220.7,1148.8 223.1,1148.7 225.6,1148.7 228.0,1148.7 230.4,1148.7 232.8,1148.7 235.2,1148.7 237.6,1148.7 240.0,1148.6 242.4,1148.6 244.8,1148.6 247.2,1148.6 249.6,1148.6 252.1,1148.6 254.5,1148.5 256.9,1148.5 259.3,1148.5 261.7,1148.5 264.1,1148.5 266.5,1148.4 268.9,1148.4 271.3,1148.4 273.7,1148.4 276.1,1148.3 278.5,1148.3 281.0,1148.3 283.4,1148.3 285.8,1148.2 288.2,1148.2 290.6,1148.2 293.0,1148.1 295.4,1148.1 297.8,1148.1 300.2,1148.1 302.6,1148.0 305.0,1148.0 307.4,1147.9 309.9,1147.9 312.3,1147.9 314.7,1147.8 317.1,1147.8 319.5,1147.7 321.9,1147.7 324.3,1147.7 326.7,1147.6 329.1,1147.6 331.5,1147.5 333.9,1147.5 336.4,1147.4 338.8,1147.3 341.2,1147.3 343.6,1147.2 346.0,1147.1 348.4,1147.1 350.8,1147.0 353.2,1146.9 355.6,1146.9 358.0,1146.8 360.4,1146.7 362.8,1146.6 365.3,1146.5 367.7,1146.4 370.1,1146.3 372.5,1146.2 374.9,1146.1 377.3,1146.0 379.7,1145.8 382.1,1145.7 384.5,1145.6 386.9,1145.4 389.3,1145.3 391.7,1145.1 394.2,1144.9 396.6,1144.7 399.0,1144.5 401.4,1144.3 403.8,1144.0 406.2,1143.8 408.6,1143.4 411.0,1143.1 413.4,1142.7 415.8,1142.3 418.2,1141.8 420.7,1141.2 423.1,1140.5 425.5,1139.7 427.9,1138.7 430.3,1137.6 432.7,1136.4 435.1,1134.9 437.5,1133.1 439.9,1131.1 442.3,1128.7 444.7,1125.9 447.1,1122.7 449.6,1119.1 452.0,1114.9 454.4,1110.2 456.8,1104.9 459.2,1099.0 461.6,1092.3 464.0,1085.1 466.4,1077.1 468.8,1068.5 471.2,1059.2 473.6,1049.2 476.0,1038.7 478.5,1027.7 480.9,1016.3 483.3,1004.7 485.7,992.8 488.1,981.0 490.5,969.3 492.9,958.0 495.3,947.3 497.7,937.3 500.1,928.4 502.5,920.7 505.0,914.4 507.4,909.8 509.8,906.9 512.2,906.0 514.6,906.9 517.0,909.7 519.4,914.3 521.8,920.5 524.2,928.2 526.6,937.1 529.0,947.0 531.4,957.8 533.9,969.1 536.3,980.7 538.7,992.6 541.1,1004.4 543.5,1016.1 545.9,1027.5 548.3,1038.5 550.7,1049.0 553.1,1059.0 555.5,1068.3 557.9,1076.9 560.3,1084.9 562.8,1092.2 565.2,1098.8 567.6,1104.8 570.0,1110.1 572.4,1114.8 574.8,1119.0 577.2,1122.7 579.6,1125.9 582.0,1128.6 584.4,1131.0 586.8,1133.1 589.3,1134.8 591.7,1136.3 594.1,1137.6 596.5,1138.7 598.9,1139.7 601.3,1140.5 603.7,1141.1 606.1,1141.7 608.5,1142.3 610.9,1142.7 613.3,1143.1 615.7,1143.4 618.2,1143.8 620.6,1144.0 623.0,1144.3 625.4,1144.5 627.8,1144.7 630.2,1144.9 632.6,1145.1 635.0,1145.3 637.4,1145.4 639.8,1145.6 642.2,1145.7 644.7,1145.8 647.1,1146.0 649.5,1146.1 651.9,1146.2 654.3,1146.3 656.7,1146.4 659.1,1146.5 661.5,1146.6 663.9,1146.7 666.3,1146.8 668.7,1146.9 671.1,1146.9 673.6,1147.0 676.0,1147.1 678.4,1147.1 680.8,1147.2 683.2,1147.3 685.6,1147.3 688.0,1147.4 690.4,1147.5 692.8,1147.5 695.2,1147.6 697.6,1147.6 700.0,1147.7 702.5,1147.7 704.9,1147.7 707.3,1147.8 709.7,1147.8 712.1,1147.9 714.5,1147.9 716.9,1147.9 719.3,1148.0 721.7,1148.0 724.1,1148.1 726.5,1148.1 729.0,1148.1 731.4,1148.1 733.8,1148.2 736.2,1148.2 738.6,1148.2 741.0,1148.3 743.4,1148.3 745.8,1148.3 748.2,1148.3 750.6,1148.4 753.0,1148.4 755.4,1148.4 757.9,1148.4 760.3,1148.5 762.7,1148.5 765.1,1148.5 767.5,1148.5 769.9,1148.5 772.3,1148.6 774.7,1148.6 777.1,1148.6 779.5,1148.6 781.9,1148.6 784.3,1148.6 786.8,1148.7 789.2,1148.7 791.6,1148.7 794.0,1148.7 796.4,1148.7 798.8,1148.7 801.2,1148.7 803.6,1148.8 806.0,1148.8 808.4,1148.8 810.8,1148.8 813.3,1148.8 L813.3,1149.6 Z" fill="rgba(128,128,128,0.38)" stroke="none"/>
<polyline points="189.4,1148.9 191.8,1148.9 194.2,1148.9 196.7,1148.9 199.1,1148.9 201.5,1148.8 203.9,1148.8 206.3,1148.8 208.7,1148.8 211.1,1148.8 213.5,1148.8 215.9,1148.8 218.3,1148.8 220.7,1148.8 223.1,1148.7 225.6,1148.7 228.0,1148.7 230.4,1148.7 232.8,1148.7 235.2,1148.7 237.6,1148.7 240.0,1148.6 242.4,1148.6 244.8,1148.6 247.2,1148.6 249.6,1148.6 252.1,1148.6 254.5,1148.5 256.9,1148.5 259.3,1148.5 261.7,1148.5 264.1,1148.5 266.5,1148.4 268.9,1148.4 271.3,1148.4 273.7,1148.4 276.1,1148.3 278.5,1148.3 281.0,1148.3 283.4,1148.3 285.8,1148.2 288.2,1148.2 290.6,1148.2 293.0,1148.1 295.4,1148.1 297.8,1148.1 300.2,1148.1 302.6,1148.0 305.0,1148.0 307.4,1147.9 309.9,1147.9 312.3,1147.9 314.7,1147.8 317.1,1147.8 319.5,1147.7 321.9,1147.7 324.3,1147.7 326.7,1147.6 329.1,1147.6 331.5,1147.5 333.9,1147.5 336.4,1147.4 338.8,1147.3 341.2,1147.3 343.6,1147.2 346.0,1147.1 348.4,1147.1 350.8,1147.0 353.2,1146.9 355.6,1146.9 358.0,1146.8 360.4,1146.7 362.8,1146.6 365.3,1146.5 367.7,1146.4 370.1,1146.3 372.5,1146.2 374.9,1146.1 377.3,1146.0 379.7,1145.8 382.1,1145.7 384.5,1145.6 386.9,1145.4 389.3,1145.3 391.7,1145.1 394.2,1144.9 396.6,1144.7 399.0,1144.5 401.4,1144.3 403.8,1144.0 406.2,1143.8 408.6,1143.4 411.0,1143.1 413.4,1142.7 415.8,1142.3 418.2,1141.8 420.7,1141.2 423.1,1140.5 425.5,1139.7 427.9,1138.7 430.3,1137.6 432.7,1136.4 435.1,1134.9 437.5,1133.1 439.9,1131.1 442.3,1128.7 444.7,1125.9 447.1,1122.7 449.6,1119.1 452.0,1114.9 454.4,1110.2 456.8,1104.9 459.2,1099.0 461.6,1092.3 464.0,1085.1 466.4,1077.1 468.8,1068.5 471.2,1059.2 473.6,1049.2 476.0,1038.7 478.5,1027.7 480.9,1016.3 483.3,1004.7 485.7,992.8 488.1,981.0 490.5,969.3 492.9,958.0 495.3,947.3 497.7,937.3 500.1,928.4 502.5,920.7 505.0,914.4 507.4,909.8 509.8,906.9 512.2,906.0 514.6,906.9 517.0,909.7 519.4,914.3 521.8,920.5 524.2,928.2 526.6,937.1 529.0,947.0 531.4,957.8 533.9,969.1 536.3,980.7 538.7,992.6 541.1,1004.4 543.5,1016.1 545.9,1027.5 548.3,1038.5 550.7,1049.0 553.1,1059.0 555.5,1068.3 557.9,1076.9 560.3,1084.9 562.8,1092.2 565.2,1098.8 567.6,1104.8 570.0,1110.1 572.4,1114.8 574.8,1119.0 577.2,1122.7 579.6,1125.9 582.0,1128.6 584.4,1131.0 586.8,1133.1 589.3,1134.8 591.7,1136.3 594.1,1137.6 596.5,1138.7 598.9,1139.7 601.3,1140.5 603.7,1141.1 606.1,1141.7 608.5,1142.3 610.9,1142.7 613.3,1143.1 615.7,1143.4 618.2,1143.8 620.6,1144.0 623.0,1144.3 625.4,1144.5 627.8,1144.7 630.2,1144.9 632.6,1145.1 635.0,1145.3 637.4,1145.4 639.8,1145.6 642.2,1145.7 644.7,1145.8 647.1,1146.0 649.5,1146.1 651.9,1146.2 654.3,1146.3 656.7,1146.4 659.1,1146.5 661.5,1146.6 663.9,1146.7 666.3,1146.8 668.7,1146.9 671.1,1146.9 673.6,1147.0 676.0,1147.1 678.4,1147.1 680.8,1147.2 683.2,1147.3 685.6,1147.3 688.0,1147.4 690.4,1147.5 692.8,1147.5 695.2,1147.6 697.6,1147.6 700.0,1147.7 702.5,1147.7 704.9,1147.7 707.3,1147.8 709.7,1147.8 712.1,1147.9 714.5,1147.9 716.9,1147.9 719.3,1148.0 721.7,1148.0 724.1,1148.1 726.5,1148.1 729.0,1148.1 731.4,1148.1 733.8,1148.2 736.2,1148.2 738.6,1148.2 741.0,1148.3 743.4,1148.3 745.8,1148.3 748.2,1148.3 750.6,1148.4 753.0,1148.4 755.4,1148.4 757.9,1148.4 760.3,1148.5 762.7,1148.5 765.1,1148.5 767.5,1148.5 769.9,1148.5 772.3,1148.6 774.7,1148.6 777.1,1148.6 779.5,1148.6 781.9,1148.6 784.3,1148.6 786.8,1148.7 789.2,1148.7 791.6,1148.7 794.0,1148.7 796.4,1148.7 798.8,1148.7 801.2,1148.7 803.6,1148.8 806.0,1148.8 808.4,1148.8 810.8,1148.8 813.3,1148.8" fill="none" stroke="#7f7f7f" stroke-width="2.6" stroke-linejoin="round"/>
<path d="M498.6,1149.6 L498.6,1149.1 499.3,1149.0 499.9,1149.0 500.5,1148.9 501.2,1148.9 501.8,1148.9 502.5,1148.8 503.1,1148.8 503.8,1148.7 504.4,1148.6 505.0,1148.6 505.7,1148.5 506.3,1148.4 507.0,1148.4 507.6,1148.3 508.3,1148.2 508.9,1148.1 509.6,1148.0 510.2,1147.9 510.8,1147.8 511.5,1147.7 512.1,1147.6 512.8,1147.5 513.4,1147.3 514.1,1147.2 514.7,1147.0 515.3,1146.9 516.0,1146.7 516.6,1146.6 517.3,1146.4 517.9,1146.2 518.6,1146.0 519.2,1145.8 519.9,1145.6 520.5,1145.4 521.1,1145.2 521.8,1145.0 522.4,1144.7 523.1,1144.5 523.7,1144.2 524.4,1143.9 525.0,1143.6 525.7,1143.3 526.3,1143.0 526.9,1142.7 527.6,1142.4 528.2,1142.0 528.9,1141.7 529.5,1141.3 530.2,1140.9 530.8,1140.6 531.4,1140.2 532.1,1139.7 532.7,1139.3 533.4,1138.9 534.0,1138.4 534.7,1137.9 535.3,1137.5 536.0,1137.0 536.6,1136.5 537.2,1136.0 537.9,1135.4 538.5,1134.9 539.2,1134.3 539.8,1133.8 540.5,1133.2 541.1,1132.6 541.7,1132.0 542.4,1131.4 543.0,1130.7 543.7,1130.1 544.3,1129.4 545.0,1128.8 545.6,1128.1 546.3,1127.4 546.9,1126.8 547.5,1126.1 548.2,1125.4 548.8,1124.7 549.5,1123.9 550.1,1123.2 550.8,1122.5 551.4,1121.8 552.0,1121.0 552.7,1120.3 553.3,1119.6 554.0,1118.8 554.6,1118.1 555.3,1117.3 555.9,1116.6 556.6,1115.8 557.2,1115.1 557.8,1114.4 558.5,1113.6 559.1,1112.9 559.8,1112.2 560.4,1111.5 561.1,1110.8 561.7,1110.1 562.4,1109.4 563.0,1108.7 563.6,1108.1 564.3,1107.4 564.9,1106.8 565.6,1106.1 566.2,1105.5 566.9,1104.9 567.5,1104.4 568.1,1103.8 568.8,1103.3 569.4,1102.8 570.1,1102.3 570.7,1101.8 571.4,1101.3 572.0,1100.9 572.7,1100.5 573.3,1100.1 573.9,1099.8 574.6,1099.4 575.2,1099.1 575.9,1098.8 576.5,1098.6 577.2,1098.3 577.8,1098.1 578.4,1098.0 579.1,1097.8 579.7,1097.7 580.4,1097.6 581.0,1097.6 581.7,1097.5 582.3,1097.5 583.0,1097.6 583.6,1097.6 584.2,1097.7 584.9,1097.8 585.5,1097.9 586.2,1098.1 586.8,1098.3 587.5,1098.5 588.1,1098.8 588.7,1099.1 589.4,1099.4 590.0,1099.7 590.7,1100.1 591.3,1100.4 592.0,1100.8 592.6,1101.3 593.3,1101.7 593.9,1102.2 594.5,1102.7 595.2,1103.2 595.8,1103.7 596.5,1104.3 597.1,1104.9 597.8,1105.5 598.4,1106.1 599.1,1106.7 599.7,1107.3 600.3,1108.0 601.0,1108.6 601.6,1109.3 602.3,1110.0 602.9,1110.7 603.6,1111.4 604.2,1112.1 604.8,1112.8 605.5,1113.5 606.1,1114.3 606.8,1115.0 607.4,1115.7 608.1,1116.5 608.7,1117.2 609.4,1118.0 610.0,1118.7 610.6,1119.4 611.3,1120.2 611.9,1120.9 612.6,1121.7 613.2,1122.4 613.9,1123.1 614.5,1123.8 615.1,1124.6 615.8,1125.3 616.4,1126.0 617.1,1126.7 617.7,1127.4 618.4,1128.0 619.0,1128.7 619.7,1129.4 620.3,1130.0 620.9,1130.6 621.6,1131.3 622.2,1131.9 622.9,1132.5 623.5,1133.1 624.2,1133.7 624.8,1134.2 625.4,1134.8 626.1,1135.3 626.7,1135.9 627.4,1136.4 628.0,1136.9 628.7,1137.4 629.3,1137.9 630.0,1138.4 630.6,1138.8 631.2,1139.3 631.9,1139.7 632.5,1140.1 633.2,1140.5 633.8,1140.9 634.5,1141.3 635.1,1141.6 635.8,1142.0 636.4,1142.3 637.0,1142.7 637.7,1143.0 638.3,1143.3 639.0,1143.6 639.6,1143.9 640.3,1144.2 640.9,1144.4 641.5,1144.7 642.2,1144.9 642.8,1145.2 643.5,1145.4 644.1,1145.6 644.8,1145.8 645.4,1146.0 646.1,1146.2 646.7,1146.4 647.3,1146.6 648.0,1146.7 648.6,1146.9 649.3,1147.0 649.9,1147.2 650.6,1147.3 651.2,1147.4 651.8,1147.6 652.5,1147.7 653.1,1147.8 653.8,1147.9 654.4,1148.0 655.1,1148.1 655.7,1148.2 656.4,1148.3 657.0,1148.3 657.6,1148.4 658.3,1148.5 658.9,1148.6 659.6,1148.6 660.2,1148.7 660.9,1148.7 661.5,1148.8 662.1,1148.8 662.8,1148.9 663.4,1148.9 664.1,1149.0 664.7,1149.0 665.4,1149.1 L665.4,1149.6 Z" fill="rgba(0,0,255,0.38)" stroke="none"/>
<polyline points="498.6,1149.1 499.3,1149.0 499.9,1149.0 500.5,1148.9 501.2,1148.9 501.8,1148.9 502.5,1148.8 503.1,1148.8 503.8,1148.7 504.4,1148.6 505.0,1148.6 505.7,1148.5 506.3,1148.4 507.0,1148.4 507.6,1148.3 508.3,1148.2 508.9,1148.1 509.6,1148.0 510.2,1147.9 510.8,1147.8 511.5,1147.7 512.1,1147.6 512.8,1147.5 513.4,1147.3 514.1,1147.2 514.7,1147.0 515.3,1146.9 516.0,1146.7 516.6,1146.6 517.3,1146.4 517.9,1146.2 518.6,1146.0 519.2,1145.8 519.9,1145.6 520.5,1145.4 521.1,1145.2 521.8,1145.0 522.4,1144.7 523.1,1144.5 523.7,1144.2 524.4,1143.9 525.0,1143.6 525.7,1143.3 526.3,1143.0 526.9,1142.7 527.6,1142.4 528.2,1142.0 528.9,1141.7 529.5,1141.3 530.2,1140.9 530.8,1140.6 531.4,1140.2 532.1,1139.7 532.7,1139.3 533.4,1138.9 534.0,1138.4 534.7,1137.9 535.3,1137.5 536.0,1137.0 536.6,1136.5 537.2,1136.0 537.9,1135.4 538.5,1134.9 539.2,1134.3 539.8,1133.8 540.5,1133.2 541.1,1132.6 541.7,1132.0 542.4,1131.4 543.0,1130.7 543.7,1130.1 544.3,1129.4 545.0,1128.8 545.6,1128.1 546.3,1127.4 546.9,1126.8 547.5,1126.1 548.2,1125.4 548.8,1124.7 549.5,1123.9 550.1,1123.2 550.8,1122.5 551.4,1121.8 552.0,1121.0 552.7,1120.3 553.3,1119.6 554.0,1118.8 554.6,1118.1 555.3,1117.3 555.9,1116.6 556.6,1115.8 557.2,1115.1 557.8,1114.4 558.5,1113.6 559.1,1112.9 559.8,1112.2 560.4,1111.5 561.1,1110.8 561.7,1110.1 562.4,1109.4 563.0,1108.7 563.6,1108.1 564.3,1107.4 564.9,1106.8 565.6,1106.1 566.2,1105.5 566.9,1104.9 567.5,1104.4 568.1,1103.8 568.8,1103.3 569.4,1102.8 570.1,1102.3 570.7,1101.8 571.4,1101.3 572.0,1100.9 572.7,1100.5 573.3,1100.1 573.9,1099.8 574.6,1099.4 575.2,1099.1 575.9,1098.8 576.5,1098.6 577.2,1098.3 577.8,1098.1 578.4,1098.0 579.1,1097.8 579.7,1097.7 580.4,1097.6 581.0,1097.6 581.7,1097.5 582.3,1097.5 583.0,1097.6 583.6,1097.6 584.2,1097.7 584.9,1097.8 585.5,1097.9 586.2,1098.1 586.8,1098.3 587.5,1098.5 588.1,1098.8 588.7,1099.1 589.4,1099.4 590.0,1099.7 590.7,1100.1 591.3,1100.4 592.0,1100.8 592.6,1101.3 593.3,1101.7 593.9,1102.2 594.5,1102.7 595.2,1103.2 595.8,1103.7 596.5,1104.3 597.1,1104.9 597.8,1105.5 598.4,1106.1 599.1,1106.7 599.7,1107.3 600.3,1108.0 601.0,1108.6 601.6,1109.3 602.3,1110.0 602.9,1110.7 603.6,1111.4 604.2,1112.1 604.8,1112.8 605.5,1113.5 606.1,1114.3 606.8,1115.0 607.4,1115.7 608.1,1116.5 608.7,1117.2 609.4,1118.0 610.0,1118.7 610.6,1119.4 611.3,1120.2 611.9,1120.9 612.6,1121.7 613.2,1122.4 613.9,1123.1 614.5,1123.8 615.1,1124.6 615.8,1125.3 616.4,1126.0 617.1,1126.7 617.7,1127.4 618.4,1128.0 619.0,1128.7 619.7,1129.4 620.3,1130.0 620.9,1130.6 621.6,1131.3 622.2,1131.9 622.9,1132.5 623.5,1133.1 624.2,1133.7 624.8,1134.2 625.4,1134.8 626.1,1135.3 626.7,1135.9 627.4,1136.4 628.0,1136.9 628.7,1137.4 629.3,1137.9 630.0,1138.4 630.6,1138.8 631.2,1139.3 631.9,1139.7 632.5,1140.1 633.2,1140.5 633.8,1140.9 634.5,1141.3 635.1,1141.6 635.8,1142.0 636.4,1142.3 637.0,1142.7 637.7,1143.0 638.3,1143.3 639.0,1143.6 639.6,1143.9 640.3,1144.2 640.9,1144.4 641.5,1144.7 642.2,1144.9 642.8,1145.2 643.5,1145.4 644.1,1145.6 644.8,1145.8 645.4,1146.0 646.1,1146.2 646.7,1146.4 647.3,1146.6 648.0,1146.7 648.6,1146.9 649.3,1147.0 649.9,1147.2 650.6,1147.3 651.2,1147.4 651.8,1147.6 652.5,1147.7 653.1,1147.8 653.8,1147.9 654.4,1148.0 655.1,1148.1 655.7,1148.2 656.4,1148.3 657.0,1148.3 657.6,1148.4 658.3,1148.5 658.9,1148.6 659.6,1148.6 660.2,1148.7 660.9,1148.7 661.5,1148.8 662.1,1148.8 662.8,1148.9 663.4,1148.9 664.1,1149.0 664.7,1149.0 665.4,1149.1" fill="none" stroke="#0000ff" stroke-width="2.6" stroke-linejoin="round"/>
<path d="M560.4,1149.6 L560.4,1149.1 560.9,1149.0 561.5,1149.0 562.0,1149.0 562.6,1148.9 563.1,1148.9 563.7,1148.9 564.2,1148.8 564.7,1148.8 565.3,1148.8 565.8,1148.7 566.4,1148.7 566.9,1148.6 567.5,1148.6 568.0,1148.5 568.6,1148.5 569.1,1148.4 569.6,1148.4 570.2,1148.3 570.7,1148.2 571.3,1148.2 571.8,1148.1 572.4,1148.0 572.9,1148.0 573.5,1147.9 574.0,1147.8 574.5,1147.7 575.1,1147.7 575.6,1147.6 576.2,1147.5 576.7,1147.4 577.3,1147.3 577.8,1147.2 578.4,1147.1 578.9,1147.0 579.4,1146.9 580.0,1146.8 580.5,1146.7 581.1,1146.6 581.6,1146.5 582.2,1146.3 582.7,1146.2 583.3,1146.1 583.8,1145.9 584.3,1145.8 584.9,1145.7 585.4,1145.5 586.0,1145.4 586.5,1145.2 587.1,1145.1 587.6,1144.9 588.2,1144.8 588.7,1144.6 589.2,1144.4 589.8,1144.3 590.3,1144.1 590.9,1143.9 591.4,1143.8 592.0,1143.6 592.5,1143.4 593.1,1143.2 593.6,1143.0 594.1,1142.8 594.7,1142.6 595.2,1142.4 595.8,1142.2 596.3,1142.0 596.9,1141.8 597.4,1141.6 598.0,1141.4 598.5,1141.2 599.0,1141.0 599.6,1140.8 600.1,1140.5 600.7,1140.3 601.2,1140.1 601.8,1139.9 602.3,1139.7 602.9,1139.4 603.4,1139.2 603.9,1139.0 604.5,1138.8 605.0,1138.5 605.6,1138.3 606.1,1138.1 606.7,1137.9 607.2,1137.7 607.8,1137.4 608.3,1137.2 608.8,1137.0 609.4,1136.8 609.9,1136.6 610.5,1136.4 611.0,1136.1 611.6,1135.9 612.1,1135.7 612.7,1135.5 613.2,1135.3 613.7,1135.1 614.3,1134.9 614.8,1134.7 615.4,1134.6 615.9,1134.4 616.5,1134.2 617.0,1134.0 617.6,1133.9 618.1,1133.7 618.6,1133.6 619.2,1133.4 619.7,1133.3 620.3,1133.1 620.8,1133.0 621.4,1132.9 621.9,1132.7 622.5,1132.6 623.0,1132.5 623.5,1132.4 624.1,1132.3 624.6,1132.2 625.2,1132.1 625.7,1132.1 626.3,1132.0 626.8,1131.9 627.4,1131.9 627.9,1131.8 628.4,1131.8 629.0,1131.8 629.5,1131.7 630.1,1131.7 630.6,1131.7 631.2,1131.7 631.7,1131.7 632.3,1131.7 632.8,1131.8 633.3,1131.8 633.9,1131.8 634.4,1131.9 635.0,1131.9 635.5,1132.0 636.1,1132.1 636.6,1132.1 637.2,1132.2 637.7,1132.3 638.2,1132.4 638.8,1132.5 639.3,1132.6 639.9,1132.7 640.4,1132.8 641.0,1133.0 641.5,1133.1 642.1,1133.2 642.6,1133.4 643.1,1133.5 643.7,1133.7 644.2,1133.9 644.8,1134.0 645.3,1134.2 645.9,1134.4 646.4,1134.5 647.0,1134.7 647.5,1134.9 648.0,1135.1 648.6,1135.3 649.1,1135.5 649.7,1135.7 650.2,1135.9 650.8,1136.1 651.3,1136.3 651.9,1136.5 652.4,1136.8 652.9,1137.0 653.5,1137.2 654.0,1137.4 654.6,1137.6 655.1,1137.9 655.7,1138.1 656.2,1138.3 656.8,1138.5 657.3,1138.7 657.8,1139.0 658.4,1139.2 658.9,1139.4 659.5,1139.6 660.0,1139.9 660.6,1140.1 661.1,1140.3 661.7,1140.5 662.2,1140.7 662.7,1141.0 663.3,1141.2 663.8,1141.4 664.4,1141.6 664.9,1141.8 665.5,1142.0 666.0,1142.2 666.6,1142.4 667.1,1142.6 667.6,1142.8 668.2,1143.0 668.7,1143.2 669.3,1143.4 669.8,1143.6 670.4,1143.7 670.9,1143.9 671.5,1144.1 672.0,1144.3 672.5,1144.4 673.1,1144.6 673.6,1144.8 674.2,1144.9 674.7,1145.1 675.3,1145.2 675.8,1145.4 676.4,1145.5 676.9,1145.7 677.4,1145.8 678.0,1145.9 678.5,1146.1 679.1,1146.2 679.6,1146.3 680.2,1146.4 680.7,1146.6 681.3,1146.7 681.8,1146.8 682.3,1146.9 682.9,1147.0 683.4,1147.1 684.0,1147.2 684.5,1147.3 685.1,1147.4 685.6,1147.5 686.2,1147.6 686.7,1147.7 687.2,1147.7 687.8,1147.8 688.3,1147.9 688.9,1148.0 689.4,1148.0 690.0,1148.1 690.5,1148.2 691.1,1148.2 691.6,1148.3 692.1,1148.4 692.7,1148.4 693.2,1148.5 693.8,1148.5 694.3,1148.6 694.9,1148.6 695.4,1148.7 696.0,1148.7 696.5,1148.8 697.0,1148.8 697.6,1148.8 698.1,1148.9 698.7,1148.9 699.2,1148.9 699.8,1149.0 700.3,1149.0 700.9,1149.0 701.4,1149.1 L701.4,1149.6 Z" fill="rgba(204,51,255,0.4)" stroke="none"/>
<polyline points="560.4,1149.1 560.9,1149.0 561.5,1149.0 562.0,1149.0 562.6,1148.9 563.1,1148.9 563.7,1148.9 564.2,1148.8 564.7,1148.8 565.3,1148.8 565.8,1148.7 566.4,1148.7 566.9,1148.6 567.5,1148.6 568.0,1148.5 568.6,1148.5 569.1,1148.4 569.6,1148.4 570.2,1148.3 570.7,1148.2 571.3,1148.2 571.8,1148.1 572.4,1148.0 572.9,1148.0 573.5,1147.9 574.0,1147.8 574.5,1147.7 575.1,1147.7 575.6,1147.6 576.2,1147.5 576.7,1147.4 577.3,1147.3 577.8,1147.2 578.4,1147.1 578.9,1147.0 579.4,1146.9 580.0,1146.8 580.5,1146.7 581.1,1146.6 581.6,1146.5 582.2,1146.3 582.7,1146.2 583.3,1146.1 583.8,1145.9 584.3,1145.8 584.9,1145.7 585.4,1145.5 586.0,1145.4 586.5,1145.2 587.1,1145.1 587.6,1144.9 588.2,1144.8 588.7,1144.6 589.2,1144.4 589.8,1144.3 590.3,1144.1 590.9,1143.9 591.4,1143.8 592.0,1143.6 592.5,1143.4 593.1,1143.2 593.6,1143.0 594.1,1142.8 594.7,1142.6 595.2,1142.4 595.8,1142.2 596.3,1142.0 596.9,1141.8 597.4,1141.6 598.0,1141.4 598.5,1141.2 599.0,1141.0 599.6,1140.8 600.1,1140.5 600.7,1140.3 601.2,1140.1 601.8,1139.9 602.3,1139.7 602.9,1139.4 603.4,1139.2 603.9,1139.0 604.5,1138.8 605.0,1138.5 605.6,1138.3 606.1,1138.1 606.7,1137.9 607.2,1137.7 607.8,1137.4 608.3,1137.2 608.8,1137.0 609.4,1136.8 609.9,1136.6 610.5,1136.4 611.0,1136.1 611.6,1135.9 612.1,1135.7 612.7,1135.5 613.2,1135.3 613.7,1135.1 614.3,1134.9 614.8,1134.7 615.4,1134.6 615.9,1134.4 616.5,1134.2 617.0,1134.0 617.6,1133.9 618.1,1133.7 618.6,1133.6 619.2,1133.4 619.7,1133.3 620.3,1133.1 620.8,1133.0 621.4,1132.9 621.9,1132.7 622.5,1132.6 623.0,1132.5 623.5,1132.4 624.1,1132.3 624.6,1132.2 625.2,1132.1 625.7,1132.1 626.3,1132.0 626.8,1131.9 627.4,1131.9 627.9,1131.8 628.4,1131.8 629.0,1131.8 629.5,1131.7 630.1,1131.7 630.6,1131.7 631.2,1131.7 631.7,1131.7 632.3,1131.7 632.8,1131.8 633.3,1131.8 633.9,1131.8 634.4,1131.9 635.0,1131.9 635.5,1132.0 636.1,1132.1 636.6,1132.1 637.2,1132.2 637.7,1132.3 638.2,1132.4 638.8,1132.5 639.3,1132.6 639.9,1132.7 640.4,1132.8 641.0,1133.0 641.5,1133.1 642.1,1133.2 642.6,1133.4 643.1,1133.5 643.7,1133.7 644.2,1133.9 644.8,1134.0 645.3,1134.2 645.9,1134.4 646.4,1134.5 647.0,1134.7 647.5,1134.9 648.0,1135.1 648.6,1135.3 649.1,1135.5 649.7,1135.7 650.2,1135.9 650.8,1136.1 651.3,1136.3 651.9,1136.5 652.4,1136.8 652.9,1137.0 653.5,1137.2 654.0,1137.4 654.6,1137.6 655.1,1137.9 655.7,1138.1 656.2,1138.3 656.8,1138.5 657.3,1138.7 657.8,1139.0 658.4,1139.2 658.9,1139.4 659.5,1139.6 660.0,1139.9 660.6,1140.1 661.1,1140.3 661.7,1140.5 662.2,1140.7 662.7,1141.0 663.3,1141.2 663.8,1141.4 664.4,1141.6 664.9,1141.8 665.5,1142.0 666.0,1142.2 666.6,1142.4 667.1,1142.6 667.6,1142.8 668.2,1143.0 668.7,1143.2 669.3,1143.4 669.8,1143.6 670.4,1143.7 670.9,1143.9 671.5,1144.1 672.0,1144.3 672.5,1144.4 673.1,1144.6 673.6,1144.8 674.2,1144.9 674.7,1145.1 675.3,1145.2 675.8,1145.4 676.4,1145.5 676.9,1145.7 677.4,1145.8 678.0,1145.9 678.5,1146.1 679.1,1146.2 679.6,1146.3 680.2,1146.4 680.7,1146.6 681.3,1146.7 681.8,1146.8 682.3,1146.9 682.9,1147.0 683.4,1147.1 684.0,1147.2 684.5,1147.3 685.1,1147.4 685.6,1147.5 686.2,1147.6 686.7,1147.7 687.2,1147.7 687.8,1147.8 688.3,1147.9 688.9,1148.0 689.4,1148.0 690.0,1148.1 690.5,1148.2 691.1,1148.2 691.6,1148.3 692.1,1148.4 692.7,1148.4 693.2,1148.5 693.8,1148.5 694.3,1148.6 694.9,1148.6 695.4,1148.7 696.0,1148.7 696.5,1148.8 697.0,1148.8 697.6,1148.8 698.1,1148.9 698.7,1148.9 699.2,1148.9 699.8,1149.0 700.3,1149.0 700.9,1149.0 701.4,1149.1" fill="none" stroke="#c824f0" stroke-width="2.6" stroke-linejoin="round"/>
<path d="M189.4,1149.6 L189.4,1149.6 191.8,1149.6 194.2,1149.6 196.7,1149.6 199.1,1149.6 201.5,1149.6 203.9,1149.6 206.3,1149.6 208.7,1149.6 211.1,1149.6 213.5,1149.6 215.9,1149.6 218.3,1149.6 220.7,1149.6 223.1,1149.6 225.6,1149.6 228.0,1149.6 230.4,1149.6 232.8,1149.6 235.2,1149.6 237.6,1149.6 240.0,1149.6 242.4,1149.6 244.8,1149.6 247.2,1149.6 249.6,1149.6 252.1,1149.6 254.5,1149.6 256.9,1149.6 259.3,1149.6 261.7,1149.6 264.1,1149.6 266.5,1149.6 268.9,1149.6 271.3,1149.6 273.7,1149.6 276.1,1149.6 278.5,1149.6 281.0,1149.6 283.4,1149.6 285.8,1149.6 288.2,1149.6 290.6,1149.6 293.0,1149.6 295.4,1149.6 297.8,1149.6 300.2,1149.6 302.6,1149.6 305.0,1149.6 307.4,1149.6 309.9,1149.6 312.3,1149.6 314.7,1149.6 317.1,1149.6 319.5,1149.6 321.9,1149.6 324.3,1149.6 326.7,1149.6 329.1,1149.6 331.5,1149.5 333.9,1149.5 336.4,1149.5 338.8,1149.5 341.2,1149.5 343.6,1149.5 346.0,1149.5 348.4,1149.5 350.8,1149.4 353.2,1149.4 355.6,1149.3 358.0,1149.3 360.4,1149.2 362.8,1149.1 365.3,1149.0 367.7,1148.9 370.1,1148.7 372.5,1148.5 374.9,1148.2 377.3,1148.0 379.7,1147.7 382.1,1147.3 384.5,1146.9 386.9,1146.4 389.3,1145.9 391.7,1145.4 394.2,1144.8 396.6,1144.2 399.0,1143.6 401.4,1142.9 403.8,1142.2 406.2,1141.5 408.6,1140.8 411.0,1140.2 413.4,1139.6 415.8,1139.0 418.2,1138.5 420.7,1138.0 423.1,1137.7 425.5,1137.4 427.9,1137.2 430.3,1137.2 432.7,1137.2 435.1,1137.3 437.5,1137.6 439.9,1137.9 442.3,1138.3 444.7,1138.8 447.1,1139.4 449.6,1140.0 452.0,1140.6 454.4,1141.3 456.8,1142.0 459.2,1142.6 461.6,1143.3 464.0,1144.0 466.4,1144.6 468.8,1145.2 471.2,1145.8 473.6,1146.3 476.0,1146.7 478.5,1147.2 480.9,1147.5 483.3,1147.9 485.7,1148.1 488.1,1148.4 490.5,1148.6 492.9,1148.8 495.3,1148.9 497.7,1149.1 500.1,1149.2 502.5,1149.3 505.0,1149.3 507.4,1149.4 509.8,1149.4 512.2,1149.5 514.6,1149.5 517.0,1149.5 519.4,1149.5 521.8,1149.5 524.2,1149.5 526.6,1149.5 529.0,1149.5 531.4,1149.6 533.9,1149.6 536.3,1149.6 538.7,1149.6 541.1,1149.6 543.5,1149.6 545.9,1149.6 548.3,1149.6 550.7,1149.6 553.1,1149.6 555.5,1149.6 557.9,1149.6 560.3,1149.6 562.8,1149.6 565.2,1149.6 567.6,1149.6 570.0,1149.6 572.4,1149.6 574.8,1149.6 577.2,1149.6 579.6,1149.6 582.0,1149.6 584.4,1149.6 586.8,1149.6 589.3,1149.6 591.7,1149.6 594.1,1149.6 596.5,1149.6 598.9,1149.6 601.3,1149.6 603.7,1149.6 606.1,1149.6 608.5,1149.6 610.9,1149.6 613.3,1149.6 615.7,1149.6 618.2,1149.6 620.6,1149.6 623.0,1149.6 625.4,1149.6 627.8,1149.6 630.2,1149.6 632.6,1149.6 635.0,1149.6 637.4,1149.6 639.8,1149.6 642.2,1149.6 644.7,1149.6 647.1,1149.6 649.5,1149.6 651.9,1149.6 654.3,1149.6 656.7,1149.6 659.1,1149.6 661.5,1149.6 663.9,1149.6 666.3,1149.6 668.7,1149.6 671.1,1149.6 673.6,1149.6 676.0,1149.6 678.4,1149.6 680.8,1149.6 683.2,1149.6 685.6,1149.6 688.0,1149.6 690.4,1149.6 692.8,1149.6 695.2,1149.6 697.6,1149.6 700.0,1149.6 702.5,1149.6 704.9,1149.6 707.3,1149.6 709.7,1149.6 712.1,1149.6 714.5,1149.6 716.9,1149.6 719.3,1149.6 721.7,1149.6 724.1,1149.6 726.5,1149.6 729.0,1149.6 731.4,1149.6 733.8,1149.6 736.2,1149.6 738.6,1149.6 741.0,1149.6 743.4,1149.6 745.8,1149.6 748.2,1149.6 750.6,1149.6 753.0,1149.6 755.4,1149.6 757.9,1149.6 760.3,1149.6 762.7,1149.6 765.1,1149.6 767.5,1149.6 769.9,1149.6 772.3,1149.6 774.7,1149.6 777.1,1149.6 779.5,1149.6 781.9,1149.6 784.3,1149.6 786.8,1149.6 789.2,1149.6 791.6,1149.6 794.0,1149.6 796.4,1149.6 798.8,1149.6 801.2,1149.6 803.6,1149.6 806.0,1149.6 808.4,1149.6 810.8,1149.6 813.3,1149.6 L813.3,1149.6 Z" fill="rgba(10,128,96,0.45)" stroke="none"/>
<polyline points="189.4,1149.6 191.8,1149.6 194.2,1149.6 196.7,1149.6 199.1,1149.6 201.5,1149.6 203.9,1149.6 206.3,1149.6 208.7,1149.6 211.1,1149.6 213.5,1149.6 215.9,1149.6 218.3,1149.6 220.7,1149.6 223.1,1149.6 225.6,1149.6 228.0,1149.6 230.4,1149.6 232.8,1149.6 235.2,1149.6 237.6,1149.6 240.0,1149.6 242.4,1149.6 244.8,1149.6 247.2,1149.6 249.6,1149.6 252.1,1149.6 254.5,1149.6 256.9,1149.6 259.3,1149.6 261.7,1149.6 264.1,1149.6 266.5,1149.6 268.9,1149.6 271.3,1149.6 273.7,1149.6 276.1,1149.6 278.5,1149.6 281.0,1149.6 283.4,1149.6 285.8,1149.6 288.2,1149.6 290.6,1149.6 293.0,1149.6 295.4,1149.6 297.8,1149.6 300.2,1149.6 302.6,1149.6 305.0,1149.6 307.4,1149.6 309.9,1149.6 312.3,1149.6 314.7,1149.6 317.1,1149.6 319.5,1149.6 321.9,1149.6 324.3,1149.6 326.7,1149.6 329.1,1149.6 331.5,1149.5 333.9,1149.5 336.4,1149.5 338.8,1149.5 341.2,1149.5 343.6,1149.5 346.0,1149.5 348.4,1149.5 350.8,1149.4 353.2,1149.4 355.6,1149.3 358.0,1149.3 360.4,1149.2 362.8,1149.1 365.3,1149.0 367.7,1148.9 370.1,1148.7 372.5,1148.5 374.9,1148.2 377.3,1148.0 379.7,1147.7 382.1,1147.3 384.5,1146.9 386.9,1146.4 389.3,1145.9 391.7,1145.4 394.2,1144.8 396.6,1144.2 399.0,1143.6 401.4,1142.9 403.8,1142.2 406.2,1141.5 408.6,1140.8 411.0,1140.2 413.4,1139.6 415.8,1139.0 418.2,1138.5 420.7,1138.0 423.1,1137.7 425.5,1137.4 427.9,1137.2 430.3,1137.2 432.7,1137.2 435.1,1137.3 437.5,1137.6 439.9,1137.9 442.3,1138.3 444.7,1138.8 447.1,1139.4 449.6,1140.0 452.0,1140.6 454.4,1141.3 456.8,1142.0 459.2,1142.6 461.6,1143.3 464.0,1144.0 466.4,1144.6 468.8,1145.2 471.2,1145.8 473.6,1146.3 476.0,1146.7 478.5,1147.2 480.9,1147.5 483.3,1147.9 485.7,1148.1 488.1,1148.4 490.5,1148.6 492.9,1148.8 495.3,1148.9 497.7,1149.1 500.1,1149.2 502.5,1149.3 505.0,1149.3 507.4,1149.4 509.8,1149.4 512.2,1149.5 514.6,1149.5 517.0,1149.5 519.4,1149.5 521.8,1149.5 524.2,1149.5 526.6,1149.5 529.0,1149.5 531.4,1149.6 533.9,1149.6 536.3,1149.6 538.7,1149.6 541.1,1149.6 543.5,1149.6 545.9,1149.6 548.3,1149.6 550.7,1149.6 553.1,1149.6 555.5,1149.6 557.9,1149.6 560.3,1149.6 562.8,1149.6 565.2,1149.6 567.6,1149.6 570.0,1149.6 572.4,1149.6 574.8,1149.6 577.2,1149.6 579.6,1149.6 582.0,1149.6 584.4,1149.6 586.8,1149.6 589.3,1149.6 591.7,1149.6 594.1,1149.6 596.5,1149.6 598.9,1149.6 601.3,1149.6 603.7,1149.6 606.1,1149.6 608.5,1149.6 610.9,1149.6 613.3,1149.6 615.7,1149.6 618.2,1149.6 620.6,1149.6 623.0,1149.6 625.4,1149.6 627.8,1149.6 630.2,1149.6 632.6,1149.6 635.0,1149.6 637.4,1149.6 639.8,1149.6 642.2,1149.6 644.7,1149.6 647.1,1149.6 649.5,1149.6 651.9,1149.6 654.3,1149.6 656.7,1149.6 659.1,1149.6 661.5,1149.6 663.9,1149.6 666.3,1149.6 668.7,1149.6 671.1,1149.6 673.6,1149.6 676.0,1149.6 678.4,1149.6 680.8,1149.6 683.2,1149.6 685.6,1149.6 688.0,1149.6 690.4,1149.6 692.8,1149.6 695.2,1149.6 697.6,1149.6 700.0,1149.6 702.5,1149.6 704.9,1149.6 707.3,1149.6 709.7,1149.6 712.1,1149.6 714.5,1149.6 716.9,1149.6 719.3,1149.6 721.7,1149.6 724.1,1149.6 726.5,1149.6 729.0,1149.6 731.4,1149.6 733.8,1149.6 736.2,1149.6 738.6,1149.6 741.0,1149.6 743.4,1149.6 745.8,1149.6 748.2,1149.6 750.6,1149.6 753.0,1149.6 755.4,1149.6 757.9,1149.6 760.3,1149.6 762.7,1149.6 765.1,1149.6 767.5,1149.6 769.9,1149.6 772.3,1149.6 774.7,1149.6 777.1,1149.6 779.5,1149.6 781.9,1149.6 784.3,1149.6 786.8,1149.6 789.2,1149.6 791.6,1149.6 794.0,1149.6 796.4,1149.6 798.8,1149.6 801.2,1149.6 803.6,1149.6 806.0,1149.6 808.4,1149.6 810.8,1149.6 813.3,1149.6" fill="none" stroke="#0a8060" stroke-width="2.6" stroke-linejoin="round"/>
<path d="M198.0,1471.7 L198.0,1471.0 200.3,1471.0 202.7,1471.0 205.1,1471.0 207.5,1471.0 209.8,1471.0 212.2,1470.9 214.6,1470.9 217.0,1470.9 219.3,1470.9 221.7,1470.9 224.1,1470.9 226.5,1470.9 228.8,1470.9 231.2,1470.8 233.6,1470.8 236.0,1470.8 238.3,1470.8 240.7,1470.8 243.1,1470.8 245.5,1470.7 247.9,1470.7 250.2,1470.7 252.6,1470.7 255.0,1470.7 257.4,1470.7 259.7,1470.6 262.1,1470.6 264.5,1470.6 266.9,1470.6 269.2,1470.6 271.6,1470.5 274.0,1470.5 276.4,1470.5 278.7,1470.5 281.1,1470.4 283.5,1470.4 285.9,1470.4 288.2,1470.4 290.6,1470.3 293.0,1470.3 295.4,1470.3 297.7,1470.2 300.1,1470.2 302.5,1470.2 304.9,1470.1 307.2,1470.1 309.6,1470.1 312.0,1470.0 314.4,1470.0 316.7,1469.9 319.1,1469.9 321.5,1469.9 323.9,1469.8 326.2,1469.8 328.6,1469.7 331.0,1469.7 333.4,1469.6 335.7,1469.6 338.1,1469.5 340.5,1469.4 342.9,1469.4 345.3,1469.3 347.6,1469.3 350.0,1469.2 352.4,1469.1 354.8,1469.0 357.1,1469.0 359.5,1468.9 361.9,1468.8 364.3,1468.7 366.6,1468.6 369.0,1468.5 371.4,1468.4 373.8,1468.3 376.1,1468.2 378.5,1468.1 380.9,1467.9 383.3,1467.8 385.6,1467.7 388.0,1467.5 390.4,1467.4 392.8,1467.2 395.1,1467.0 397.5,1466.8 399.9,1466.6 402.3,1466.4 404.6,1466.1 407.0,1465.8 409.4,1465.5 411.8,1465.2 414.1,1464.8 416.5,1464.3 418.9,1463.8 421.3,1463.2 423.6,1462.5 426.0,1461.7 428.4,1460.7 430.8,1459.6 433.1,1458.3 435.5,1456.8 437.9,1455.0 440.3,1453.0 442.7,1450.6 445.0,1447.8 447.4,1444.7 449.8,1441.1 452.2,1436.9 454.5,1432.3 456.9,1427.0 459.3,1421.2 461.7,1414.7 464.0,1407.5 466.4,1399.7 468.8,1391.2 471.2,1382.1 473.5,1372.4 475.9,1362.2 478.3,1351.4 480.7,1340.3 483.0,1328.8 485.4,1317.2 487.8,1305.6 490.2,1294.1 492.5,1283.0 494.9,1272.4 497.3,1262.5 499.7,1253.5 502.0,1245.7 504.4,1239.2 506.8,1234.3 509.2,1231.1 511.5,1229.7 513.9,1230.1 516.3,1232.3 518.7,1236.3 521.0,1241.9 523.4,1249.0 525.8,1257.4 528.2,1266.8 530.6,1277.0 532.9,1287.9 535.3,1299.2 537.7,1310.8 540.1,1322.4 542.4,1334.0 544.8,1345.3 547.2,1356.3 549.6,1366.8 551.9,1376.8 554.3,1386.3 556.7,1395.1 559.1,1403.3 561.4,1410.8 563.8,1417.7 566.2,1423.9 568.6,1429.4 570.9,1434.4 573.3,1438.8 575.7,1442.7 578.1,1446.1 580.4,1449.1 582.8,1451.7 585.2,1453.9 587.6,1455.9 589.9,1457.5 592.3,1458.9 594.7,1460.1 597.1,1461.2 599.4,1462.1 601.8,1462.8 604.2,1463.5 606.6,1464.0 608.9,1464.5 611.3,1465.0 613.7,1465.3 616.1,1465.7 618.4,1466.0 620.8,1466.2 623.2,1466.5 625.6,1466.7 628.0,1466.9 630.3,1467.1 632.7,1467.3 635.1,1467.4 637.5,1467.6 639.8,1467.7 642.2,1467.9 644.6,1468.0 647.0,1468.1 649.3,1468.2 651.7,1468.4 654.1,1468.5 656.5,1468.6 658.8,1468.7 661.2,1468.7 663.6,1468.8 666.0,1468.9 668.3,1469.0 670.7,1469.1 673.1,1469.1 675.5,1469.2 677.8,1469.3 680.2,1469.4 682.6,1469.4 685.0,1469.5 687.3,1469.5 689.7,1469.6 692.1,1469.6 694.5,1469.7 696.8,1469.7 699.2,1469.8 701.6,1469.8 704.0,1469.9 706.3,1469.9 708.7,1470.0 711.1,1470.0 713.5,1470.0 715.9,1470.1 718.2,1470.1 720.6,1470.2 723.0,1470.2 725.4,1470.2 727.7,1470.3 730.1,1470.3 732.5,1470.3 734.9,1470.3 737.2,1470.4 739.6,1470.4 742.0,1470.4 744.4,1470.4 746.7,1470.5 749.1,1470.5 751.5,1470.5 753.9,1470.5 756.2,1470.6 758.6,1470.6 761.0,1470.6 763.4,1470.6 765.7,1470.6 768.1,1470.7 770.5,1470.7 772.9,1470.7 775.2,1470.7 777.6,1470.7 780.0,1470.8 782.4,1470.8 784.7,1470.8 787.1,1470.8 789.5,1470.8 791.9,1470.8 794.2,1470.8 796.6,1470.9 799.0,1470.9 801.4,1470.9 803.7,1470.9 806.1,1470.9 808.5,1470.9 810.9,1470.9 813.3,1470.9 L813.3,1471.7 Z" fill="rgba(128,128,128,0.38)" stroke="none"/>
<polyline points="198.0,1471.0 200.3,1471.0 202.7,1471.0 205.1,1471.0 207.5,1471.0 209.8,1471.0 212.2,1470.9 214.6,1470.9 217.0,1470.9 219.3,1470.9 221.7,1470.9 224.1,1470.9 226.5,1470.9 228.8,1470.9 231.2,1470.8 233.6,1470.8 236.0,1470.8 238.3,1470.8 240.7,1470.8 243.1,1470.8 245.5,1470.7 247.9,1470.7 250.2,1470.7 252.6,1470.7 255.0,1470.7 257.4,1470.7 259.7,1470.6 262.1,1470.6 264.5,1470.6 266.9,1470.6 269.2,1470.6 271.6,1470.5 274.0,1470.5 276.4,1470.5 278.7,1470.5 281.1,1470.4 283.5,1470.4 285.9,1470.4 288.2,1470.4 290.6,1470.3 293.0,1470.3 295.4,1470.3 297.7,1470.2 300.1,1470.2 302.5,1470.2 304.9,1470.1 307.2,1470.1 309.6,1470.1 312.0,1470.0 314.4,1470.0 316.7,1469.9 319.1,1469.9 321.5,1469.9 323.9,1469.8 326.2,1469.8 328.6,1469.7 331.0,1469.7 333.4,1469.6 335.7,1469.6 338.1,1469.5 340.5,1469.4 342.9,1469.4 345.3,1469.3 347.6,1469.3 350.0,1469.2 352.4,1469.1 354.8,1469.0 357.1,1469.0 359.5,1468.9 361.9,1468.8 364.3,1468.7 366.6,1468.6 369.0,1468.5 371.4,1468.4 373.8,1468.3 376.1,1468.2 378.5,1468.1 380.9,1467.9 383.3,1467.8 385.6,1467.7 388.0,1467.5 390.4,1467.4 392.8,1467.2 395.1,1467.0 397.5,1466.8 399.9,1466.6 402.3,1466.4 404.6,1466.1 407.0,1465.8 409.4,1465.5 411.8,1465.2 414.1,1464.8 416.5,1464.3 418.9,1463.8 421.3,1463.2 423.6,1462.5 426.0,1461.7 428.4,1460.7 430.8,1459.6 433.1,1458.3 435.5,1456.8 437.9,1455.0 440.3,1453.0 442.7,1450.6 445.0,1447.8 447.4,1444.7 449.8,1441.1 452.2,1436.9 454.5,1432.3 456.9,1427.0 459.3,1421.2 461.7,1414.7 464.0,1407.5 466.4,1399.7 468.8,1391.2 471.2,1382.1 473.5,1372.4 475.9,1362.2 478.3,1351.4 480.7,1340.3 483.0,1328.8 485.4,1317.2 487.8,1305.6 490.2,1294.1 492.5,1283.0 494.9,1272.4 497.3,1262.5 499.7,1253.5 502.0,1245.7 504.4,1239.2 506.8,1234.3 509.2,1231.1 511.5,1229.7 513.9,1230.1 516.3,1232.3 518.7,1236.3 521.0,1241.9 523.4,1249.0 525.8,1257.4 528.2,1266.8 530.6,1277.0 532.9,1287.9 535.3,1299.2 537.7,1310.8 540.1,1322.4 542.4,1334.0 544.8,1345.3 547.2,1356.3 549.6,1366.8 551.9,1376.8 554.3,1386.3 556.7,1395.1 559.1,1403.3 561.4,1410.8 563.8,1417.7 566.2,1423.9 568.6,1429.4 570.9,1434.4 573.3,1438.8 575.7,1442.7 578.1,1446.1 580.4,1449.1 582.8,1451.7 585.2,1453.9 587.6,1455.9 589.9,1457.5 592.3,1458.9 594.7,1460.1 597.1,1461.2 599.4,1462.1 601.8,1462.8 604.2,1463.5 606.6,1464.0 608.9,1464.5 611.3,1465.0 613.7,1465.3 616.1,1465.7 618.4,1466.0 620.8,1466.2 623.2,1466.5 625.6,1466.7 628.0,1466.9 630.3,1467.1 632.7,1467.3 635.1,1467.4 637.5,1467.6 639.8,1467.7 642.2,1467.9 644.6,1468.0 647.0,1468.1 649.3,1468.2 651.7,1468.4 654.1,1468.5 656.5,1468.6 658.8,1468.7 661.2,1468.7 663.6,1468.8 666.0,1468.9 668.3,1469.0 670.7,1469.1 673.1,1469.1 675.5,1469.2 677.8,1469.3 680.2,1469.4 682.6,1469.4 685.0,1469.5 687.3,1469.5 689.7,1469.6 692.1,1469.6 694.5,1469.7 696.8,1469.7 699.2,1469.8 701.6,1469.8 704.0,1469.9 706.3,1469.9 708.7,1470.0 711.1,1470.0 713.5,1470.0 715.9,1470.1 718.2,1470.1 720.6,1470.2 723.0,1470.2 725.4,1470.2 727.7,1470.3 730.1,1470.3 732.5,1470.3 734.9,1470.3 737.2,1470.4 739.6,1470.4 742.0,1470.4 744.4,1470.4 746.7,1470.5 749.1,1470.5 751.5,1470.5 753.9,1470.5 756.2,1470.6 758.6,1470.6 761.0,1470.6 763.4,1470.6 765.7,1470.6 768.1,1470.7 770.5,1470.7 772.9,1470.7 775.2,1470.7 777.6,1470.7 780.0,1470.8 782.4,1470.8 784.7,1470.8 787.1,1470.8 789.5,1470.8 791.9,1470.8 794.2,1470.8 796.6,1470.9 799.0,1470.9 801.4,1470.9 803.7,1470.9 806.1,1470.9 808.5,1470.9 810.9,1470.9 813.3,1470.9" fill="none" stroke="#7f7f7f" stroke-width="2.6" stroke-linejoin="round"/>
<path d="M498.1,1471.7 L498.1,1471.2 498.8,1471.2 499.4,1471.1 500.1,1471.1 500.7,1471.0 501.4,1471.0 502.0,1470.9 502.7,1470.9 503.3,1470.8 504.0,1470.8 504.6,1470.7 505.3,1470.6 505.9,1470.6 506.6,1470.5 507.2,1470.4 507.9,1470.3 508.5,1470.2 509.2,1470.1 509.8,1470.0 510.4,1469.9 511.1,1469.8 511.7,1469.7 512.4,1469.6 513.0,1469.4 513.7,1469.3 514.3,1469.1 515.0,1469.0 515.6,1468.8 516.3,1468.7 516.9,1468.5 517.6,1468.3 518.2,1468.1 518.9,1467.9 519.5,1467.7 520.2,1467.5 520.8,1467.2 521.5,1467.0 522.1,1466.7 522.8,1466.5 523.4,1466.2 524.0,1465.9 524.7,1465.6 525.3,1465.3 526.0,1465.0 526.6,1464.7 527.3,1464.3 527.9,1464.0 528.6,1463.6 529.2,1463.2 529.9,1462.8 530.5,1462.4 531.2,1462.0 531.8,1461.6 532.5,1461.1 533.1,1460.6 533.8,1460.2 534.4,1459.7 535.1,1459.2 535.7,1458.7 536.3,1458.1 537.0,1457.6 537.6,1457.0 538.3,1456.5 538.9,1455.9 539.6,1455.3 540.2,1454.7 540.9,1454.0 541.5,1453.4 542.2,1452.8 542.8,1452.1 543.5,1451.4 544.1,1450.8 544.8,1450.1 545.4,1449.4 546.1,1448.6 546.7,1447.9 547.4,1447.2 548.0,1446.4 548.7,1445.7 549.3,1444.9 549.9,1444.2 550.6,1443.4 551.2,1442.6 551.9,1441.9 552.5,1441.1 553.2,1440.3 553.8,1439.5 554.5,1438.7 555.1,1437.9 555.8,1437.2 556.4,1436.4 557.1,1435.6 557.7,1434.8 558.4,1434.0 559.0,1433.3 559.7,1432.5 560.3,1431.8 561.0,1431.0 561.6,1430.3 562.2,1429.5 562.9,1428.8 563.5,1428.1 564.2,1427.4 564.8,1426.8 565.5,1426.1 566.1,1425.5 566.8,1424.8 567.4,1424.2 568.1,1423.6 568.7,1423.1 569.4,1422.5 570.0,1422.0 570.7,1421.5 571.3,1421.0 572.0,1420.5 572.6,1420.1 573.3,1419.7 573.9,1419.3 574.6,1418.9 575.2,1418.6 575.8,1418.3 576.5,1418.0 577.1,1417.8 577.8,1417.6 578.4,1417.4 579.1,1417.3 579.7,1417.1 580.4,1417.0 581.0,1417.0 581.7,1416.9 582.3,1416.9 583.0,1417.0 583.6,1417.0 584.3,1417.1 584.9,1417.2 585.6,1417.4 586.2,1417.6 586.9,1417.8 587.5,1418.0 588.1,1418.3 588.8,1418.6 589.4,1418.9 590.1,1419.3 590.7,1419.6 591.4,1420.0 592.0,1420.5 592.7,1420.9 593.3,1421.4 594.0,1421.9 594.6,1422.4 595.3,1423.0 595.9,1423.6 596.6,1424.1 597.2,1424.8 597.9,1425.4 598.5,1426.0 599.2,1426.7 599.8,1427.4 600.5,1428.1 601.1,1428.8 601.7,1429.5 602.4,1430.2 603.0,1430.9 603.7,1431.7 604.3,1432.4 605.0,1433.2 605.6,1434.0 606.3,1434.7 606.9,1435.5 607.6,1436.3 608.2,1437.1 608.9,1437.9 609.5,1438.7 610.2,1439.4 610.8,1440.2 611.5,1441.0 612.1,1441.8 612.8,1442.6 613.4,1443.3 614.1,1444.1 614.7,1444.9 615.3,1445.6 616.0,1446.4 616.6,1447.1 617.3,1447.8 617.9,1448.6 618.6,1449.3 619.2,1450.0 619.9,1450.7 620.5,1451.4 621.2,1452.0 621.8,1452.7 622.5,1453.3 623.1,1454.0 623.8,1454.6 624.4,1455.2 625.1,1455.8 625.7,1456.4 626.4,1457.0 627.0,1457.5 627.6,1458.1 628.3,1458.6 628.9,1459.1 629.6,1459.6 630.2,1460.1 630.9,1460.6 631.5,1461.1 632.2,1461.5 632.8,1461.9 633.5,1462.4 634.1,1462.8 634.8,1463.2 635.4,1463.6 636.1,1463.9 636.7,1464.3 637.4,1464.6 638.0,1465.0 638.7,1465.3 639.3,1465.6 640.0,1465.9 640.6,1466.2 641.2,1466.4 641.9,1466.7 642.5,1467.0 643.2,1467.2 643.8,1467.4 644.5,1467.7 645.1,1467.9 645.8,1468.1 646.4,1468.3 647.1,1468.5 647.7,1468.6 648.4,1468.8 649.0,1469.0 649.7,1469.1 650.3,1469.3 651.0,1469.4 651.6,1469.5 652.3,1469.7 652.9,1469.8 653.5,1469.9 654.2,1470.0 654.8,1470.1 655.5,1470.2 656.1,1470.3 656.8,1470.4 657.4,1470.5 658.1,1470.6 658.7,1470.6 659.4,1470.7 660.0,1470.8 660.7,1470.8 661.3,1470.9 662.0,1470.9 662.6,1471.0 663.3,1471.0 663.9,1471.1 664.6,1471.1 665.2,1471.2 665.9,1471.2 L665.9,1471.7 Z" fill="rgba(0,0,255,0.38)" stroke="none"/>
<polyline points="498.1,1471.2 498.8,1471.2 499.4,1471.1 500.1,1471.1 500.7,1471.0 501.4,1471.0 502.0,1470.9 502.7,1470.9 503.3,1470.8 504.0,1470.8 504.6,1470.7 505.3,1470.6 505.9,1470.6 506.6,1470.5 507.2,1470.4 507.9,1470.3 508.5,1470.2 509.2,1470.1 509.8,1470.0 510.4,1469.9 511.1,1469.8 511.7,1469.7 512.4,1469.6 513.0,1469.4 513.7,1469.3 514.3,1469.1 515.0,1469.0 515.6,1468.8 516.3,1468.7 516.9,1468.5 517.6,1468.3 518.2,1468.1 518.9,1467.9 519.5,1467.7 520.2,1467.5 520.8,1467.2 521.5,1467.0 522.1,1466.7 522.8,1466.5 523.4,1466.2 524.0,1465.9 524.7,1465.6 525.3,1465.3 526.0,1465.0 526.6,1464.7 527.3,1464.3 527.9,1464.0 528.6,1463.6 529.2,1463.2 529.9,1462.8 530.5,1462.4 531.2,1462.0 531.8,1461.6 532.5,1461.1 533.1,1460.6 533.8,1460.2 534.4,1459.7 535.1,1459.2 535.7,1458.7 536.3,1458.1 537.0,1457.6 537.6,1457.0 538.3,1456.5 538.9,1455.9 539.6,1455.3 540.2,1454.7 540.9,1454.0 541.5,1453.4 542.2,1452.8 542.8,1452.1 543.5,1451.4 544.1,1450.8 544.8,1450.1 545.4,1449.4 546.1,1448.6 546.7,1447.9 547.4,1447.2 548.0,1446.4 548.7,1445.7 549.3,1444.9 549.9,1444.2 550.6,1443.4 551.2,1442.6 551.9,1441.9 552.5,1441.1 553.2,1440.3 553.8,1439.5 554.5,1438.7 555.1,1437.9 555.8,1437.2 556.4,1436.4 557.1,1435.6 557.7,1434.8 558.4,1434.0 559.0,1433.3 559.7,1432.5 560.3,1431.8 561.0,1431.0 561.6,1430.3 562.2,1429.5 562.9,1428.8 563.5,1428.1 564.2,1427.4 564.8,1426.8 565.5,1426.1 566.1,1425.5 566.8,1424.8 567.4,1424.2 568.1,1423.6 568.7,1423.1 569.4,1422.5 570.0,1422.0 570.7,1421.5 571.3,1421.0 572.0,1420.5 572.6,1420.1 573.3,1419.7 573.9,1419.3 574.6,1418.9 575.2,1418.6 575.8,1418.3 576.5,1418.0 577.1,1417.8 577.8,1417.6 578.4,1417.4 579.1,1417.3 579.7,1417.1 580.4,1417.0 581.0,1417.0 581.7,1416.9 582.3,1416.9 583.0,1417.0 583.6,1417.0 584.3,1417.1 584.9,1417.2 585.6,1417.4 586.2,1417.6 586.9,1417.8 587.5,1418.0 588.1,1418.3 588.8,1418.6 589.4,1418.9 590.1,1419.3 590.7,1419.6 591.4,1420.0 592.0,1420.5 592.7,1420.9 593.3,1421.4 594.0,1421.9 594.6,1422.4 595.3,1423.0 595.9,1423.6 596.6,1424.1 597.2,1424.8 597.9,1425.4 598.5,1426.0 599.2,1426.7 599.8,1427.4 600.5,1428.1 601.1,1428.8 601.7,1429.5 602.4,1430.2 603.0,1430.9 603.7,1431.7 604.3,1432.4 605.0,1433.2 605.6,1434.0 606.3,1434.7 606.9,1435.5 607.6,1436.3 608.2,1437.1 608.9,1437.9 609.5,1438.7 610.2,1439.4 610.8,1440.2 611.5,1441.0 612.1,1441.8 612.8,1442.6 613.4,1443.3 614.1,1444.1 614.7,1444.9 615.3,1445.6 616.0,1446.4 616.6,1447.1 617.3,1447.8 617.9,1448.6 618.6,1449.3 619.2,1450.0 619.9,1450.7 620.5,1451.4 621.2,1452.0 621.8,1452.7 622.5,1453.3 623.1,1454.0 623.8,1454.6 624.4,1455.2 625.1,1455.8 625.7,1456.4 626.4,1457.0 627.0,1457.5 627.6,1458.1 628.3,1458.6 628.9,1459.1 629.6,1459.6 630.2,1460.1 630.9,1460.6 631.5,1461.1 632.2,1461.5 632.8,1461.9 633.5,1462.4 634.1,1462.8 634.8,1463.2 635.4,1463.6 636.1,1463.9 636.7,1464.3 637.4,1464.6 638.0,1465.0 638.7,1465.3 639.3,1465.6 640.0,1465.9 640.6,1466.2 641.2,1466.4 641.9,1466.7 642.5,1467.0 643.2,1467.2 643.8,1467.4 644.5,1467.7 645.1,1467.9 645.8,1468.1 646.4,1468.3 647.1,1468.5 647.7,1468.6 648.4,1468.8 649.0,1469.0 649.7,1469.1 650.3,1469.3 651.0,1469.4 651.6,1469.5 652.3,1469.7 652.9,1469.8 653.5,1469.9 654.2,1470.0 654.8,1470.1 655.5,1470.2 656.1,1470.3 656.8,1470.4 657.4,1470.5 658.1,1470.6 658.7,1470.6 659.4,1470.7 660.0,1470.8 660.7,1470.8 661.3,1470.9 662.0,1470.9 662.6,1471.0 663.3,1471.0 663.9,1471.1 664.6,1471.1 665.2,1471.2 665.9,1471.2" fill="none" stroke="#0000ff" stroke-width="2.6" stroke-linejoin="round"/>
<path d="M560.5,1471.7 L560.5,1471.2 561.0,1471.2 561.5,1471.1 562.1,1471.1 562.6,1471.1 563.2,1471.0 563.7,1471.0 564.3,1471.0 564.8,1470.9 565.4,1470.9 565.9,1470.8 566.4,1470.8 567.0,1470.8 567.5,1470.7 568.1,1470.7 568.6,1470.6 569.2,1470.6 569.7,1470.5 570.3,1470.4 570.8,1470.4 571.3,1470.3 571.9,1470.2 572.4,1470.2 573.0,1470.1 573.5,1470.0 574.1,1470.0 574.6,1469.9 575.2,1469.8 575.7,1469.7 576.2,1469.6 576.8,1469.5 577.3,1469.4 577.9,1469.3 578.4,1469.2 579.0,1469.1 579.5,1469.0 580.0,1468.9 580.6,1468.8 581.1,1468.7 581.7,1468.6 582.2,1468.5 582.8,1468.3 583.3,1468.2 583.9,1468.1 584.4,1467.9 584.9,1467.8 585.5,1467.7 586.0,1467.5 586.6,1467.4 587.1,1467.2 587.7,1467.1 588.2,1466.9 588.8,1466.7 589.3,1466.6 589.8,1466.4 590.4,1466.2 590.9,1466.1 591.5,1465.9 592.0,1465.7 592.6,1465.5 593.1,1465.3 593.7,1465.1 594.2,1464.9 594.7,1464.7 595.3,1464.5 595.8,1464.3 596.4,1464.1 596.9,1463.9 597.5,1463.7 598.0,1463.5 598.5,1463.3 599.1,1463.1 599.6,1462.9 600.2,1462.7 600.7,1462.4 601.3,1462.2 601.8,1462.0 602.4,1461.8 602.9,1461.6 603.4,1461.3 604.0,1461.1 604.5,1460.9 605.1,1460.7 605.6,1460.4 606.2,1460.2 606.7,1460.0 607.3,1459.8 607.8,1459.6 608.3,1459.3 608.9,1459.1 609.4,1458.9 610.0,1458.7 610.5,1458.5 611.1,1458.3 611.6,1458.1 612.2,1457.9 612.7,1457.6 613.2,1457.4 613.8,1457.3 614.3,1457.1 614.9,1456.9 615.4,1456.7 616.0,1456.5 616.5,1456.3 617.1,1456.2 617.6,1456.0 618.1,1455.8 618.7,1455.7 619.2,1455.5 619.8,1455.4 620.3,1455.2 620.9,1455.1 621.4,1455.0 621.9,1454.9 622.5,1454.7 623.0,1454.6 623.6,1454.5 624.1,1454.4 624.7,1454.4 625.2,1454.3 625.8,1454.2 626.3,1454.1 626.8,1454.1 627.4,1454.0 627.9,1454.0 628.5,1453.9 629.0,1453.9 629.6,1453.9 630.1,1453.9 630.7,1453.9 631.2,1453.9 631.7,1453.9 632.3,1453.9 632.8,1453.9 633.4,1453.9 633.9,1454.0 634.5,1454.0 635.0,1454.1 635.6,1454.1 636.1,1454.2 636.6,1454.3 637.2,1454.4 637.7,1454.4 638.3,1454.5 638.8,1454.6 639.4,1454.8 639.9,1454.9 640.4,1455.0 641.0,1455.1 641.5,1455.2 642.1,1455.4 642.6,1455.5 643.2,1455.7 643.7,1455.8 644.3,1456.0 644.8,1456.2 645.3,1456.3 645.9,1456.5 646.4,1456.7 647.0,1456.9 647.5,1457.1 648.1,1457.3 648.6,1457.5 649.2,1457.7 649.7,1457.9 650.2,1458.1 650.8,1458.3 651.3,1458.5 651.9,1458.7 652.4,1458.9 653.0,1459.1 653.5,1459.3 654.1,1459.6 654.6,1459.8 655.1,1460.0 655.7,1460.2 656.2,1460.4 656.8,1460.7 657.3,1460.9 657.9,1461.1 658.4,1461.3 659.0,1461.6 659.5,1461.8 660.0,1462.0 660.6,1462.2 661.1,1462.4 661.7,1462.7 662.2,1462.9 662.8,1463.1 663.3,1463.3 663.8,1463.5 664.4,1463.7 664.9,1463.9 665.5,1464.1 666.0,1464.4 666.6,1464.6 667.1,1464.8 667.7,1464.9 668.2,1465.1 668.7,1465.3 669.3,1465.5 669.8,1465.7 670.4,1465.9 670.9,1466.1 671.5,1466.2 672.0,1466.4 672.6,1466.6 673.1,1466.7 673.6,1466.9 674.2,1467.1 674.7,1467.2 675.3,1467.4 675.8,1467.5 676.4,1467.7 676.9,1467.8 677.5,1467.9 678.0,1468.1 678.5,1468.2 679.1,1468.3 679.6,1468.5 680.2,1468.6 680.7,1468.7 681.3,1468.8 681.8,1468.9 682.3,1469.0 682.9,1469.1 683.4,1469.2 684.0,1469.3 684.5,1469.4 685.1,1469.5 685.6,1469.6 686.2,1469.7 686.7,1469.8 687.2,1469.9 687.8,1470.0 688.3,1470.0 688.9,1470.1 689.4,1470.2 690.0,1470.2 690.5,1470.3 691.1,1470.4 691.6,1470.4 692.1,1470.5 692.7,1470.6 693.2,1470.6 693.8,1470.7 694.3,1470.7 694.9,1470.8 695.4,1470.8 696.0,1470.8 696.5,1470.9 697.0,1470.9 697.6,1471.0 698.1,1471.0 698.7,1471.0 699.2,1471.1 699.8,1471.1 700.3,1471.1 700.9,1471.2 701.4,1471.2 L701.4,1471.7 Z" fill="rgba(204,51,255,0.4)" stroke="none"/>
<polyline points="560.5,1471.2 561.0,1471.2 561.5,1471.1 562.1,1471.1 562.6,1471.1 563.2,1471.0 563.7,1471.0 564.3,1471.0 564.8,1470.9 565.4,1470.9 565.9,1470.8 566.4,1470.8 567.0,1470.8 567.5,1470.7 568.1,1470.7 568.6,1470.6 569.2,1470.6 569.7,1470.5 570.3,1470.4 570.8,1470.4 571.3,1470.3 571.9,1470.2 572.4,1470.2 573.0,1470.1 573.5,1470.0 574.1,1470.0 574.6,1469.9 575.2,1469.8 575.7,1469.7 576.2,1469.6 576.8,1469.5 577.3,1469.4 577.9,1469.3 578.4,1469.2 579.0,1469.1 579.5,1469.0 580.0,1468.9 580.6,1468.8 581.1,1468.7 581.7,1468.6 582.2,1468.5 582.8,1468.3 583.3,1468.2 583.9,1468.1 584.4,1467.9 584.9,1467.8 585.5,1467.7 586.0,1467.5 586.6,1467.4 587.1,1467.2 587.7,1467.1 588.2,1466.9 588.8,1466.7 589.3,1466.6 589.8,1466.4 590.4,1466.2 590.9,1466.1 591.5,1465.9 592.0,1465.7 592.6,1465.5 593.1,1465.3 593.7,1465.1 594.2,1464.9 594.7,1464.7 595.3,1464.5 595.8,1464.3 596.4,1464.1 596.9,1463.9 597.5,1463.7 598.0,1463.5 598.5,1463.3 599.1,1463.1 599.6,1462.9 600.2,1462.7 600.7,1462.4 601.3,1462.2 601.8,1462.0 602.4,1461.8 602.9,1461.6 603.4,1461.3 604.0,1461.1 604.5,1460.9 605.1,1460.7 605.6,1460.4 606.2,1460.2 606.7,1460.0 607.3,1459.8 607.8,1459.6 608.3,1459.3 608.9,1459.1 609.4,1458.9 610.0,1458.7 610.5,1458.5 611.1,1458.3 611.6,1458.1 612.2,1457.9 612.7,1457.6 613.2,1457.4 613.8,1457.3 614.3,1457.1 614.9,1456.9 615.4,1456.7 616.0,1456.5 616.5,1456.3 617.1,1456.2 617.6,1456.0 618.1,1455.8 618.7,1455.7 619.2,1455.5 619.8,1455.4 620.3,1455.2 620.9,1455.1 621.4,1455.0 621.9,1454.9 622.5,1454.7 623.0,1454.6 623.6,1454.5 624.1,1454.4 624.7,1454.4 625.2,1454.3 625.8,1454.2 626.3,1454.1 626.8,1454.1 627.4,1454.0 627.9,1454.0 628.5,1453.9 629.0,1453.9 629.6,1453.9 630.1,1453.9 630.7,1453.9 631.2,1453.9 631.7,1453.9 632.3,1453.9 632.8,1453.9 633.4,1453.9 633.9,1454.0 634.5,1454.0 635.0,1454.1 635.6,1454.1 636.1,1454.2 636.6,1454.3 637.2,1454.4 637.7,1454.4 638.3,1454.5 638.8,1454.6 639.4,1454.8 639.9,1454.9 640.4,1455.0 641.0,1455.1 641.5,1455.2 642.1,1455.4 642.6,1455.5 643.2,1455.7 643.7,1455.8 644.3,1456.0 644.8,1456.2 645.3,1456.3 645.9,1456.5 646.4,1456.7 647.0,1456.9 647.5,1457.1 648.1,1457.3 648.6,1457.5 649.2,1457.7 649.7,1457.9 650.2,1458.1 650.8,1458.3 651.3,1458.5 651.9,1458.7 652.4,1458.9 653.0,1459.1 653.5,1459.3 654.1,1459.6 654.6,1459.8 655.1,1460.0 655.7,1460.2 656.2,1460.4 656.8,1460.7 657.3,1460.9 657.9,1461.1 658.4,1461.3 659.0,1461.6 659.5,1461.8 660.0,1462.0 660.6,1462.2 661.1,1462.4 661.7,1462.7 662.2,1462.9 662.8,1463.1 663.3,1463.3 663.8,1463.5 664.4,1463.7 664.9,1463.9 665.5,1464.1 666.0,1464.4 666.6,1464.6 667.1,1464.8 667.7,1464.9 668.2,1465.1 668.7,1465.3 669.3,1465.5 669.8,1465.7 670.4,1465.9 670.9,1466.1 671.5,1466.2 672.0,1466.4 672.6,1466.6 673.1,1466.7 673.6,1466.9 674.2,1467.1 674.7,1467.2 675.3,1467.4 675.8,1467.5 676.4,1467.7 676.9,1467.8 677.5,1467.9 678.0,1468.1 678.5,1468.2 679.1,1468.3 679.6,1468.5 680.2,1468.6 680.7,1468.7 681.3,1468.8 681.8,1468.9 682.3,1469.0 682.9,1469.1 683.4,1469.2 684.0,1469.3 684.5,1469.4 685.1,1469.5 685.6,1469.6 686.2,1469.7 686.7,1469.8 687.2,1469.9 687.8,1470.0 688.3,1470.0 688.9,1470.1 689.4,1470.2 690.0,1470.2 690.5,1470.3 691.1,1470.4 691.6,1470.4 692.1,1470.5 692.7,1470.6 693.2,1470.6 693.8,1470.7 694.3,1470.7 694.9,1470.8 695.4,1470.8 696.0,1470.8 696.5,1470.9 697.0,1470.9 697.6,1471.0 698.1,1471.0 698.7,1471.0 699.2,1471.1 699.8,1471.1 700.3,1471.1 700.9,1471.2 701.4,1471.2" fill="none" stroke="#c824f0" stroke-width="2.6" stroke-linejoin="round"/>
<path d="M198.0,1471.7 L198.0,1471.7 200.3,1471.7 202.7,1471.7 205.1,1471.7 207.5,1471.7 209.8,1471.7 212.2,1471.7 214.6,1471.7 217.0,1471.7 219.3,1471.7 221.7,1471.7 224.1,1471.7 226.5,1471.7 228.8,1471.7 231.2,1471.7 233.6,1471.7 236.0,1471.7 238.3,1471.7 240.7,1471.7 243.1,1471.7 245.5,1471.7 247.9,1471.7 250.2,1471.7 252.6,1471.7 255.0,1471.7 257.4,1471.7 259.7,1471.7 262.1,1471.7 264.5,1471.7 266.9,1471.7 269.2,1471.7 271.6,1471.7 274.0,1471.7 276.4,1471.7 278.7,1471.7 281.1,1471.7 283.5,1471.7 285.9,1471.7 288.2,1471.7 290.6,1471.7 293.0,1471.7 295.4,1471.7 297.7,1471.7 300.1,1471.7 302.5,1471.7 304.9,1471.7 307.2,1471.7 309.6,1471.7 312.0,1471.7 314.4,1471.7 316.7,1471.7 319.1,1471.7 321.5,1471.7 323.9,1471.7 326.2,1471.7 328.6,1471.7 331.0,1471.7 333.4,1471.7 335.7,1471.7 338.1,1471.7 340.5,1471.7 342.9,1471.7 345.3,1471.6 347.6,1471.6 350.0,1471.6 352.4,1471.6 354.8,1471.5 357.1,1471.4 359.5,1471.4 361.9,1471.3 364.3,1471.2 366.6,1471.1 369.0,1470.9 371.4,1470.7 373.8,1470.5 376.1,1470.2 378.5,1470.0 380.9,1469.6 383.3,1469.3 385.6,1468.8 388.0,1468.4 390.4,1467.9 392.8,1467.3 395.1,1466.7 397.5,1466.1 399.9,1465.5 402.3,1464.8 404.6,1464.1 407.0,1463.4 409.4,1462.8 411.8,1462.1 414.1,1461.5 416.5,1461.0 418.9,1460.5 421.3,1460.1 423.6,1459.7 426.0,1459.5 428.4,1459.4 430.8,1459.3 433.1,1459.4 435.5,1459.5 437.9,1459.8 440.3,1460.1 442.7,1460.5 445.0,1461.0 447.4,1461.6 449.8,1462.2 452.2,1462.8 454.5,1463.5 456.9,1464.1 459.3,1464.8 461.7,1465.5 464.0,1466.1 466.4,1466.7 468.8,1467.3 471.2,1467.9 473.5,1468.4 475.9,1468.8 478.3,1469.3 480.7,1469.6 483.0,1470.0 485.4,1470.3 487.8,1470.5 490.2,1470.7 492.5,1470.9 494.9,1471.1 497.3,1471.2 499.7,1471.3 502.0,1471.4 504.4,1471.5 506.8,1471.5 509.2,1471.6 511.5,1471.6 513.9,1471.6 516.3,1471.6 518.7,1471.7 521.0,1471.7 523.4,1471.7 525.8,1471.7 528.2,1471.7 530.6,1471.7 532.9,1471.7 535.3,1471.7 537.7,1471.7 540.1,1471.7 542.4,1471.7 544.8,1471.7 547.2,1471.7 549.6,1471.7 551.9,1471.7 554.3,1471.7 556.7,1471.7 559.1,1471.7 561.4,1471.7 563.8,1471.7 566.2,1471.7 568.6,1471.7 570.9,1471.7 573.3,1471.7 575.7,1471.7 578.1,1471.7 580.4,1471.7 582.8,1471.7 585.2,1471.7 587.6,1471.7 589.9,1471.7 592.3,1471.7 594.7,1471.7 597.1,1471.7 599.4,1471.7 601.8,1471.7 604.2,1471.7 606.6,1471.7 608.9,1471.7 611.3,1471.7 613.7,1471.7 616.1,1471.7 618.4,1471.7 620.8,1471.7 623.2,1471.7 625.6,1471.7 628.0,1471.7 630.3,1471.7 632.7,1471.7 635.1,1471.7 637.5,1471.7 639.8,1471.7 642.2,1471.7 644.6,1471.7 647.0,1471.7 649.3,1471.7 651.7,1471.7 654.1,1471.7 656.5,1471.7 658.8,1471.7 661.2,1471.7 663.6,1471.7 666.0,1471.7 668.3,1471.7 670.7,1471.7 673.1,1471.7 675.5,1471.7 677.8,1471.7 680.2,1471.7 682.6,1471.7 685.0,1471.7 687.3,1471.7 689.7,1471.7 692.1,1471.7 694.5,1471.7 696.8,1471.7 699.2,1471.7 701.6,1471.7 704.0,1471.7 706.3,1471.7 708.7,1471.7 711.1,1471.7 713.5,1471.7 715.9,1471.7 718.2,1471.7 720.6,1471.7 723.0,1471.7 725.4,1471.7 727.7,1471.7 730.1,1471.7 732.5,1471.7 734.9,1471.7 737.2,1471.7 739.6,1471.7 742.0,1471.7 744.4,1471.7 746.7,1471.7 749.1,1471.7 751.5,1471.7 753.9,1471.7 756.2,1471.7 758.6,1471.7 761.0,1471.7 763.4,1471.7 765.7,1471.7 768.1,1471.7 770.5,1471.7 772.9,1471.7 775.2,1471.7 777.6,1471.7 780.0,1471.7 782.4,1471.7 784.7,1471.7 787.1,1471.7 789.5,1471.7 791.9,1471.7 794.2,1471.7 796.6,1471.7 799.0,1471.7 801.4,1471.7 803.7,1471.7 806.1,1471.7 808.5,1471.7 810.9,1471.7 813.3,1471.7 L813.3,1471.7 Z" fill="rgba(10,128,96,0.45)" stroke="none"/>
<polyline points="198.0,1471.7 200.3,1471.7 202.7,1471.7 205.1,1471.7 207.5,1471.7 209.8,1471.7 212.2,1471.7 214.6,1471.7 217.0,1471.7 219.3,1471.7 221.7,1471.7 224.1,1471.7 226.5,1471.7 228.8,1471.7 231.2,1471.7 233.6,1471.7 236.0,1471.7 238.3,1471.7 240.7,1471.7 243.1,1471.7 245.5,1471.7 247.9,1471.7 250.2,1471.7 252.6,1471.7 255.0,1471.7 257.4,1471.7 259.7,1471.7 262.1,1471.7 264.5,1471.7 266.9,1471.7 269.2,1471.7 271.6,1471.7 274.0,1471.7 276.4,1471.7 278.7,1471.7 281.1,1471.7 283.5,1471.7 285.9,1471.7 288.2,1471.7 290.6,1471.7 293.0,1471.7 295.4,1471.7 297.7,1471.7 300.1,1471.7 302.5,1471.7 304.9,1471.7 307.2,1471.7 309.6,1471.7 312.0,1471.7 314.4,1471.7 316.7,1471.7 319.1,1471.7 321.5,1471.7 323.9,1471.7 326.2,1471.7 328.6,1471.7 331.0,1471.7 333.4,1471.7 335.7,1471.7 338.1,1471.7 340.5,1471.7 342.9,1471.7 345.3,1471.6 347.6,1471.6 350.0,1471.6 352.4,1471.6 354.8,1471.5 357.1,1471.4 359.5,1471.4 361.9,1471.3 364.3,1471.2 366.6,1471.1 369.0,1470.9 371.4,1470.7 373.8,1470.5 376.1,1470.2 378.5,1470.0 380.9,1469.6 383.3,1469.3 385.6,1468.8 388.0,1468.4 390.4,1467.9 392.8,1467.3 395.1,1466.7 397.5,1466.1 399.9,1465.5 402.3,1464.8 404.6,1464.1 407.0,1463.4 409.4,1462.8 411.8,1462.1 414.1,1461.5 416.5,1461.0 418.9,1460.5 421.3,1460.1 423.6,1459.7 426.0,1459.5 428.4,1459.4 430.8,1459.3 433.1,1459.4 435.5,1459.5 437.9,1459.8 440.3,1460.1 442.7,1460.5 445.0,1461.0 447.4,1461.6 449.8,1462.2 452.2,1462.8 454.5,1463.5 456.9,1464.1 459.3,1464.8 461.7,1465.5 464.0,1466.1 466.4,1466.7 468.8,1467.3 471.2,1467.9 473.5,1468.4 475.9,1468.8 478.3,1469.3 480.7,1469.6 483.0,1470.0 485.4,1470.3 487.8,1470.5 490.2,1470.7 492.5,1470.9 494.9,1471.1 497.3,1471.2 499.7,1471.3 502.0,1471.4 504.4,1471.5 506.8,1471.5 509.2,1471.6 511.5,1471.6 513.9,1471.6 516.3,1471.6 518.7,1471.7 521.0,1471.7 523.4,1471.7 525.8,1471.7 528.2,1471.7 530.6,1471.7 532.9,1471.7 535.3,1471.7 537.7,1471.7 540.1,1471.7 542.4,1471.7 544.8,1471.7 547.2,1471.7 549.6,1471.7 551.9,1471.7 554.3,1471.7 556.7,1471.7 559.1,1471.7 561.4,1471.7 563.8,1471.7 566.2,1471.7 568.6,1471.7 570.9,1471.7 573.3,1471.7 575.7,1471.7 578.1,1471.7 580.4,1471.7 582.8,1471.7 585.2,1471.7 587.6,1471.7 589.9,1471.7 592.3,1471.7 594.7,1471.7 597.1,1471.7 599.4,1471.7 601.8,1471.7 604.2,1471.7 606.6,1471.7 608.9,1471.7 611.3,1471.7 613.7,1471.7 616.1,1471.7 618.4,1471.7 620.8,1471.7 623.2,1471.7 625.6,1471.7 628.0,1471.7 630.3,1471.7 632.7,1471.7 635.1,1471.7 637.5,1471.7 639.8,1471.7 642.2,1471.7 644.6,1471.7 647.0,1471.7 649.3,1471.7 651.7,1471.7 654.1,1471.7 656.5,1471.7 658.8,1471.7 661.2,1471.7 663.6,1471.7 666.0,1471.7 668.3,1471.7 670.7,1471.7 673.1,1471.7 675.5,1471.7 677.8,1471.7 680.2,1471.7 682.6,1471.7 685.0,1471.7 687.3,1471.7 689.7,1471.7 692.1,1471.7 694.5,1471.7 696.8,1471.7 699.2,1471.7 701.6,1471.7 704.0,1471.7 706.3,1471.7 708.7,1471.7 711.1,1471.7 713.5,1471.7 715.9,1471.7 718.2,1471.7 720.6,1471.7 723.0,1471.7 725.4,1471.7 727.7,1471.7 730.1,1471.7 732.5,1471.7 734.9,1471.7 737.2,1471.7 739.6,1471.7 742.0,1471.7 744.4,1471.7 746.7,1471.7 749.1,1471.7 751.5,1471.7 753.9,1471.7 756.2,1471.7 758.6,1471.7 761.0,1471.7 763.4,1471.7 765.7,1471.7 768.1,1471.7 770.5,1471.7 772.9,1471.7 775.2,1471.7 777.6,1471.7 780.0,1471.7 782.4,1471.7 784.7,1471.7 787.1,1471.7 789.5,1471.7 791.9,1471.7 794.2,1471.7 796.6,1471.7 799.0,1471.7 801.4,1471.7 803.7,1471.7 806.1,1471.7 808.5,1471.7 810.9,1471.7 813.3,1471.7" fill="none" stroke="#0a8060" stroke-width="2.6" stroke-linejoin="round"/>
<polyline points="189.4,1148.3 190.7,1148.3 191.9,1148.3 193.2,1148.3 194.4,1148.3 195.7,1148.3 196.9,1148.3 198.2,1148.3 199.4,1148.3 200.7,1148.3 201.9,1148.3 203.2,1148.3 204.4,1148.3 205.7,1148.3 206.9,1148.3 208.2,1148.3 209.4,1148.3 210.7,1148.3 211.9,1148.3 213.2,1148.3 214.4,1148.3 215.7,1148.3 216.9,1148.3 218.2,1148.3 219.4,1148.3 220.7,1148.3 221.9,1148.3 223.2,1148.3 224.4,1148.3 225.7,1148.3 226.9,1148.3 228.2,1148.3 229.4,1148.3 230.7,1148.3 231.9,1148.3 233.2,1148.3 234.4,1148.3 235.7,1148.3 236.9,1148.3 238.2,1148.3 239.4,1148.3 240.7,1148.3 241.9,1148.3 243.2,1148.3 244.4,1148.3 245.7,1148.3 246.9,1148.3 248.2,1148.3 249.4,1148.3 250.7,1148.3 251.9,1148.3 253.2,1148.3 254.4,1148.3 255.7,1148.3 256.9,1148.3 258.2,1148.3 259.4,1148.3 260.7,1148.3 261.9,1148.3 263.2,1148.3 264.4,1148.3 265.7,1148.3 266.9,1148.3 268.2,1148.3 269.4,1148.2 270.7,1148.2 271.9,1148.2 273.2,1148.2 274.4,1148.2 275.7,1148.2 276.9,1148.2 278.2,1148.2 279.4,1148.2 280.7,1148.2 281.9,1148.2 283.2,1148.2 284.4,1148.1 285.7,1148.1 286.9,1148.1 288.2,1148.1 289.4,1148.1 290.7,1148.1 291.9,1148.1 293.2,1148.0 294.4,1148.0 295.7,1148.0 296.9,1148.0 298.2,1147.9 299.4,1147.9 300.7,1147.9 301.9,1147.9 303.2,1147.8 304.4,1147.8 305.7,1147.7 306.9,1147.7 308.2,1147.7 309.4,1147.6 310.7,1147.6 311.9,1147.5 313.2,1147.5 314.4,1147.4 315.7,1147.4 316.9,1147.3 318.2,1147.2 319.4,1147.2 320.7,1147.1 321.9,1147.0 323.2,1146.9 324.4,1146.9 325.7,1146.8 326.9,1146.7 328.2,1146.6 329.4,1146.5 330.7,1146.4 331.9,1146.3 333.2,1146.2 334.4,1146.1 335.7,1146.0 336.9,1145.8 338.2,1145.7 339.4,1145.6 340.7,1145.4 341.9,1145.3 343.2,1145.2 344.4,1145.0 345.7,1144.9 346.9,1144.7 348.2,1144.5 349.4,1144.4 350.7,1144.2 351.9,1144.0 353.2,1143.8 354.4,1143.7 355.7,1143.5 356.9,1143.3 358.2,1143.1 359.4,1142.9 360.7,1142.7 361.9,1142.5 363.2,1142.3 364.4,1142.0 365.7,1141.8 366.9,1141.6 368.2,1141.4 369.4,1141.2 370.7,1140.9 371.9,1140.7 373.2,1140.5 374.4,1140.2 375.7,1140.0 376.9,1139.8 378.2,1139.6 379.4,1139.3 380.7,1139.1 382.0,1138.8 383.2,1138.6 384.5,1138.4 385.7,1138.2 387.0,1137.9 388.2,1137.7 389.5,1137.5 390.7,1137.2 392.0,1137.0 393.2,1136.8 394.5,1136.6 395.7,1136.3 397.0,1136.1 398.2,1135.9 399.5,1135.7 400.7,1135.4 402.0,1135.2 403.2,1135.0 404.5,1134.8 405.7,1134.5 407.0,1134.3 408.2,1134.0 409.5,1133.8 410.7,1133.5 412.0,1133.2 413.2,1132.9 414.5,1132.6 415.7,1132.2 417.0,1131.8 418.2,1131.4 419.5,1131.0 420.7,1130.5 422.0,1130.0 423.2,1129.5 424.5,1128.9 425.7,1128.2 427.0,1127.5 428.2,1126.8 429.5,1126.0 430.7,1125.2 432.0,1124.3 433.2,1123.3 434.5,1122.3 435.7,1121.3 437.0,1120.2 438.2,1119.0 439.5,1117.8 440.7,1116.6 442.0,1115.3 443.2,1113.9 444.5,1112.5 445.7,1111.0 447.0,1109.5 448.2,1108.0 449.5,1106.3 450.7,1104.6 452.0,1102.8 453.2,1101.0 454.5,1099.0 455.7,1096.9 457.0,1094.7 458.2,1092.4 459.5,1090.0 460.7,1087.4 462.0,1084.6 463.2,1081.7 464.5,1078.6 465.7,1075.3 467.0,1071.8 468.2,1068.0 469.5,1064.1 470.7,1059.9 472.0,1055.5 473.2,1050.9 474.5,1046.1 475.7,1041.1 477.0,1035.9 478.2,1030.5 479.5,1024.9 480.7,1019.1 482.0,1013.3 483.2,1007.3 484.5,1001.2 485.7,995.0 487.0,988.8 488.2,982.6 489.5,976.4 490.7,970.3 492.0,964.3 493.2,958.3 494.5,952.6 495.7,947.0 497.0,941.6 498.2,936.4 499.5,931.6 500.7,927.0 502.0,922.8 503.2,918.9 504.5,915.3 505.7,912.2 507.0,909.5 508.2,907.2 509.5,905.3 510.7,903.8 512.0,902.8 513.2,902.3 514.5,902.1 515.7,902.4 517.0,903.2 518.2,904.3 519.5,905.8 520.7,907.8 522.0,910.0 523.2,912.7 524.5,915.6 525.7,918.9 527.0,922.4 528.2,926.1 529.5,930.1 530.7,934.3 532.0,938.6 533.2,943.1 534.5,947.6 535.7,952.3 537.0,957.0 538.2,961.7 539.5,966.5 540.7,971.2 542.0,975.9 543.2,980.5 544.5,985.1 545.7,989.6 547.0,994.0 548.2,998.3 549.5,1002.4 550.7,1006.5 552.0,1010.4 553.2,1014.1 554.5,1017.8 555.7,1021.2 557.0,1024.6 558.2,1027.8 559.5,1030.8 560.7,1033.8 562.0,1036.6 563.2,1039.2 564.5,1041.8 565.7,1044.2 567.0,1046.5 568.2,1048.7 569.5,1050.9 570.7,1052.9 572.0,1054.8 573.2,1056.7 574.5,1058.5 575.7,1060.3 577.0,1062.0 578.2,1063.6 579.5,1065.2 580.7,1066.7 582.0,1068.2 583.2,1069.7 584.5,1071.2 585.7,1072.6 587.0,1074.0 588.2,1075.4 589.5,1076.7 590.7,1078.1 592.0,1079.4 593.2,1080.7 594.5,1082.0 595.7,1083.3 597.0,1084.5 598.2,1085.8 599.5,1087.0 600.7,1088.2 602.0,1089.4 603.2,1090.6 604.5,1091.8 605.7,1092.9 607.0,1094.0 608.2,1095.1 609.5,1096.2 610.7,1097.3 612.0,1098.4 613.2,1099.4 614.5,1100.4 615.7,1101.4 617.0,1102.4 618.2,1103.4 619.5,1104.4 620.7,1105.3 622.0,1106.3 623.2,1107.2 624.5,1108.2 625.7,1109.1 627.0,1110.1 628.2,1111.0 629.5,1111.9 630.7,1112.9 632.0,1113.8 633.2,1114.7 634.5,1115.7 635.7,1116.6 637.0,1117.5 638.2,1118.4 639.5,1119.3 640.7,1120.2 642.0,1121.1 643.2,1122.0 644.5,1122.8 645.7,1123.7 647.0,1124.5 648.2,1125.3 649.5,1126.1 650.7,1126.8 652.0,1127.6 653.2,1128.3 654.5,1129.0 655.7,1129.6 657.0,1130.2 658.2,1130.9 659.5,1131.4 660.7,1132.0 662.0,1132.6 663.2,1133.1 664.5,1133.6 665.7,1134.1 667.0,1134.5 668.2,1135.0 669.5,1135.4 670.7,1135.8 672.0,1136.3 673.2,1136.6 674.5,1137.0 675.7,1137.4 677.0,1137.8 678.2,1138.1 679.5,1138.5 680.7,1138.8 682.0,1139.1 683.2,1139.4 684.5,1139.7 685.7,1140.1 687.0,1140.3 688.2,1140.6 689.5,1140.9 690.7,1141.2 692.0,1141.5 693.2,1141.7 694.5,1142.0 695.7,1142.2 697.0,1142.5 698.2,1142.7 699.5,1142.9 700.7,1143.2 702.0,1143.4 703.2,1143.6 704.5,1143.8 705.7,1144.0 707.0,1144.2 708.2,1144.4 709.5,1144.6 710.7,1144.8 712.0,1144.9 713.2,1145.1 714.5,1145.3 715.7,1145.4 717.0,1145.6 718.2,1145.7 719.5,1145.9 720.7,1146.0 722.0,1146.1 723.2,1146.3 724.5,1146.4 725.7,1146.5 727.0,1146.6 728.2,1146.7 729.5,1146.8 730.7,1146.9 732.0,1147.0 733.2,1147.1 734.5,1147.1 735.7,1147.2 737.0,1147.3 738.2,1147.4 739.5,1147.4 740.7,1147.5 742.0,1147.5 743.2,1147.6 744.5,1147.6 745.7,1147.7 747.0,1147.7 748.2,1147.8 749.5,1147.8 750.7,1147.9 752.0,1147.9 753.2,1147.9 754.5,1148.0 755.7,1148.0 757.0,1148.0 758.2,1148.0 759.5,1148.1 760.7,1148.1 762.0,1148.1 763.2,1148.1 764.5,1148.1 765.7,1148.1 767.0,1148.2 768.2,1148.2 769.5,1148.2 770.7,1148.2 772.0,1148.2 773.2,1148.2 774.5,1148.2 775.7,1148.2 777.0,1148.2 778.2,1148.2 779.5,1148.3 780.7,1148.3 782.0,1148.3 783.2,1148.3 784.5,1148.3 785.7,1148.3 787.0,1148.3 788.2,1148.3 789.5,1148.3 790.7,1148.3 792.0,1148.3 793.2,1148.3 794.5,1148.3 795.7,1148.3 797.0,1148.3 798.2,1148.3 799.5,1148.3 800.7,1148.3 802.0,1148.3 803.2,1148.3 804.5,1148.3 805.8,1148.3 807.0,1148.3 808.3,1148.3 809.5,1148.3 810.8,1148.3 812.0,1148.3 813.3,1148.3" fill="none" stroke="#000" stroke-width="3.2" stroke-linejoin="round" stroke-linecap="round"/>
<polyline points="198.0,1471.2 199.2,1471.2 200.4,1471.2 201.7,1471.2 202.9,1471.2 204.1,1471.2 205.4,1471.2 206.6,1471.2 207.8,1471.2 209.1,1471.2 210.3,1471.2 211.5,1471.2 212.8,1471.2 214.0,1471.2 215.2,1471.2 216.5,1471.2 217.7,1471.2 218.9,1471.2 220.2,1471.2 221.4,1471.2 222.6,1471.2 223.9,1471.2 225.1,1471.2 226.3,1471.2 227.6,1471.2 228.8,1471.2 230.0,1471.2 231.3,1471.2 232.5,1471.2 233.7,1471.2 235.0,1471.2 236.2,1471.2 237.4,1471.2 238.7,1471.2 239.9,1471.2 241.1,1471.2 242.4,1471.2 243.6,1471.2 244.8,1471.2 246.1,1471.2 247.3,1471.2 248.5,1471.2 249.8,1471.2 251.0,1471.2 252.2,1471.2 253.4,1471.2 254.7,1471.2 255.9,1471.2 257.1,1471.2 258.4,1471.2 259.6,1471.2 260.8,1471.2 262.1,1471.2 263.3,1471.2 264.5,1471.1 265.8,1471.1 267.0,1471.1 268.2,1471.1 269.5,1471.1 270.7,1471.1 271.9,1471.1 273.2,1471.1 274.4,1471.1 275.6,1471.1 276.9,1471.1 278.1,1471.1 279.3,1471.1 280.6,1471.1 281.8,1471.1 283.0,1471.0 284.3,1471.0 285.5,1471.0 286.7,1471.0 288.0,1471.0 289.2,1471.0 290.4,1471.0 291.7,1470.9 292.9,1470.9 294.1,1470.9 295.4,1470.9 296.6,1470.9 297.8,1470.8 299.1,1470.8 300.3,1470.8 301.5,1470.7 302.8,1470.7 304.0,1470.7 305.2,1470.6 306.5,1470.6 307.7,1470.6 308.9,1470.5 310.2,1470.5 311.4,1470.4 312.6,1470.4 313.9,1470.3 315.1,1470.3 316.3,1470.2 317.6,1470.2 318.8,1470.1 320.0,1470.0 321.3,1470.0 322.5,1469.9 323.7,1469.8 325.0,1469.7 326.2,1469.6 327.4,1469.5 328.7,1469.4 329.9,1469.4 331.1,1469.3 332.4,1469.1 333.6,1469.0 334.8,1468.9 336.1,1468.8 337.3,1468.7 338.5,1468.6 339.8,1468.4 341.0,1468.3 342.2,1468.2 343.5,1468.0 344.7,1467.9 345.9,1467.7 347.2,1467.6 348.4,1467.4 349.6,1467.2 350.9,1467.1 352.1,1466.9 353.3,1466.7 354.6,1466.5 355.8,1466.3 357.0,1466.1 358.3,1466.0 359.5,1465.8 360.7,1465.6 362.0,1465.4 363.2,1465.1 364.4,1464.9 365.7,1464.7 366.9,1464.5 368.1,1464.3 369.4,1464.1 370.6,1463.8 371.8,1463.6 373.1,1463.4 374.3,1463.2 375.5,1462.9 376.8,1462.7 378.0,1462.5 379.2,1462.2 380.5,1462.0 381.7,1461.8 382.9,1461.6 384.2,1461.3 385.4,1461.1 386.6,1460.9 387.9,1460.6 389.1,1460.4 390.3,1460.2 391.6,1460.0 392.8,1459.7 394.0,1459.5 395.2,1459.3 396.5,1459.1 397.7,1458.9 398.9,1458.6 400.2,1458.4 401.4,1458.2 402.6,1458.0 403.9,1457.7 405.1,1457.5 406.3,1457.3 407.6,1457.0 408.8,1456.8 410.0,1456.5 411.3,1456.2 412.5,1455.9 413.7,1455.6 415.0,1455.3 416.2,1454.9 417.4,1454.6 418.7,1454.1 419.9,1453.7 421.1,1453.2 422.4,1452.7 423.6,1452.1 424.8,1451.5 426.1,1450.9 427.3,1450.2 428.5,1449.5 429.8,1448.7 431.0,1447.8 432.2,1446.9 433.5,1446.0 434.7,1445.0 435.9,1444.0 437.2,1442.9 438.4,1441.7 439.6,1440.5 440.9,1439.3 442.1,1438.0 443.3,1436.6 444.6,1435.3 445.8,1433.8 447.0,1432.3 448.3,1430.8 449.5,1429.1 450.7,1427.5 452.0,1425.7 453.2,1423.8 454.4,1421.9 455.7,1419.9 456.9,1417.7 458.1,1415.5 459.4,1413.1 460.6,1410.5 461.8,1407.8 463.1,1404.9 464.3,1401.9 465.5,1398.6 466.8,1395.2 468.0,1391.6 469.2,1387.7 470.5,1383.6 471.7,1379.4 472.9,1374.9 474.2,1370.2 475.4,1365.3 476.6,1360.2 477.9,1354.9 479.1,1349.4 480.3,1343.8 481.6,1338.0 482.8,1332.1 484.0,1326.2 485.3,1320.1 486.5,1314.0 487.7,1307.9 489.0,1301.8 490.2,1295.7 491.4,1289.7 492.7,1283.8 493.9,1278.1 495.1,1272.4 496.4,1267.0 497.6,1261.8 498.8,1256.9 500.1,1252.2 501.3,1247.9 502.5,1243.9 503.8,1240.2 505.0,1236.9 506.2,1233.9 507.5,1231.4 508.7,1229.3 509.9,1227.6 511.2,1226.3 512.4,1225.5 513.6,1225.1 514.9,1225.1 516.1,1225.5 517.3,1226.3 518.6,1227.6 519.8,1229.2 521.0,1231.2 522.3,1233.5 523.5,1236.2 524.7,1239.1 526.0,1242.4 527.2,1245.9 528.4,1249.6 529.7,1253.6 530.9,1257.7 532.1,1262.0 533.4,1266.4 534.6,1270.9 535.8,1275.5 537.0,1280.2 538.3,1284.8 539.5,1289.5 540.7,1294.2 542.0,1298.8 543.2,1303.4 544.4,1307.9 545.7,1312.3 546.9,1316.7 548.1,1320.9 549.4,1325.0 550.6,1329.0 551.8,1332.9 553.1,1336.6 554.3,1340.2 555.5,1343.6 556.8,1347.0 558.0,1350.1 559.2,1353.2 560.5,1356.1 561.7,1358.9 562.9,1361.5 564.2,1364.1 565.4,1366.5 566.6,1368.8 567.9,1371.0 569.1,1373.1 570.3,1375.2 571.6,1377.1 572.8,1379.0 574.0,1380.8 575.3,1382.5 576.5,1384.2 577.7,1385.8 579.0,1387.4 580.2,1389.0 581.4,1390.5 582.7,1391.9 583.9,1393.4 585.1,1394.8 586.4,1396.2 587.6,1397.6 588.8,1398.9 590.1,1400.2 591.3,1401.5 592.5,1402.8 593.8,1404.1 595.0,1405.4 596.2,1406.7 597.5,1407.9 598.7,1409.1 599.9,1410.3 601.2,1411.5 602.4,1412.7 603.6,1413.9 604.9,1415.0 606.1,1416.1 607.3,1417.2 608.6,1418.3 609.8,1419.4 611.0,1420.4 612.3,1421.5 613.5,1422.5 614.7,1423.5 616.0,1424.5 617.2,1425.5 618.4,1426.4 619.7,1427.4 620.9,1428.3 622.1,1429.3 623.4,1430.2 624.6,1431.1 625.8,1432.1 627.1,1433.0 628.3,1433.9 629.5,1434.8 630.8,1435.8 632.0,1436.7 633.2,1437.6 634.5,1438.5 635.7,1439.4 636.9,1440.3 638.2,1441.3 639.4,1442.1 640.6,1443.0 641.9,1443.9 643.1,1444.8 644.3,1445.6 645.6,1446.4 646.8,1447.3 648.0,1448.0 649.3,1448.8 650.5,1449.6 651.7,1450.3 653.0,1451.0 654.2,1451.7 655.4,1452.3 656.7,1453.0 657.9,1453.6 659.1,1454.2 660.4,1454.7 661.6,1455.3 662.8,1455.8 664.1,1456.3 665.3,1456.8 666.5,1457.2 667.8,1457.7 669.0,1458.1 670.2,1458.6 671.5,1459.0 672.7,1459.4 673.9,1459.7 675.2,1460.1 676.4,1460.5 677.6,1460.8 678.8,1461.2 680.1,1461.5 681.3,1461.8 682.5,1462.1 683.8,1462.5 685.0,1462.8 686.2,1463.1 687.5,1463.3 688.7,1463.6 689.9,1463.9 691.2,1464.2 692.4,1464.4 693.6,1464.7 694.9,1464.9 696.1,1465.2 697.3,1465.4 698.6,1465.7 699.8,1465.9 701.0,1466.1 702.3,1466.3 703.5,1466.5 704.7,1466.7 706.0,1466.9 707.2,1467.1 708.4,1467.3 709.7,1467.5 710.9,1467.7 712.1,1467.9 713.4,1468.0 714.6,1468.2 715.8,1468.3 717.1,1468.5 718.3,1468.6 719.5,1468.8 720.8,1468.9 722.0,1469.0 723.2,1469.1 724.5,1469.3 725.7,1469.4 726.9,1469.5 728.2,1469.6 729.4,1469.7 730.6,1469.8 731.9,1469.9 733.1,1469.9 734.3,1470.0 735.6,1470.1 736.8,1470.2 738.0,1470.2 739.3,1470.3 740.5,1470.4 741.7,1470.4 743.0,1470.5 744.2,1470.5 745.4,1470.6 746.7,1470.6 747.9,1470.7 749.1,1470.7 750.4,1470.7 751.6,1470.8 752.8,1470.8 754.1,1470.8 755.3,1470.9 756.5,1470.9 757.8,1470.9 759.0,1470.9 760.2,1471.0 761.5,1471.0 762.7,1471.0 763.9,1471.0 765.2,1471.0 766.4,1471.0 767.6,1471.1 768.9,1471.1 770.1,1471.1 771.3,1471.1 772.6,1471.1 773.8,1471.1 775.0,1471.1 776.3,1471.1 777.5,1471.1 778.7,1471.1 780.0,1471.1 781.2,1471.1 782.4,1471.1 783.7,1471.2 784.9,1471.2 786.1,1471.2 787.4,1471.2 788.6,1471.2 789.8,1471.2 791.1,1471.2 792.3,1471.2 793.5,1471.2 794.8,1471.2 796.0,1471.2 797.2,1471.2 798.5,1471.2 799.7,1471.2 800.9,1471.2 802.2,1471.2 803.4,1471.2 804.6,1471.2 805.9,1471.2 807.1,1471.2 808.3,1471.2 809.6,1471.2 810.8,1471.2 812.0,1471.2 813.3,1471.2" fill="none" stroke="#000" stroke-width="3.2" stroke-linejoin="round" stroke-linecap="round"/>
<line x1="512.8" y1="852.2" x2="512.8" y2="1477.1" stroke="#7f7f7f" stroke-width="3.1"/>
<line x1="429.3" y1="941.1" x2="429.3" y2="1477.1" stroke="#0a8060" stroke-width="3.1"/>
<line x1="583.0" y1="921.2" x2="583.0" y2="1477.1" stroke="#0000ff" stroke-width="3.1"/>
<line x1="634.8" y1="1069.3" x2="634.8" y2="1477.1" stroke="#c824f0" stroke-width="3.1"/>
<line x1="512.8" y1="881.2" x2="448.0" y2="881.2" stroke="#7f7f7f" stroke-width="3.0"/>
<path d="M431.5,881.2 L450.0,876.3 L448.8,881.2 L450.0,886.1 Z" fill="#7f7f7f" stroke="#7f7f7f" stroke-width="0.8" stroke-linejoin="round"/>
<line x1="429.3" y1="969.9" x2="363.3" y2="969.9" stroke="#0a8060" stroke-width="3.0"/>
<path d="M346.8,969.9 L365.3,965.0 L364.1,969.9 L365.3,974.8 Z" fill="#0a8060" stroke="#0a8060" stroke-width="0.8" stroke-linejoin="round"/>
<line x1="583.0" y1="1002.9" x2="641.3" y2="1002.9" stroke="#0000ff" stroke-width="3.0"/>
<path d="M657.8,1002.9 L639.3,998.0 L640.5,1002.9 L639.3,1007.8 Z" fill="#0000ff" stroke="#0000ff" stroke-width="0.8" stroke-linejoin="round"/>
<line x1="634.8" y1="1233.9" x2="665.1" y2="1233.9" stroke="#c824f0" stroke-width="3.0"/>
<path d="M681.6,1233.9 L663.1,1229.0 L664.3,1233.9 L663.1,1238.8 Z" fill="#c824f0" stroke="#c824f0" stroke-width="0.8" stroke-linejoin="round"/>
<text x="124.6" y="918.3" font-size="72.5" fill="#000" text-anchor="start">(b)</text>
<rect x="719.3" y="855.7" width="176.2" height="81.3" fill="#00f0f0"/>
<text x="722.9" y="907.4" font-size="53" fill="#000" text-anchor="start" font-weight="bold">In 3d<tspan font-size="31" dy="18.6">5/2</tspan></text>
<text x="426.5" y="893.0" font-size="33" fill="#767676" text-anchor="end">InP bulk</text>
<text x="258.5" y="982.0" font-size="33" fill="#0a8060" text-anchor="start">In<tspan font-size="30" dy="11">2</tspan><tspan dy="-11">O</tspan><tspan font-size="30" dy="11">3</tspan></text>
<rect x="259.7" y="997.5" width="83.7" height="43.4" fill="#11ee11"/>
<text x="301.5" y="1030.4" font-size="33" fill="#0a8060" text-anchor="middle">-1.05</text>
<text x="660.2" y="1011.8" font-size="33" fill="#0000ff" text-anchor="start">InPO<tspan font-size="30" dy="11">4</tspan><tspan dy="-11"> Interface</tspan></text>
<rect x="663.6" y="1028.6" width="98.9" height="44.2" fill="#11ee11"/>
<text x="712.4" y="1061.9" font-size="33" fill="#0000ff" text-anchor="middle">+ 0.87</text>
<text x="687.2" y="1226.8" font-size="33" fill="#c824f0" text-anchor="start">Extrinsic</text>
<text x="689.9" y="1264.3" font-size="32.6" fill="#c824f0" text-anchor="start">contamination</text>
<rect x="720.9" y="1283.4" width="99.9" height="44.2" fill="#11ee11"/>
<text x="770.2" y="1316.7" font-size="33" fill="#c824f0" text-anchor="middle">+ 1.54</text>
<rect x="135.2" y="1085.6" width="228.6" height="48.6" fill="#b8bbf3"/>
<text x="137.5" y="1122.4" font-size="28.6" fill="#000" text-anchor="start">Nitridation 250 °C</text>
<rect x="133.9" y="1417.3" width="161.8" height="44.2" fill="#b8bbf3"/>
<text x="136.7" y="1450.6" font-size="28.2" fill="#000" text-anchor="start">Native oxide</text>
<rect x="162.1" y="1228.1" width="249.4" height="70.7" fill="#ffff00"/>
<circle cx="195.9" cy="1246.8" r="5.2" fill="#fff" stroke="#111" stroke-width="1.5"/>
<text x="231.7" y="1257.0" font-size="26.8" fill="#000" text-anchor="start">Measurements</text>
<line x1="165.6" y1="1279.5" x2="226.3" y2="1279.5" stroke="#000" stroke-width="3"/>
<text x="231.7" y="1289.0" font-size="26.8" fill="#000" text-anchor="start">Fit</text>
<line x1="116.2" y1="1409.8" x2="122.7" y2="1409.8" class="tk"/>
<line x1="116.2" y1="1285.8" x2="122.7" y2="1285.8" class="tk"/>
<line x1="116.2" y1="1162.0" x2="122.7" y2="1162.0" class="tk"/>
<line x1="116.2" y1="1038.0" x2="122.7" y2="1038.0" class="tk"/>
<line x1="116.2" y1="914.1" x2="122.7" y2="914.1" class="tk"/>
<line x1="110.2" y1="1471.7" x2="122.7" y2="1471.7" class="tk"/>
<text x="101.8" y="1480.3" text-anchor="end" class="tl" style="font-size:29.5px">0.0</text>
<line x1="110.2" y1="1347.8" x2="122.7" y2="1347.8" class="tk"/>
<text x="101.8" y="1356.4" text-anchor="end" class="tl" style="font-size:29.5px">0.5</text>
<line x1="110.2" y1="1223.9" x2="122.7" y2="1223.9" class="tk"/>
<text x="101.8" y="1232.5" text-anchor="end" class="tl" style="font-size:29.5px">1.0</text>
<line x1="110.2" y1="1100.0" x2="122.7" y2="1100.0" class="tk"/>
<text x="101.8" y="1108.6" text-anchor="end" class="tl" style="font-size:29.5px">1.5</text>
<line x1="110.2" y1="976.1" x2="122.7" y2="976.1" class="tk"/>
<text x="101.8" y="984.7" text-anchor="end" class="tl" style="font-size:29.5px">2.0</text>
<line x1="110.2" y1="852.2" x2="122.7" y2="852.2" class="tk"/>
<text x="101.8" y="860.8" text-anchor="end" class="tl" style="font-size:29.5px">2.5</text>
<line x1="200.3" y1="1477.1" x2="200.3" y2="1483.1" class="tk"/>
<line x1="355.5" y1="1477.1" x2="355.5" y2="1483.1" class="tk"/>
<line x1="510.6" y1="1477.1" x2="510.6" y2="1483.1" class="tk"/>
<line x1="665.8" y1="1477.1" x2="665.8" y2="1483.1" class="tk"/>
<line x1="821.0" y1="1477.1" x2="821.0" y2="1483.1" class="tk"/>
<line x1="122.7" y1="1477.1" x2="122.7" y2="1489.6" class="tk"/>
<text x="123.3" y="1520.6" text-anchor="middle" class="tl">440</text>
<line x1="277.9" y1="1477.1" x2="277.9" y2="1489.6" class="tk"/>
<text x="278.5" y="1520.6" text-anchor="middle" class="tl">442</text>
<line x1="433.1" y1="1477.1" x2="433.1" y2="1489.6" class="tk"/>
<text x="433.7" y="1520.6" text-anchor="middle" class="tl">444</text>
<line x1="588.2" y1="1477.1" x2="588.2" y2="1489.6" class="tk"/>
<text x="588.8" y="1520.6" text-anchor="middle" class="tl">446</text>
<line x1="743.4" y1="1477.1" x2="743.4" y2="1489.6" class="tk"/>
<text x="744.0" y="1520.6" text-anchor="middle" class="tl">448</text>
<line x1="898.6" y1="1477.1" x2="898.6" y2="1489.6" class="tk"/>
<text x="899.2" y="1520.6" text-anchor="middle" class="tl">450</text>
<rect x="122.7" y="852.2" width="775.9" height="624.9" class="fr"/>
<text x="510.7" y="1578.1" text-anchor="middle" class="at">Binding energy (eV)</text>
<text transform="translate(28.2,1164.4) rotate(-90)" text-anchor="middle" class="at" font-size="38.5" style="font-size:38.5px">Normalized intensity (arb. units)</text>
<circle cx="194.2" cy="2245.0" r="5.0" class="dp"/>
<circle cx="199.1" cy="2295.0" r="5.0" class="dp"/>
<circle cx="203.4" cy="2254.5" r="5.0" class="dp"/>
<circle cx="207.8" cy="2270.2" r="5.0" class="dp"/>
<circle cx="212.6" cy="2284.0" r="5.0" class="dp"/>
<circle cx="217.3" cy="2267.2" r="5.0" class="dp"/>
<circle cx="222.0" cy="2288.4" r="5.0" class="dp"/>
<circle cx="226.0" cy="2309.7" r="5.0" class="dp"/>
<circle cx="230.7" cy="2295.8" r="5.0" class="dp"/>
<circle cx="235.2" cy="2231.1" r="5.0" class="dp"/>
<circle cx="239.9" cy="2258.0" r="5.0" class="dp"/>
<circle cx="244.6" cy="2292.7" r="5.0" class="dp"/>
<circle cx="249.1" cy="2282.6" r="5.0" class="dp"/>
<circle cx="253.8" cy="2262.3" r="5.0" class="dp"/>
<circle cx="257.7" cy="2235.1" r="5.0" class="dp"/>
<circle cx="263.3" cy="2237.5" r="5.0" class="dp"/>
<circle cx="267.1" cy="2218.1" r="5.0" class="dp"/>
<circle cx="272.0" cy="2230.6" r="5.0" class="dp"/>
<circle cx="276.3" cy="2268.1" r="5.0" class="dp"/>
<circle cx="281.0" cy="2282.0" r="5.0" class="dp"/>
<circle cx="285.5" cy="2293.6" r="5.0" class="dp"/>
<circle cx="290.5" cy="2280.6" r="5.0" class="dp"/>
<circle cx="294.9" cy="2235.1" r="5.0" class="dp"/>
<circle cx="299.7" cy="2276.2" r="5.0" class="dp"/>
<circle cx="304.1" cy="2228.2" r="5.0" class="dp"/>
<circle cx="308.4" cy="2224.7" r="5.0" class="dp"/>
<circle cx="312.8" cy="2274.0" r="5.0" class="dp"/>
<circle cx="317.4" cy="2235.1" r="5.0" class="dp"/>
<circle cx="322.0" cy="2218.1" r="5.0" class="dp"/>
<circle cx="326.6" cy="2251.1" r="5.0" class="dp"/>
<circle cx="331.3" cy="2216.7" r="5.0" class="dp"/>
<circle cx="336.2" cy="2212.9" r="5.0" class="dp"/>
<circle cx="340.8" cy="2193.9" r="5.0" class="dp"/>
<circle cx="346.0" cy="2195.2" r="5.0" class="dp"/>
<circle cx="349.9" cy="2179.6" r="5.0" class="dp"/>
<circle cx="354.0" cy="2208.3" r="5.0" class="dp"/>
<circle cx="358.4" cy="2199.1" r="5.0" class="dp"/>
<circle cx="363.5" cy="2186.0" r="5.0" class="dp"/>
<circle cx="366.9" cy="2179.0" r="5.0" class="dp"/>
<circle cx="372.1" cy="2166.6" r="5.0" class="dp"/>
<circle cx="377.3" cy="2177.0" r="5.0" class="dp"/>
<circle cx="381.8" cy="2131.5" r="5.0" class="dp"/>
<circle cx="385.7" cy="2081.3" r="5.0" class="dp"/>
<circle cx="390.3" cy="2088.5" r="5.0" class="dp"/>
<circle cx="394.8" cy="2106.7" r="5.0" class="dp"/>
<circle cx="399.4" cy="2058.6" r="5.0" class="dp"/>
<circle cx="403.3" cy="2056.0" r="5.0" class="dp"/>
<circle cx="408.5" cy="2052.7" r="5.0" class="dp"/>
<circle cx="414.5" cy="2034.8" r="5.0" class="dp"/>
<circle cx="418.5" cy="2030.9" r="5.0" class="dp"/>
<circle cx="422.4" cy="2021.6" r="5.0" class="dp"/>
<circle cx="427.7" cy="1942.5" r="5.0" class="dp"/>
<circle cx="431.7" cy="1898.9" r="5.0" class="dp"/>
<circle cx="436.3" cy="1935.2" r="5.0" class="dp"/>
<circle cx="440.9" cy="1907.5" r="5.0" class="dp"/>
<circle cx="445.5" cy="1836.2" r="5.0" class="dp"/>
<circle cx="450.2" cy="1825.0" r="5.0" class="dp"/>
<circle cx="454.6" cy="1790.0" r="5.0" class="dp"/>
<circle cx="458.1" cy="1762.3" r="5.0" class="dp"/>
<circle cx="463.4" cy="1751.1" r="5.0" class="dp"/>
<circle cx="468.0" cy="1753.1" r="5.0" class="dp"/>
<circle cx="473.9" cy="1745.2" r="5.0" class="dp"/>
<circle cx="477.5" cy="1768.0" r="5.0" class="dp"/>
<circle cx="481.8" cy="1779.5" r="5.0" class="dp"/>
<circle cx="485.8" cy="1842.2" r="5.0" class="dp"/>
<circle cx="491.1" cy="1830.3" r="5.0" class="dp"/>
<circle cx="496.4" cy="1868.6" r="5.0" class="dp"/>
<circle cx="500.3" cy="1865.9" r="5.0" class="dp"/>
<circle cx="505.6" cy="1891.0" r="5.0" class="dp"/>
<circle cx="509.6" cy="1978.1" r="5.0" class="dp"/>
<circle cx="514.9" cy="2008.4" r="5.0" class="dp"/>
<circle cx="518.7" cy="2017.8" r="5.0" class="dp"/>
<circle cx="522.6" cy="2072.1" r="5.0" class="dp"/>
<circle cx="527.8" cy="2061.7" r="5.0" class="dp"/>
<circle cx="532.1" cy="2053.0" r="5.0" class="dp"/>
<circle cx="537.3" cy="2103.3" r="5.0" class="dp"/>
<circle cx="541.6" cy="2105.1" r="5.0" class="dp"/>
<circle cx="546.0" cy="2092.1" r="5.0" class="dp"/>
<circle cx="550.3" cy="2134.6" r="5.0" class="dp"/>
<circle cx="556.4" cy="2141.5" r="5.0" class="dp"/>
<circle cx="560.7" cy="2145.9" r="5.0" class="dp"/>
<circle cx="564.2" cy="2107.7" r="5.0" class="dp"/>
<circle cx="568.5" cy="2172.8" r="5.0" class="dp"/>
<circle cx="572.9" cy="2126.8" r="5.0" class="dp"/>
<circle cx="578.1" cy="2209.2" r="5.0" class="dp"/>
<circle cx="581.6" cy="2197.9" r="5.0" class="dp"/>
<circle cx="587.6" cy="2190.1" r="5.0" class="dp"/>
<circle cx="592.0" cy="2171.9" r="5.0" class="dp"/>
<circle cx="596.3" cy="2186.6" r="5.0" class="dp"/>
<circle cx="600.7" cy="2164.1" r="5.0" class="dp"/>
<circle cx="606.7" cy="2222.2" r="5.0" class="dp"/>
<circle cx="610.2" cy="2209.2" r="5.0" class="dp"/>
<circle cx="614.5" cy="2221.3" r="5.0" class="dp"/>
<circle cx="618.9" cy="2197.1" r="5.0" class="dp"/>
<circle cx="623.2" cy="2227.4" r="5.0" class="dp"/>
<circle cx="628.4" cy="2192.7" r="5.0" class="dp"/>
<circle cx="632.8" cy="2230.0" r="5.0" class="dp"/>
<circle cx="637.1" cy="2190.1" r="5.0" class="dp"/>
<circle cx="643.1" cy="2216.8" r="5.0" class="dp"/>
<circle cx="648.2" cy="2222.0" r="5.0" class="dp"/>
<circle cx="651.3" cy="2235.4" r="5.0" class="dp"/>
<circle cx="656.1" cy="2224.7" r="5.0" class="dp"/>
<circle cx="659.6" cy="2259.7" r="5.0" class="dp"/>
<circle cx="664.7" cy="2243.2" r="5.0" class="dp"/>
<circle cx="668.8" cy="2276.6" r="5.0" class="dp"/>
<circle cx="673.4" cy="2224.7" r="5.0" class="dp"/>
<circle cx="678.1" cy="2198.3" r="5.0" class="dp"/>
<circle cx="682.9" cy="2219.3" r="5.0" class="dp"/>
<circle cx="687.4" cy="2280.7" r="5.0" class="dp"/>
<circle cx="691.9" cy="2240.5" r="5.0" class="dp"/>
<circle cx="696.7" cy="2282.8" r="5.0" class="dp"/>
<circle cx="701.4" cy="2226.7" r="5.0" class="dp"/>
<circle cx="705.5" cy="2208.6" r="5.0" class="dp"/>
<circle cx="711.1" cy="2206.5" r="5.0" class="dp"/>
<circle cx="714.6" cy="2251.9" r="5.0" class="dp"/>
<circle cx="719.3" cy="2246.1" r="5.0" class="dp"/>
<circle cx="724.1" cy="2244.7" r="5.0" class="dp"/>
<circle cx="728.6" cy="2257.6" r="5.0" class="dp"/>
<circle cx="733.1" cy="2230.2" r="5.0" class="dp"/>
<circle cx="737.9" cy="2276.2" r="5.0" class="dp"/>
<circle cx="742.0" cy="2264.2" r="5.0" class="dp"/>
<circle cx="747.1" cy="2259.7" r="5.0" class="dp"/>
<circle cx="752.3" cy="2255.0" r="5.0" class="dp"/>
<circle cx="756.4" cy="2253.9" r="5.0" class="dp"/>
<circle cx="760.5" cy="2242.6" r="5.0" class="dp"/>
<circle cx="765.7" cy="2244.7" r="5.0" class="dp"/>
<circle cx="769.4" cy="2216.8" r="5.0" class="dp"/>
<circle cx="773.9" cy="2275.0" r="5.0" class="dp"/>
<circle cx="778.5" cy="2282.8" r="5.0" class="dp"/>
<circle cx="783.2" cy="2252.9" r="5.0" class="dp"/>
<circle cx="788.0" cy="2238.5" r="5.0" class="dp"/>
<circle cx="792.5" cy="2257.6" r="5.0" class="dp"/>
<circle cx="797.0" cy="2243.2" r="5.0" class="dp"/>
<circle cx="801.8" cy="2235.4" r="5.0" class="dp"/>
<circle cx="805.9" cy="2265.3" r="5.0" class="dp"/>
<circle cx="810.6" cy="2244.7" r="5.0" class="dp"/>
<path d="M194.4,2250.0 L194.4,2247.9 196.7,2247.8 199.0,2247.8 201.3,2247.8 203.6,2247.7 205.9,2247.7 208.2,2247.6 210.5,2247.6 212.8,2247.6 215.1,2247.5 217.4,2247.5 219.7,2247.4 222.1,2247.4 224.4,2247.3 226.7,2247.3 229.0,2247.2 231.3,2247.2 233.6,2247.1 235.9,2247.1 238.2,2247.0 240.5,2246.9 242.8,2246.9 245.1,2246.8 247.4,2246.8 249.8,2246.7 252.1,2246.6 254.4,2246.6 256.7,2246.5 259.0,2246.4 261.3,2246.3 263.6,2246.2 265.9,2246.2 268.2,2246.1 270.5,2246.0 272.8,2245.9 275.1,2245.8 277.5,2245.7 279.8,2245.6 282.1,2245.5 284.4,2245.4 286.7,2245.3 289.0,2245.2 291.3,2245.1 293.6,2244.9 295.9,2244.8 298.2,2244.7 300.5,2244.5 302.8,2244.4 305.1,2244.2 307.5,2244.1 309.8,2243.9 312.1,2243.8 314.4,2243.6 316.7,2243.4 319.0,2243.2 321.3,2243.0 323.6,2242.8 325.9,2242.6 328.2,2242.4 330.5,2242.1 332.8,2241.9 335.2,2241.6 337.5,2241.3 339.8,2241.1 342.1,2240.8 344.4,2240.4 346.7,2240.1 349.0,2239.7 351.3,2239.4 353.6,2239.0 355.9,2238.5 358.2,2238.1 360.5,2237.6 362.9,2237.1 365.2,2236.5 367.5,2235.8 369.8,2235.1 372.1,2234.3 374.4,2233.4 376.7,2232.5 379.0,2231.3 381.3,2230.1 383.6,2228.6 385.9,2227.0 388.2,2225.1 390.6,2222.9 392.9,2220.4 395.2,2217.6 397.5,2214.3 399.8,2210.5 402.1,2206.1 404.4,2201.2 406.7,2195.5 409.0,2189.1 411.3,2181.9 413.6,2173.8 415.9,2164.7 418.3,2154.6 420.6,2143.4 422.9,2131.1 425.2,2117.7 427.5,2103.1 429.8,2087.4 432.1,2070.6 434.4,2052.7 436.7,2033.9 439.0,2014.2 441.3,1993.7 443.6,1972.7 445.9,1951.2 448.3,1929.6 450.6,1908.1 452.9,1887.0 455.2,1866.6 457.5,1847.3 459.8,1829.3 462.1,1813.1 464.4,1799.1 466.7,1787.6 469.0,1778.9 471.3,1773.3 473.6,1770.9 476.0,1771.9 478.3,1776.1 480.6,1783.5 482.9,1793.9 485.2,1806.9 487.5,1822.2 489.8,1839.4 492.1,1858.3 494.4,1878.3 496.7,1899.1 499.0,1920.5 501.3,1942.1 503.7,1963.6 506.0,1984.8 508.3,2005.6 510.6,2025.6 512.9,2044.9 515.2,2063.2 517.5,2080.4 519.8,2096.6 522.1,2111.7 524.4,2125.6 526.7,2138.3 529.0,2150.0 531.4,2160.5 533.7,2170.0 536.0,2178.6 538.3,2186.2 540.6,2192.9 542.9,2198.9 545.2,2204.1 547.5,2208.7 549.8,2212.7 552.1,2216.2 554.4,2219.3 556.7,2221.9 559.1,2224.2 561.4,2226.2 563.7,2228.0 566.0,2229.5 568.3,2230.8 570.6,2232.0 572.9,2233.0 575.2,2234.0 577.5,2234.8 579.8,2235.5 582.1,2236.2 584.4,2236.8 586.7,2237.4 589.1,2237.9 591.4,2238.4 593.7,2238.8 596.0,2239.2 598.3,2239.6 600.6,2240.0 602.9,2240.3 605.2,2240.6 607.5,2240.9 609.8,2241.2 612.1,2241.5 614.4,2241.8 616.8,2242.0 619.1,2242.3 621.4,2242.5 623.7,2242.7 626.0,2242.9 628.3,2243.1 630.6,2243.3 632.9,2243.5 635.2,2243.7 637.5,2243.8 639.8,2244.0 642.1,2244.2 644.5,2244.3 646.8,2244.5 649.1,2244.6 651.4,2244.7 653.7,2244.9 656.0,2245.0 658.3,2245.1 660.6,2245.2 662.9,2245.4 665.2,2245.5 667.5,2245.6 669.8,2245.7 672.2,2245.8 674.5,2245.9 676.8,2246.0 679.1,2246.0 681.4,2246.1 683.7,2246.2 686.0,2246.3 688.3,2246.4 690.6,2246.4 692.9,2246.5 695.2,2246.6 697.5,2246.7 699.8,2246.7 702.2,2246.8 704.5,2246.9 706.8,2246.9 709.1,2247.0 711.4,2247.0 713.7,2247.1 716.0,2247.2 718.3,2247.2 720.6,2247.3 722.9,2247.3 725.2,2247.4 727.5,2247.4 729.9,2247.5 732.2,2247.5 734.5,2247.5 736.8,2247.6 739.1,2247.6 741.4,2247.7 743.7,2247.7 746.0,2247.7 748.3,2247.8 750.6,2247.8 752.9,2247.9 755.2,2247.9 757.6,2247.9 759.9,2248.0 762.2,2248.0 764.5,2248.0 766.8,2248.1 769.1,2248.1 771.4,2248.1 773.7,2248.1 776.0,2248.2 778.3,2248.2 780.6,2248.2 782.9,2248.3 785.3,2248.3 787.6,2248.3 789.9,2248.3 792.2,2248.4 L792.2,2250.0 Z" fill="rgba(140,60,170,0.5)" stroke="none"/>
<polyline points="194.4,2247.9 196.7,2247.8 199.0,2247.8 201.3,2247.8 203.6,2247.7 205.9,2247.7 208.2,2247.6 210.5,2247.6 212.8,2247.6 215.1,2247.5 217.4,2247.5 219.7,2247.4 222.1,2247.4 224.4,2247.3 226.7,2247.3 229.0,2247.2 231.3,2247.2 233.6,2247.1 235.9,2247.1 238.2,2247.0 240.5,2246.9 242.8,2246.9 245.1,2246.8 247.4,2246.8 249.8,2246.7 252.1,2246.6 254.4,2246.6 256.7,2246.5 259.0,2246.4 261.3,2246.3 263.6,2246.2 265.9,2246.2 268.2,2246.1 270.5,2246.0 272.8,2245.9 275.1,2245.8 277.5,2245.7 279.8,2245.6 282.1,2245.5 284.4,2245.4 286.7,2245.3 289.0,2245.2 291.3,2245.1 293.6,2244.9 295.9,2244.8 298.2,2244.7 300.5,2244.5 302.8,2244.4 305.1,2244.2 307.5,2244.1 309.8,2243.9 312.1,2243.8 314.4,2243.6 316.7,2243.4 319.0,2243.2 321.3,2243.0 323.6,2242.8 325.9,2242.6 328.2,2242.4 330.5,2242.1 332.8,2241.9 335.2,2241.6 337.5,2241.3 339.8,2241.1 342.1,2240.8 344.4,2240.4 346.7,2240.1 349.0,2239.7 351.3,2239.4 353.6,2239.0 355.9,2238.5 358.2,2238.1 360.5,2237.6 362.9,2237.1 365.2,2236.5 367.5,2235.8 369.8,2235.1 372.1,2234.3 374.4,2233.4 376.7,2232.5 379.0,2231.3 381.3,2230.1 383.6,2228.6 385.9,2227.0 388.2,2225.1 390.6,2222.9 392.9,2220.4 395.2,2217.6 397.5,2214.3 399.8,2210.5 402.1,2206.1 404.4,2201.2 406.7,2195.5 409.0,2189.1 411.3,2181.9 413.6,2173.8 415.9,2164.7 418.3,2154.6 420.6,2143.4 422.9,2131.1 425.2,2117.7 427.5,2103.1 429.8,2087.4 432.1,2070.6 434.4,2052.7 436.7,2033.9 439.0,2014.2 441.3,1993.7 443.6,1972.7 445.9,1951.2 448.3,1929.6 450.6,1908.1 452.9,1887.0 455.2,1866.6 457.5,1847.3 459.8,1829.3 462.1,1813.1 464.4,1799.1 466.7,1787.6 469.0,1778.9 471.3,1773.3 473.6,1770.9 476.0,1771.9 478.3,1776.1 480.6,1783.5 482.9,1793.9 485.2,1806.9 487.5,1822.2 489.8,1839.4 492.1,1858.3 494.4,1878.3 496.7,1899.1 499.0,1920.5 501.3,1942.1 503.7,1963.6 506.0,1984.8 508.3,2005.6 510.6,2025.6 512.9,2044.9 515.2,2063.2 517.5,2080.4 519.8,2096.6 522.1,2111.7 524.4,2125.6 526.7,2138.3 529.0,2150.0 531.4,2160.5 533.7,2170.0 536.0,2178.6 538.3,2186.2 540.6,2192.9 542.9,2198.9 545.2,2204.1 547.5,2208.7 549.8,2212.7 552.1,2216.2 554.4,2219.3 556.7,2221.9 559.1,2224.2 561.4,2226.2 563.7,2228.0 566.0,2229.5 568.3,2230.8 570.6,2232.0 572.9,2233.0 575.2,2234.0 577.5,2234.8 579.8,2235.5 582.1,2236.2 584.4,2236.8 586.7,2237.4 589.1,2237.9 591.4,2238.4 593.7,2238.8 596.0,2239.2 598.3,2239.6 600.6,2240.0 602.9,2240.3 605.2,2240.6 607.5,2240.9 609.8,2241.2 612.1,2241.5 614.4,2241.8 616.8,2242.0 619.1,2242.3 621.4,2242.5 623.7,2242.7 626.0,2242.9 628.3,2243.1 630.6,2243.3 632.9,2243.5 635.2,2243.7 637.5,2243.8 639.8,2244.0 642.1,2244.2 644.5,2244.3 646.8,2244.5 649.1,2244.6 651.4,2244.7 653.7,2244.9 656.0,2245.0 658.3,2245.1 660.6,2245.2 662.9,2245.4 665.2,2245.5 667.5,2245.6 669.8,2245.7 672.2,2245.8 674.5,2245.9 676.8,2246.0 679.1,2246.0 681.4,2246.1 683.7,2246.2 686.0,2246.3 688.3,2246.4 690.6,2246.4 692.9,2246.5 695.2,2246.6 697.5,2246.7 699.8,2246.7 702.2,2246.8 704.5,2246.9 706.8,2246.9 709.1,2247.0 711.4,2247.0 713.7,2247.1 716.0,2247.2 718.3,2247.2 720.6,2247.3 722.9,2247.3 725.2,2247.4 727.5,2247.4 729.9,2247.5 732.2,2247.5 734.5,2247.5 736.8,2247.6 739.1,2247.6 741.4,2247.7 743.7,2247.7 746.0,2247.7 748.3,2247.8 750.6,2247.8 752.9,2247.9 755.2,2247.9 757.6,2247.9 759.9,2248.0 762.2,2248.0 764.5,2248.0 766.8,2248.1 769.1,2248.1 771.4,2248.1 773.7,2248.1 776.0,2248.2 778.3,2248.2 780.6,2248.2 782.9,2248.3 785.3,2248.3 787.6,2248.3 789.9,2248.3 792.2,2248.4" fill="none" stroke="#660099" stroke-width="2.3" stroke-linejoin="round"/>
<path d="M299.4,2250.0 L299.4,2248.4 300.3,2248.3 301.1,2248.3 302.0,2248.3 302.8,2248.2 303.7,2248.2 304.5,2248.2 305.4,2248.1 306.3,2248.1 307.1,2248.1 308.0,2248.0 308.8,2248.0 309.7,2248.0 310.5,2247.9 311.4,2247.9 312.2,2247.8 313.1,2247.8 313.9,2247.7 314.8,2247.7 315.6,2247.6 316.5,2247.5 317.3,2247.5 318.2,2247.4 319.0,2247.3 319.9,2247.2 320.7,2247.1 321.6,2247.1 322.4,2247.0 323.3,2246.9 324.1,2246.7 325.0,2246.6 325.8,2246.5 326.7,2246.4 327.5,2246.2 328.4,2246.1 329.3,2245.9 330.1,2245.7 331.0,2245.5 331.8,2245.3 332.7,2245.1 333.5,2244.8 334.4,2244.6 335.2,2244.3 336.1,2244.0 336.9,2243.7 337.8,2243.4 338.6,2243.0 339.5,2242.6 340.3,2242.2 341.2,2241.8 342.0,2241.3 342.9,2240.8 343.7,2240.3 344.6,2239.8 345.4,2239.2 346.3,2238.5 347.1,2237.9 348.0,2237.2 348.8,2236.4 349.7,2235.6 350.6,2234.8 351.4,2233.9 352.3,2233.0 353.1,2232.0 354.0,2230.9 354.8,2229.8 355.7,2228.7 356.5,2227.5 357.4,2226.2 358.2,2224.9 359.1,2223.5 359.9,2222.1 360.8,2220.6 361.6,2219.0 362.5,2217.4 363.3,2215.7 364.2,2213.9 365.0,2212.1 365.9,2210.2 366.7,2208.2 367.6,2206.2 368.4,2204.1 369.3,2201.9 370.1,2199.7 371.0,2197.4 371.8,2195.0 372.7,2192.6 373.6,2190.1 374.4,2187.6 375.3,2185.1 376.1,2182.4 377.0,2179.8 377.8,2177.1 378.7,2174.3 379.5,2171.5 380.4,2168.7 381.2,2165.9 382.1,2163.0 382.9,2160.1 383.8,2157.2 384.6,2154.3 385.5,2151.4 386.3,2148.5 387.2,2145.7 388.0,2142.8 388.9,2140.0 389.7,2137.2 390.6,2134.4 391.4,2131.7 392.3,2129.0 393.1,2126.4 394.0,2123.9 394.8,2121.5 395.7,2119.1 396.6,2116.8 397.4,2114.6 398.3,2112.6 399.1,2110.6 400.0,2108.8 400.8,2107.0 401.7,2105.5 402.5,2104.0 403.4,2102.7 404.2,2101.6 405.1,2100.6 405.9,2099.7 406.8,2099.1 407.6,2098.6 408.5,2098.2 409.3,2098.0 410.2,2098.0 411.0,2098.2 411.9,2098.5 412.7,2099.0 413.6,2099.7 414.4,2100.5 415.3,2101.5 416.1,2102.6 417.0,2103.9 417.8,2105.4 418.7,2106.9 419.6,2108.6 420.4,2110.5 421.3,2112.4 422.1,2114.5 423.0,2116.7 423.8,2118.9 424.7,2121.3 425.5,2123.8 426.4,2126.3 427.2,2128.9 428.1,2131.5 428.9,2134.2 429.8,2137.0 430.6,2139.8 431.5,2142.6 432.3,2145.5 433.2,2148.4 434.0,2151.3 434.9,2154.2 435.7,2157.0 436.6,2159.9 437.4,2162.8 438.3,2165.7 439.1,2168.5 440.0,2171.3 440.9,2174.1 441.7,2176.9 442.6,2179.6 443.4,2182.3 444.3,2184.9 445.1,2187.5 446.0,2190.0 446.8,2192.5 447.7,2194.9 448.5,2197.2 449.4,2199.5 450.2,2201.8 451.1,2203.9 451.9,2206.0 452.8,2208.1 453.6,2210.0 454.5,2211.9 455.3,2213.8 456.2,2215.6 457.0,2217.3 457.9,2218.9 458.7,2220.5 459.6,2222.0 460.4,2223.4 461.3,2224.8 462.1,2226.2 463.0,2227.4 463.9,2228.6 464.7,2229.8 465.6,2230.9 466.4,2231.9 467.3,2232.9 468.1,2233.8 469.0,2234.7 469.8,2235.6 470.7,2236.4 471.5,2237.1 472.4,2237.8 473.2,2238.5 474.1,2239.1 474.9,2239.7 475.8,2240.3 476.6,2240.8 477.5,2241.3 478.3,2241.8 479.2,2242.2 480.0,2242.6 480.9,2243.0 481.7,2243.4 482.6,2243.7 483.4,2244.0 484.3,2244.3 485.1,2244.6 486.0,2244.8 486.9,2245.1 487.7,2245.3 488.6,2245.5 489.4,2245.7 490.3,2245.9 491.1,2246.0 492.0,2246.2 492.8,2246.3 493.7,2246.5 494.5,2246.6 495.4,2246.7 496.2,2246.8 497.1,2247.0 497.9,2247.1 498.8,2247.1 499.6,2247.2 500.5,2247.3 501.3,2247.4 502.2,2247.5 503.0,2247.5 503.9,2247.6 504.7,2247.7 505.6,2247.7 506.4,2247.8 507.3,2247.8 508.2,2247.9 509.0,2247.9 509.9,2248.0 510.7,2248.0 511.6,2248.0 512.4,2248.1 513.3,2248.1 514.1,2248.1 515.0,2248.2 515.8,2248.2 516.7,2248.2 517.5,2248.3 518.4,2248.3 519.2,2248.3 520.1,2248.4 L520.1,2250.0 Z" fill="rgba(150,20,20,0.38)" stroke="none"/>
<polyline points="299.4,2248.4 300.3,2248.3 301.1,2248.3 302.0,2248.3 302.8,2248.2 303.7,2248.2 304.5,2248.2 305.4,2248.1 306.3,2248.1 307.1,2248.1 308.0,2248.0 308.8,2248.0 309.7,2248.0 310.5,2247.9 311.4,2247.9 312.2,2247.8 313.1,2247.8 313.9,2247.7 314.8,2247.7 315.6,2247.6 316.5,2247.5 317.3,2247.5 318.2,2247.4 319.0,2247.3 319.9,2247.2 320.7,2247.1 321.6,2247.1 322.4,2247.0 323.3,2246.9 324.1,2246.7 325.0,2246.6 325.8,2246.5 326.7,2246.4 327.5,2246.2 328.4,2246.1 329.3,2245.9 330.1,2245.7 331.0,2245.5 331.8,2245.3 332.7,2245.1 333.5,2244.8 334.4,2244.6 335.2,2244.3 336.1,2244.0 336.9,2243.7 337.8,2243.4 338.6,2243.0 339.5,2242.6 340.3,2242.2 341.2,2241.8 342.0,2241.3 342.9,2240.8 343.7,2240.3 344.6,2239.8 345.4,2239.2 346.3,2238.5 347.1,2237.9 348.0,2237.2 348.8,2236.4 349.7,2235.6 350.6,2234.8 351.4,2233.9 352.3,2233.0 353.1,2232.0 354.0,2230.9 354.8,2229.8 355.7,2228.7 356.5,2227.5 357.4,2226.2 358.2,2224.9 359.1,2223.5 359.9,2222.1 360.8,2220.6 361.6,2219.0 362.5,2217.4 363.3,2215.7 364.2,2213.9 365.0,2212.1 365.9,2210.2 366.7,2208.2 367.6,2206.2 368.4,2204.1 369.3,2201.9 370.1,2199.7 371.0,2197.4 371.8,2195.0 372.7,2192.6 373.6,2190.1 374.4,2187.6 375.3,2185.1 376.1,2182.4 377.0,2179.8 377.8,2177.1 378.7,2174.3 379.5,2171.5 380.4,2168.7 381.2,2165.9 382.1,2163.0 382.9,2160.1 383.8,2157.2 384.6,2154.3 385.5,2151.4 386.3,2148.5 387.2,2145.7 388.0,2142.8 388.9,2140.0 389.7,2137.2 390.6,2134.4 391.4,2131.7 392.3,2129.0 393.1,2126.4 394.0,2123.9 394.8,2121.5 395.7,2119.1 396.6,2116.8 397.4,2114.6 398.3,2112.6 399.1,2110.6 400.0,2108.8 400.8,2107.0 401.7,2105.5 402.5,2104.0 403.4,2102.7 404.2,2101.6 405.1,2100.6 405.9,2099.7 406.8,2099.1 407.6,2098.6 408.5,2098.2 409.3,2098.0 410.2,2098.0 411.0,2098.2 411.9,2098.5 412.7,2099.0 413.6,2099.7 414.4,2100.5 415.3,2101.5 416.1,2102.6 417.0,2103.9 417.8,2105.4 418.7,2106.9 419.6,2108.6 420.4,2110.5 421.3,2112.4 422.1,2114.5 423.0,2116.7 423.8,2118.9 424.7,2121.3 425.5,2123.8 426.4,2126.3 427.2,2128.9 428.1,2131.5 428.9,2134.2 429.8,2137.0 430.6,2139.8 431.5,2142.6 432.3,2145.5 433.2,2148.4 434.0,2151.3 434.9,2154.2 435.7,2157.0 436.6,2159.9 437.4,2162.8 438.3,2165.7 439.1,2168.5 440.0,2171.3 440.9,2174.1 441.7,2176.9 442.6,2179.6 443.4,2182.3 444.3,2184.9 445.1,2187.5 446.0,2190.0 446.8,2192.5 447.7,2194.9 448.5,2197.2 449.4,2199.5 450.2,2201.8 451.1,2203.9 451.9,2206.0 452.8,2208.1 453.6,2210.0 454.5,2211.9 455.3,2213.8 456.2,2215.6 457.0,2217.3 457.9,2218.9 458.7,2220.5 459.6,2222.0 460.4,2223.4 461.3,2224.8 462.1,2226.2 463.0,2227.4 463.9,2228.6 464.7,2229.8 465.6,2230.9 466.4,2231.9 467.3,2232.9 468.1,2233.8 469.0,2234.7 469.8,2235.6 470.7,2236.4 471.5,2237.1 472.4,2237.8 473.2,2238.5 474.1,2239.1 474.9,2239.7 475.8,2240.3 476.6,2240.8 477.5,2241.3 478.3,2241.8 479.2,2242.2 480.0,2242.6 480.9,2243.0 481.7,2243.4 482.6,2243.7 483.4,2244.0 484.3,2244.3 485.1,2244.6 486.0,2244.8 486.9,2245.1 487.7,2245.3 488.6,2245.5 489.4,2245.7 490.3,2245.9 491.1,2246.0 492.0,2246.2 492.8,2246.3 493.7,2246.5 494.5,2246.6 495.4,2246.7 496.2,2246.8 497.1,2247.0 497.9,2247.1 498.8,2247.1 499.6,2247.2 500.5,2247.3 501.3,2247.4 502.2,2247.5 503.0,2247.5 503.9,2247.6 504.7,2247.7 505.6,2247.7 506.4,2247.8 507.3,2247.8 508.2,2247.9 509.0,2247.9 509.9,2248.0 510.7,2248.0 511.6,2248.0 512.4,2248.1 513.3,2248.1 514.1,2248.1 515.0,2248.2 515.8,2248.2 516.7,2248.2 517.5,2248.3 518.4,2248.3 519.2,2248.3 520.1,2248.4" fill="none" stroke="#800000" stroke-width="2.3" stroke-linejoin="round"/>
<path d="M194.4,2250.0 L194.4,2249.9 196.7,2249.9 199.1,2249.9 201.5,2249.9 203.9,2249.9 206.3,2249.9 208.6,2249.9 211.0,2249.9 213.4,2249.9 215.8,2249.9 218.1,2249.9 220.5,2249.9 222.9,2249.9 225.3,2249.9 227.7,2249.9 230.0,2249.9 232.4,2249.9 234.8,2249.9 237.2,2249.9 239.6,2249.9 241.9,2249.9 244.3,2249.9 246.7,2249.9 249.1,2249.9 251.5,2249.9 253.8,2249.9 256.2,2249.9 258.6,2249.9 261.0,2249.9 263.3,2249.9 265.7,2249.9 268.1,2249.9 270.5,2249.9 272.9,2249.8 275.2,2249.8 277.6,2249.8 280.0,2249.8 282.4,2249.8 284.8,2249.8 287.1,2249.8 289.5,2249.8 291.9,2249.8 294.3,2249.8 296.7,2249.8 299.0,2249.8 301.4,2249.8 303.8,2249.8 306.2,2249.8 308.5,2249.8 310.9,2249.8 313.3,2249.8 315.7,2249.8 318.1,2249.8 320.4,2249.8 322.8,2249.8 325.2,2249.7 327.6,2249.7 330.0,2249.7 332.3,2249.7 334.7,2249.7 337.1,2249.7 339.5,2249.7 341.9,2249.7 344.2,2249.7 346.6,2249.7 349.0,2249.7 351.4,2249.7 353.7,2249.7 356.1,2249.6 358.5,2249.6 360.9,2249.6 363.3,2249.6 365.6,2249.6 368.0,2249.6 370.4,2249.6 372.8,2249.6 375.2,2249.6 377.5,2249.5 379.9,2249.5 382.3,2249.5 384.7,2249.5 387.1,2249.5 389.4,2249.5 391.8,2249.4 394.2,2249.4 396.6,2249.4 398.9,2249.4 401.3,2249.4 403.7,2249.3 406.1,2249.3 408.5,2249.3 410.8,2249.3 413.2,2249.3 415.6,2249.2 418.0,2249.2 420.4,2249.2 422.7,2249.1 425.1,2249.1 427.5,2249.1 429.9,2249.0 432.3,2249.0 434.6,2248.9 437.0,2248.9 439.4,2248.8 441.8,2248.8 444.1,2248.7 446.5,2248.7 448.9,2248.6 451.3,2248.5 453.7,2248.4 456.0,2248.3 458.4,2248.1 460.8,2248.0 463.2,2247.7 465.6,2247.5 467.9,2247.2 470.3,2246.8 472.7,2246.4 475.1,2245.9 477.5,2245.3 479.8,2244.5 482.2,2243.6 484.6,2242.5 487.0,2241.3 489.4,2239.8 491.7,2238.1 494.1,2236.1 496.5,2233.8 498.9,2231.2 501.2,2228.3 503.6,2225.1 506.0,2221.5 508.4,2217.5 510.8,2213.2 513.1,2208.6 515.5,2203.8 517.9,2198.6 520.3,2193.3 522.7,2187.9 525.0,2182.4 527.4,2176.9 529.8,2171.5 532.2,2166.4 534.6,2161.6 536.9,2157.2 539.3,2153.3 541.7,2150.1 544.1,2147.6 546.4,2145.9 548.8,2145.1 551.2,2145.1 553.6,2145.7 556.0,2147.0 558.3,2148.9 560.7,2151.4 563.1,2154.3 565.5,2157.7 567.9,2161.5 570.2,2165.5 572.6,2169.9 575.0,2174.4 577.4,2179.0 579.8,2183.7 582.1,2188.4 584.5,2193.0 586.9,2197.5 589.3,2202.0 591.6,2206.2 594.0,2210.3 596.4,2214.1 598.8,2217.7 601.2,2221.1 603.5,2224.2 605.9,2227.1 608.3,2229.7 610.7,2232.1 613.1,2234.2 615.4,2236.1 617.8,2237.8 620.2,2239.3 622.6,2240.7 625.0,2241.8 627.3,2242.9 629.7,2243.7 632.1,2244.5 634.5,2245.1 636.8,2245.7 639.2,2246.2 641.6,2246.6 644.0,2246.9 646.4,2247.2 648.7,2247.5 651.1,2247.7 653.5,2247.9 655.9,2248.0 658.3,2248.2 660.6,2248.3 663.0,2248.4 665.4,2248.5 667.8,2248.6 670.2,2248.6 672.5,2248.7 674.9,2248.7 677.3,2248.8 679.7,2248.8 682.0,2248.9 684.4,2248.9 686.8,2249.0 689.2,2249.0 691.6,2249.0 693.9,2249.1 696.3,2249.1 698.7,2249.1 701.1,2249.2 703.5,2249.2 705.8,2249.2 708.2,2249.2 710.6,2249.3 713.0,2249.3 715.4,2249.3 717.7,2249.3 720.1,2249.3 722.5,2249.4 724.9,2249.4 727.2,2249.4 729.6,2249.4 732.0,2249.4 734.4,2249.4 736.8,2249.5 739.1,2249.5 741.5,2249.5 743.9,2249.5 746.3,2249.5 748.7,2249.5 751.0,2249.5 753.4,2249.5 755.8,2249.6 758.2,2249.6 760.6,2249.6 762.9,2249.6 765.3,2249.6 767.7,2249.6 770.1,2249.6 772.4,2249.6 774.8,2249.6 777.2,2249.6 779.6,2249.7 782.0,2249.7 784.3,2249.7 786.7,2249.7 789.1,2249.7 791.5,2249.7 793.9,2249.7 796.2,2249.7 798.6,2249.7 801.0,2249.7 803.4,2249.7 805.8,2249.7 808.1,2249.7 810.5,2249.7 L810.5,2250.0 Z" fill="rgba(140,110,50,0.35)" stroke="none"/>
<polyline points="194.4,2249.9 196.7,2249.9 199.1,2249.9 201.5,2249.9 203.9,2249.9 206.3,2249.9 208.6,2249.9 211.0,2249.9 213.4,2249.9 215.8,2249.9 218.1,2249.9 220.5,2249.9 222.9,2249.9 225.3,2249.9 227.7,2249.9 230.0,2249.9 232.4,2249.9 234.8,2249.9 237.2,2249.9 239.6,2249.9 241.9,2249.9 244.3,2249.9 246.7,2249.9 249.1,2249.9 251.5,2249.9 253.8,2249.9 256.2,2249.9 258.6,2249.9 261.0,2249.9 263.3,2249.9 265.7,2249.9 268.1,2249.9 270.5,2249.9 272.9,2249.8 275.2,2249.8 277.6,2249.8 280.0,2249.8 282.4,2249.8 284.8,2249.8 287.1,2249.8 289.5,2249.8 291.9,2249.8 294.3,2249.8 296.7,2249.8 299.0,2249.8 301.4,2249.8 303.8,2249.8 306.2,2249.8 308.5,2249.8 310.9,2249.8 313.3,2249.8 315.7,2249.8 318.1,2249.8 320.4,2249.8 322.8,2249.8 325.2,2249.7 327.6,2249.7 330.0,2249.7 332.3,2249.7 334.7,2249.7 337.1,2249.7 339.5,2249.7 341.9,2249.7 344.2,2249.7 346.6,2249.7 349.0,2249.7 351.4,2249.7 353.7,2249.7 356.1,2249.6 358.5,2249.6 360.9,2249.6 363.3,2249.6 365.6,2249.6 368.0,2249.6 370.4,2249.6 372.8,2249.6 375.2,2249.6 377.5,2249.5 379.9,2249.5 382.3,2249.5 384.7,2249.5 387.1,2249.5 389.4,2249.5 391.8,2249.4 394.2,2249.4 396.6,2249.4 398.9,2249.4 401.3,2249.4 403.7,2249.3 406.1,2249.3 408.5,2249.3 410.8,2249.3 413.2,2249.3 415.6,2249.2 418.0,2249.2 420.4,2249.2 422.7,2249.1 425.1,2249.1 427.5,2249.1 429.9,2249.0 432.3,2249.0 434.6,2248.9 437.0,2248.9 439.4,2248.8 441.8,2248.8 444.1,2248.7 446.5,2248.7 448.9,2248.6 451.3,2248.5 453.7,2248.4 456.0,2248.3 458.4,2248.1 460.8,2248.0 463.2,2247.7 465.6,2247.5 467.9,2247.2 470.3,2246.8 472.7,2246.4 475.1,2245.9 477.5,2245.3 479.8,2244.5 482.2,2243.6 484.6,2242.5 487.0,2241.3 489.4,2239.8 491.7,2238.1 494.1,2236.1 496.5,2233.8 498.9,2231.2 501.2,2228.3 503.6,2225.1 506.0,2221.5 508.4,2217.5 510.8,2213.2 513.1,2208.6 515.5,2203.8 517.9,2198.6 520.3,2193.3 522.7,2187.9 525.0,2182.4 527.4,2176.9 529.8,2171.5 532.2,2166.4 534.6,2161.6 536.9,2157.2 539.3,2153.3 541.7,2150.1 544.1,2147.6 546.4,2145.9 548.8,2145.1 551.2,2145.1 553.6,2145.7 556.0,2147.0 558.3,2148.9 560.7,2151.4 563.1,2154.3 565.5,2157.7 567.9,2161.5 570.2,2165.5 572.6,2169.9 575.0,2174.4 577.4,2179.0 579.8,2183.7 582.1,2188.4 584.5,2193.0 586.9,2197.5 589.3,2202.0 591.6,2206.2 594.0,2210.3 596.4,2214.1 598.8,2217.7 601.2,2221.1 603.5,2224.2 605.9,2227.1 608.3,2229.7 610.7,2232.1 613.1,2234.2 615.4,2236.1 617.8,2237.8 620.2,2239.3 622.6,2240.7 625.0,2241.8 627.3,2242.9 629.7,2243.7 632.1,2244.5 634.5,2245.1 636.8,2245.7 639.2,2246.2 641.6,2246.6 644.0,2246.9 646.4,2247.2 648.7,2247.5 651.1,2247.7 653.5,2247.9 655.9,2248.0 658.3,2248.2 660.6,2248.3 663.0,2248.4 665.4,2248.5 667.8,2248.6 670.2,2248.6 672.5,2248.7 674.9,2248.7 677.3,2248.8 679.7,2248.8 682.0,2248.9 684.4,2248.9 686.8,2249.0 689.2,2249.0 691.6,2249.0 693.9,2249.1 696.3,2249.1 698.7,2249.1 701.1,2249.2 703.5,2249.2 705.8,2249.2 708.2,2249.2 710.6,2249.3 713.0,2249.3 715.4,2249.3 717.7,2249.3 720.1,2249.3 722.5,2249.4 724.9,2249.4 727.2,2249.4 729.6,2249.4 732.0,2249.4 734.4,2249.4 736.8,2249.5 739.1,2249.5 741.5,2249.5 743.9,2249.5 746.3,2249.5 748.7,2249.5 751.0,2249.5 753.4,2249.5 755.8,2249.6 758.2,2249.6 760.6,2249.6 762.9,2249.6 765.3,2249.6 767.7,2249.6 770.1,2249.6 772.4,2249.6 774.8,2249.6 777.2,2249.6 779.6,2249.7 782.0,2249.7 784.3,2249.7 786.7,2249.7 789.1,2249.7 791.5,2249.7 793.9,2249.7 796.2,2249.7 798.6,2249.7 801.0,2249.7 803.4,2249.7 805.8,2249.7 808.1,2249.7 810.5,2249.7" fill="none" stroke="#6e5416" stroke-width="2.3" stroke-linejoin="round"/>
<polyline points="194.4,2248.7 195.6,2248.7 196.8,2248.7 198.1,2248.7 199.3,2248.7 200.5,2248.7 201.8,2248.7 203.0,2248.7 204.2,2248.7 205.5,2248.7 206.7,2248.7 207.9,2248.7 209.2,2248.7 210.4,2248.6 211.6,2248.6 212.9,2248.6 214.1,2248.6 215.3,2248.6 216.6,2248.6 217.8,2248.6 219.1,2248.6 220.3,2248.6 221.5,2248.5 222.8,2248.5 224.0,2248.5 225.2,2248.5 226.5,2248.5 227.7,2248.5 228.9,2248.4 230.2,2248.4 231.4,2248.4 232.6,2248.4 233.9,2248.3 235.1,2248.3 236.3,2248.3 237.6,2248.2 238.8,2248.2 240.0,2248.2 241.3,2248.1 242.5,2248.1 243.7,2248.1 245.0,2248.0 246.2,2248.0 247.5,2247.9 248.7,2247.9 249.9,2247.8 251.2,2247.8 252.4,2247.7 253.6,2247.7 254.9,2247.6 256.1,2247.5 257.3,2247.5 258.6,2247.4 259.8,2247.3 261.0,2247.3 262.3,2247.2 263.5,2247.1 264.7,2247.0 266.0,2247.0 267.2,2246.9 268.4,2246.8 269.7,2246.7 270.9,2246.6 272.1,2246.5 273.4,2246.4 274.6,2246.3 275.9,2246.2 277.1,2246.1 278.3,2246.0 279.6,2245.9 280.8,2245.7 282.0,2245.6 283.3,2245.5 284.5,2245.4 285.7,2245.2 287.0,2245.1 288.2,2245.0 289.4,2244.8 290.7,2244.7 291.9,2244.5 293.1,2244.4 294.4,2244.2 295.6,2244.1 296.8,2243.9 298.1,2243.7 299.3,2243.5 300.5,2243.4 301.8,2243.2 303.0,2243.0 304.3,2242.8 305.5,2242.6 306.7,2242.4 308.0,2242.1 309.2,2241.9 310.4,2241.7 311.7,2241.4 312.9,2241.1 314.1,2240.8 315.4,2240.6 316.6,2240.2 317.8,2239.9 319.1,2239.6 320.3,2239.2 321.5,2238.8 322.8,2238.4 324.0,2237.9 325.2,2237.5 326.5,2236.9 327.7,2236.4 328.9,2235.8 330.2,2235.2 331.4,2234.5 332.7,2233.8 333.9,2233.1 335.1,2232.2 336.4,2231.4 337.6,2230.4 338.8,2229.4 340.1,2228.4 341.3,2227.2 342.5,2226.0 343.8,2224.7 345.0,2223.3 346.2,2221.8 347.5,2220.2 348.7,2218.6 349.9,2216.8 351.2,2214.9 352.4,2212.9 353.6,2210.8 354.9,2208.6 356.1,2206.3 357.3,2203.9 358.6,2201.3 359.8,2198.6 361.1,2195.8 362.3,2192.8 363.5,2189.8 364.8,2186.6 366.0,2183.2 367.2,2179.8 368.5,2176.2 369.7,2172.6 370.9,2168.8 372.2,2164.9 373.4,2160.9 374.6,2156.7 375.9,2152.5 377.1,2148.2 378.3,2143.9 379.6,2139.4 380.8,2134.9 382.0,2130.3 383.3,2125.7 384.5,2121.1 385.7,2116.4 387.0,2111.7 388.2,2107.0 389.5,2102.3 390.7,2097.6 391.9,2092.9 393.2,2088.2 394.4,2083.6 395.6,2079.0 396.9,2074.5 398.1,2070.0 399.3,2065.6 400.6,2061.3 401.8,2057.0 403.0,2052.8 404.3,2048.6 405.5,2044.6 406.7,2040.5 408.0,2036.6 409.2,2032.6 410.4,2028.7 411.7,2024.9 412.9,2021.1 414.1,2017.2 415.4,2013.4 416.6,2009.5 417.9,2005.6 419.1,2001.6 420.3,1997.5 421.6,1993.4 422.8,1989.1 424.0,1984.6 425.3,1980.0 426.5,1975.3 427.7,1970.3 429.0,1965.1 430.2,1959.7 431.4,1954.1 432.7,1948.2 433.9,1942.0 435.1,1935.6 436.4,1928.9 437.6,1922.0 438.8,1914.8 440.1,1907.4 441.3,1899.7 442.5,1891.9 443.8,1883.8 445.0,1875.6 446.3,1867.3 447.5,1858.9 448.7,1850.4 450.0,1842.0 451.2,1833.6 452.4,1825.2 453.7,1817.0 454.9,1809.1 456.1,1801.3 457.4,1793.9 458.6,1786.8 459.8,1780.1 461.1,1773.9 462.3,1768.2 463.5,1763.1 464.8,1758.6 466.0,1754.7 467.2,1751.5 468.5,1749.1 469.7,1747.4 470.9,1746.4 472.2,1746.2 473.4,1746.8 474.7,1748.2 475.9,1750.3 477.1,1753.1 478.4,1756.7 479.6,1761.0 480.8,1766.0 482.1,1771.5 483.3,1777.6 484.5,1784.3 485.8,1791.4 487.0,1798.9 488.2,1806.8 489.5,1815.0 490.7,1823.4 491.9,1832.1 493.2,1841.0 494.4,1850.1 495.6,1859.3 496.9,1868.6 498.1,1878.0 499.3,1887.4 500.6,1897.0 501.8,1906.6 503.1,1916.2 504.3,1925.8 505.5,1935.5 506.8,1945.1 508.0,1954.6 509.2,1964.1 510.5,1973.4 511.7,1982.6 512.9,1991.5 514.2,2000.2 515.4,2008.6 516.6,2016.7 517.9,2024.3 519.1,2031.6 520.3,2038.5 521.6,2045.0 522.8,2051.0 524.0,2056.6 525.3,2061.8 526.5,2066.5 527.7,2070.9 529.0,2074.8 530.2,2078.5 531.5,2081.8 532.7,2084.9 533.9,2087.7 535.2,2090.2 536.4,2092.6 537.6,2094.8 538.9,2096.9 540.1,2098.9 541.3,2100.8 542.6,2102.7 543.8,2104.5 545.0,2106.2 546.3,2108.0 547.5,2109.7 548.7,2111.5 550.0,2113.3 551.2,2115.1 552.4,2117.0 553.7,2118.9 554.9,2120.8 556.1,2122.8 557.4,2124.9 558.6,2127.0 559.9,2129.1 561.1,2131.3 562.3,2133.6 563.6,2135.9 564.8,2138.3 566.0,2140.7 567.3,2143.1 568.5,2145.6 569.7,2148.1 571.0,2150.6 572.2,2153.2 573.4,2155.8 574.7,2158.4 575.9,2161.0 577.1,2163.6 578.4,2166.3 579.6,2168.9 580.8,2171.5 582.1,2174.1 583.3,2176.7 584.5,2179.3 585.8,2181.8 587.0,2184.3 588.3,2186.8 589.5,2189.2 590.7,2191.6 592.0,2194.0 593.2,2196.3 594.4,2198.6 595.7,2200.8 596.9,2203.0 598.1,2205.1 599.4,2207.1 600.6,2209.1 601.8,2211.1 603.1,2213.0 604.3,2214.8 605.5,2216.5 606.8,2218.2 608.0,2219.9 609.2,2221.5 610.5,2223.0 611.7,2224.4 612.9,2225.8 614.2,2227.2 615.4,2228.5 616.7,2229.7 617.9,2230.9 619.1,2232.0 620.4,2233.0 621.6,2234.0 622.8,2235.0 624.1,2235.9 625.3,2236.8 626.5,2237.6 627.8,2238.4 629.0,2239.1 630.2,2239.8 631.5,2240.4 632.7,2241.0 633.9,2241.6 635.2,2242.1 636.4,2242.6 637.6,2243.1 638.9,2243.5 640.1,2243.9 641.3,2244.3 642.6,2244.7 643.8,2245.0 645.1,2245.3 646.3,2245.6 647.5,2245.9 648.8,2246.1 650.0,2246.3 651.2,2246.5 652.5,2246.7 653.7,2246.9 654.9,2247.1 656.2,2247.2 657.4,2247.4 658.6,2247.5 659.9,2247.6 661.1,2247.7 662.3,2247.8 663.6,2247.9 664.8,2248.0 666.0,2248.1 667.3,2248.1 668.5,2248.2 669.7,2248.3 671.0,2248.3 672.2,2248.3 673.5,2248.4 674.7,2248.4 675.9,2248.5 677.2,2248.5 678.4,2248.5 679.6,2248.5 680.9,2248.6 682.1,2248.6 683.3,2248.6 684.6,2248.6 685.8,2248.6 687.0,2248.7 688.3,2248.7 689.5,2248.7 690.7,2248.7 692.0,2248.7 693.2,2248.7 694.4,2248.7 695.7,2248.7 696.9,2248.7 698.1,2248.7 699.4,2248.7 700.6,2248.7 701.9,2248.7 703.1,2248.7 704.3,2248.7 705.6,2248.7 706.8,2248.7 708.0,2248.7 709.3,2248.7 710.5,2248.7 711.7,2248.7 713.0,2248.7 714.2,2248.8 715.4,2248.8 716.7,2248.8 717.9,2248.8 719.1,2248.8 720.4,2248.8 721.6,2248.8 722.8,2248.8 724.1,2248.8 725.3,2248.8 726.5,2248.8 727.8,2248.8 729.0,2248.8 730.3,2248.8 731.5,2248.8 732.7,2248.8 734.0,2248.8 735.2,2248.8 736.4,2248.8 737.7,2248.8 738.9,2248.8 740.1,2248.8 741.4,2248.8 742.6,2248.8 743.8,2248.8 745.1,2248.8 746.3,2248.8 747.5,2248.8 748.8,2248.8 750.0,2248.8 751.2,2248.8 752.5,2248.8 753.7,2248.8 754.9,2248.8 756.2,2248.8 757.4,2248.8 758.7,2248.8 759.9,2248.8 761.1,2248.8 762.4,2248.8 763.6,2248.8 764.8,2248.8 766.1,2248.8 767.3,2248.8 768.5,2248.8 769.8,2248.8 771.0,2248.8 772.2,2248.8 773.5,2248.8 774.7,2248.8 775.9,2248.8 777.2,2248.8 778.4,2248.8 779.6,2248.8 780.9,2248.8 782.1,2248.8 783.3,2248.8 784.6,2248.8 785.8,2248.8 787.1,2248.8 788.3,2248.8 789.5,2248.8 790.8,2248.8 792.0,2248.8 793.2,2248.8 794.5,2248.8 795.7,2248.8 796.9,2248.8 798.2,2248.8 799.4,2248.8 800.6,2248.8 801.9,2248.8 803.1,2248.8 804.3,2248.8 805.6,2248.8 806.8,2248.8 808.0,2248.8 809.3,2248.8 810.5,2248.8" fill="none" stroke="#000" stroke-width="2.7" stroke-linejoin="round" stroke-linecap="round"/>
<line x1="473.9" y1="1729.0" x2="473.9" y2="2316.4" stroke="#660099" stroke-width="3.1"/>
<line x1="410.2" y1="1881.7" x2="410.2" y2="2316.4" stroke="#800000" stroke-width="3.1"/>
<line x1="551.5" y1="1883.8" x2="551.5" y2="2316.4" stroke="#6e5416" stroke-width="3.1"/>
<line x1="473.9" y1="1785.7" x2="533.0" y2="1785.7" stroke="#660099" stroke-width="3.0"/>
<path d="M549.5,1785.7 L531.0,1780.8 L532.2,1785.7 L531.0,1790.6 Z" fill="#660099" stroke="#660099" stroke-width="0.8" stroke-linejoin="round"/>
<line x1="410.2" y1="2006.9" x2="343.9" y2="2006.9" stroke="#800000" stroke-width="3.0"/>
<path d="M327.4,2006.9 L345.9,2002.0 L344.7,2006.9 L345.9,2011.8 Z" fill="#800000" stroke="#800000" stroke-width="0.8" stroke-linejoin="round"/>
<line x1="551.5" y1="2034.5" x2="609.3" y2="2034.5" stroke="#6e5416" stroke-width="3.0"/>
<path d="M625.8,2034.5 L607.3,2029.6 L608.5,2034.5 L607.3,2039.4 Z" fill="#6e5416" stroke="#6e5416" stroke-width="0.8" stroke-linejoin="round"/>
<text x="125.1" y="1757.1" font-size="72.5" fill="#000" text-anchor="start">(c)</text>
<rect x="773.3" y="1693.8" width="124.5" height="68.2" fill="#00f0f0"/>
<text x="778.3" y="1747.0" font-size="53" fill="#000" text-anchor="start" font-weight="bold">N 1s</text>
<text x="556.8" y="1770.8" font-size="33" fill="#660099" text-anchor="start">N-O and/or</text>
<text x="556.8" y="1810.4" font-size="33" fill="#660099" text-anchor="start">N-P bonds</text>
<text x="158.6" y="2019.0" font-size="33" fill="#800000" text-anchor="start">In-N bonds</text>
<rect x="185.1" y="2029.9" width="91.1" height="44.2" fill="#11ee11"/>
<text x="230.1" y="2063.2" font-size="33" fill="#800000" text-anchor="middle">- 1.38</text>
<text x="662.6" y="2026.3" font-size="33" fill="#6e5416" text-anchor="start">N-O and/or</text>
<text x="662.6" y="2065.9" font-size="33" fill="#6e5416" text-anchor="start">N-P bonds</text>
<rect x="689.1" y="2088.3" width="99.1" height="44.5" fill="#11ee11"/>
<text x="738.1" y="2121.8" font-size="33" fill="#6e5416" text-anchor="middle">+ 1.69</text>
<line x1="116.2" y1="2254.0" x2="122.7" y2="2254.0" class="tk"/>
<line x1="116.2" y1="2141.4" x2="122.7" y2="2141.4" class="tk"/>
<line x1="116.2" y1="2028.8" x2="122.7" y2="2028.8" class="tk"/>
<line x1="116.2" y1="1916.1" x2="122.7" y2="1916.1" class="tk"/>
<line x1="116.2" y1="1803.5" x2="122.7" y2="1803.5" class="tk"/>
<line x1="116.2" y1="1690.9" x2="122.7" y2="1690.9" class="tk"/>
<line x1="110.2" y1="2310.3" x2="122.7" y2="2310.3" class="tk"/>
<text x="101.8" y="2318.9" text-anchor="end" class="tl" style="font-size:29.5px">0.0</text>
<line x1="110.2" y1="2197.7" x2="122.7" y2="2197.7" class="tk"/>
<text x="101.8" y="2206.3" text-anchor="end" class="tl" style="font-size:29.5px">0.2</text>
<line x1="110.2" y1="2085.1" x2="122.7" y2="2085.1" class="tk"/>
<text x="101.8" y="2093.7" text-anchor="end" class="tl" style="font-size:29.5px">0.4</text>
<line x1="110.2" y1="1972.4" x2="122.7" y2="1972.4" class="tk"/>
<text x="101.8" y="1981.0" text-anchor="end" class="tl" style="font-size:29.5px">0.6</text>
<line x1="110.2" y1="1859.8" x2="122.7" y2="1859.8" class="tk"/>
<text x="101.8" y="1868.4" text-anchor="end" class="tl" style="font-size:29.5px">0.8</text>
<line x1="110.2" y1="1747.2" x2="122.7" y2="1747.2" class="tk"/>
<text x="101.8" y="1755.8" text-anchor="end" class="tl" style="font-size:29.5px">1.0</text>
<line x1="122.7" y1="2316.4" x2="122.7" y2="2322.4" class="tk"/>
<line x1="214.0" y1="2316.4" x2="214.0" y2="2322.4" class="tk"/>
<line x1="305.3" y1="2316.4" x2="305.3" y2="2322.4" class="tk"/>
<line x1="396.5" y1="2316.4" x2="396.5" y2="2322.4" class="tk"/>
<line x1="487.8" y1="2316.4" x2="487.8" y2="2322.4" class="tk"/>
<line x1="579.1" y1="2316.4" x2="579.1" y2="2322.4" class="tk"/>
<line x1="670.4" y1="2316.4" x2="670.4" y2="2322.4" class="tk"/>
<line x1="761.7" y1="2316.4" x2="761.7" y2="2322.4" class="tk"/>
<line x1="853.0" y1="2316.4" x2="853.0" y2="2322.4" class="tk"/>
<line x1="168.3" y1="2316.4" x2="168.3" y2="2328.9" class="tk"/>
<text x="168.9" y="2359.9" text-anchor="middle" class="tl">394</text>
<line x1="259.6" y1="2316.4" x2="259.6" y2="2328.9" class="tk"/>
<text x="260.2" y="2359.9" text-anchor="middle" class="tl">396</text>
<line x1="350.9" y1="2316.4" x2="350.9" y2="2328.9" class="tk"/>
<text x="351.5" y="2359.9" text-anchor="middle" class="tl">398</text>
<line x1="442.2" y1="2316.4" x2="442.2" y2="2328.9" class="tk"/>
<text x="442.8" y="2359.9" text-anchor="middle" class="tl">400</text>
<line x1="533.5" y1="2316.4" x2="533.5" y2="2328.9" class="tk"/>
<text x="534.1" y="2359.9" text-anchor="middle" class="tl">402</text>
<line x1="624.8" y1="2316.4" x2="624.8" y2="2328.9" class="tk"/>
<text x="625.4" y="2359.9" text-anchor="middle" class="tl">404</text>
<line x1="716.0" y1="2316.4" x2="716.0" y2="2328.9" class="tk"/>
<text x="716.6" y="2359.9" text-anchor="middle" class="tl">406</text>
<line x1="807.3" y1="2316.4" x2="807.3" y2="2328.9" class="tk"/>
<text x="807.9" y="2359.9" text-anchor="middle" class="tl">408</text>
<line x1="898.6" y1="2316.4" x2="898.6" y2="2328.9" class="tk"/>
<text x="899.2" y="2359.9" text-anchor="middle" class="tl">410</text>
<rect x="122.7" y="1690.8" width="775.9" height="625.6" class="fr"/>
<text x="510.7" y="2417.4" text-anchor="middle" class="at">Binding energy (eV)</text>
<text transform="translate(28.2,2003.3) rotate(-90)" text-anchor="middle" class="at" font-size="38.5" style="font-size:38.5px">Normalized intensity (arb. units)</text>
</svg></body></html>
